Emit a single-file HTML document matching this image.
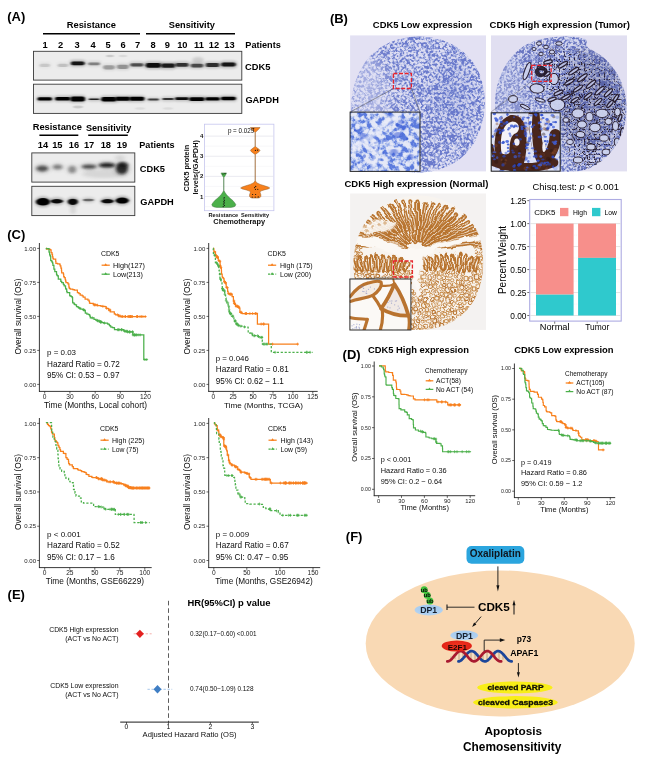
<!DOCTYPE html>
<html lang="en"><head><meta charset="utf-8"><title>CDK5 figure</title>
<style>html,body{margin:0;padding:0;background:#fff;}svg{display:block;}text{font-family:"Liberation Sans",sans-serif;}</style></head>
<body>
<svg width="669" height="773" viewBox="0 0 669 773">
<rect width="669" height="773" fill="#ffffff"/>
<defs>
<filter id="b1" x="-30%" y="-80%" width="160%" height="260%"><feGaussianBlur stdDeviation="1.1 0.7"/></filter>
<filter id="b2" x="-30%" y="-80%" width="160%" height="260%"><feGaussianBlur stdDeviation="1.6 1.1"/></filter>
<filter id="b3" x="-30%" y="-80%" width="160%" height="260%"><feGaussianBlur stdDeviation="2.2 1.6"/></filter>
<filter id="b8" x="-50%" y="-50%" width="200%" height="200%"><feGaussianBlur stdDeviation="8"/></filter>
<filter id="soft" x="-10%" y="-10%" width="120%" height="120%"><feGaussianBlur stdDeviation="0.5"/></filter>
</defs>
<text x="7.20" y="21.20" font-size="13" font-weight="bold" fill="#000">(A)</text>
<text x="66.74" y="28.00" font-size="9.34" font-weight="bold" fill="#000">Resistance</text>
<text x="168.75" y="27.70" font-size="9.22" font-weight="bold" fill="#000">Sensitivity</text>
<line x1="43.00" y1="33.80" x2="140.00" y2="33.80" stroke="#000" stroke-width="1.5" />
<line x1="146.00" y1="33.80" x2="235.00" y2="33.80" stroke="#000" stroke-width="1.5" />
<text x="42.41" y="48.30" font-size="9.3" font-weight="bold" fill="#000">1</text>
<text x="57.91" y="48.30" font-size="9.3" font-weight="bold" fill="#000">2</text>
<text x="74.41" y="48.30" font-size="9.3" font-weight="bold" fill="#000">3</text>
<text x="90.41" y="48.30" font-size="9.3" font-weight="bold" fill="#000">4</text>
<text x="105.41" y="48.30" font-size="9.3" font-weight="bold" fill="#000">5</text>
<text x="120.41" y="48.30" font-size="9.3" font-weight="bold" fill="#000">6</text>
<text x="134.91" y="48.30" font-size="9.3" font-weight="bold" fill="#000">7</text>
<text x="150.41" y="48.30" font-size="9.3" font-weight="bold" fill="#000">8</text>
<text x="164.81" y="48.30" font-size="9.3" font-weight="bold" fill="#000">9</text>
<text x="177.13" y="48.30" font-size="9.3" font-weight="bold" fill="#000">10</text>
<text x="193.98" y="48.30" font-size="9.3" font-weight="bold" fill="#000">11</text>
<text x="208.83" y="48.30" font-size="9.3" font-weight="bold" fill="#000">12</text>
<text x="224.23" y="48.30" font-size="9.3" font-weight="bold" fill="#000">13</text>
<text x="245.30" y="48.40" font-size="9.15" font-weight="bold" fill="#000">Patients</text>
<text x="245.00" y="70.00" font-size="9.32" font-weight="bold" fill="#000">CDK5</text>
<text x="245.40" y="102.60" font-size="9.28" font-weight="bold" fill="#000">GAPDH</text>
<clipPath id="cA1"><rect x="33.5" y="51.3" width="208.3" height="28.8"/></clipPath>
<rect x="33.50" y="51.30" width="208.30" height="28.80" fill="#ececec" stroke="#3a3a3a" stroke-width="0.9" />
<g clip-path="url(#cA1)">
<rect x="38.3" y="62.1" width="13.0" height="6.4" rx="3.2" ry="3.2" fill="#333" opacity="0.04" filter="url(#b2)"/>
<rect x="39.8" y="63.7" width="10.0" height="3.2" rx="1.6" ry="1.6" fill="#0a0a0a" opacity="0.13" filter="url(#b1)"/>
<rect x="56.4" y="62.1" width="13.0" height="6.4" rx="3.2" ry="3.2" fill="#333" opacity="0.04" filter="url(#b2)"/>
<rect x="57.9" y="63.7" width="10.0" height="3.2" rx="1.6" ry="1.6" fill="#0a0a0a" opacity="0.16" filter="url(#b1)"/>
<rect x="69.5" y="59.8" width="16.5" height="7.0" rx="3.5" ry="3.5" fill="#333" opacity="0.27" filter="url(#b2)"/>
<rect x="71.0" y="61.4" width="13.5" height="3.8" rx="1.9" ry="1.9" fill="#0a0a0a" opacity="0.95" filter="url(#b1)"/>
<rect x="86.8" y="60.8" width="14.5" height="6.0" rx="3.0" ry="3.0" fill="#333" opacity="0.12" filter="url(#b2)"/>
<rect x="88.3" y="62.4" width="11.5" height="2.8" rx="1.4" ry="1.4" fill="#0a0a0a" opacity="0.42" filter="url(#b1)"/>
<rect x="101.8" y="63.6" width="14.5" height="7.4" rx="3.7" ry="3.7" fill="#333" opacity="0.08" filter="url(#b2)"/>
<rect x="103.2" y="65.2" width="11.5" height="4.2" rx="2.1" ry="2.1" fill="#0a0a0a" opacity="0.30" filter="url(#b1)"/>
<rect x="115.5" y="63.1" width="14.5" height="7.4" rx="3.7" ry="3.7" fill="#333" opacity="0.10" filter="url(#b2)"/>
<rect x="117.0" y="64.7" width="11.5" height="4.2" rx="2.1" ry="2.1" fill="#0a0a0a" opacity="0.34" filter="url(#b1)"/>
<rect x="128.9" y="61.6" width="16.0" height="6.4" rx="3.2" ry="3.2" fill="#333" opacity="0.18" filter="url(#b2)"/>
<rect x="130.4" y="63.2" width="13.0" height="3.2" rx="1.6" ry="1.6" fill="#0a0a0a" opacity="0.66" filter="url(#b1)"/>
<rect x="144.2" y="61.3" width="18.5" height="8.0" rx="4.0" ry="4.0" fill="#333" opacity="0.28" filter="url(#b2)"/>
<rect x="145.7" y="62.9" width="15.5" height="4.8" rx="2.4" ry="2.4" fill="#0a0a0a" opacity="1.00" filter="url(#b1)"/>
<rect x="159.7" y="61.8" width="17.0" height="7.6" rx="3.8" ry="3.8" fill="#333" opacity="0.26" filter="url(#b2)"/>
<rect x="161.2" y="63.4" width="14.0" height="4.4" rx="2.2" ry="2.2" fill="#0a0a0a" opacity="0.92" filter="url(#b1)"/>
<rect x="174.0" y="61.3" width="16.0" height="7.0" rx="3.5" ry="3.5" fill="#333" opacity="0.22" filter="url(#b2)"/>
<rect x="175.5" y="62.9" width="13.0" height="3.8" rx="1.9" ry="1.9" fill="#0a0a0a" opacity="0.80" filter="url(#b1)"/>
<rect x="189.2" y="62.1" width="15.5" height="7.0" rx="3.5" ry="3.5" fill="#333" opacity="0.19" filter="url(#b2)"/>
<rect x="190.8" y="63.7" width="12.5" height="3.8" rx="1.9" ry="1.9" fill="#0a0a0a" opacity="0.68" filter="url(#b1)"/>
<rect x="204.3" y="61.5" width="16.5" height="7.0" rx="3.5" ry="3.5" fill="#333" opacity="0.23" filter="url(#b2)"/>
<rect x="205.8" y="63.1" width="13.5" height="3.8" rx="1.9" ry="1.9" fill="#0a0a0a" opacity="0.82" filter="url(#b1)"/>
<rect x="219.7" y="60.8" width="17.5" height="7.4" rx="3.7" ry="3.7" fill="#333" opacity="0.27" filter="url(#b2)"/>
<rect x="221.2" y="62.4" width="14.5" height="4.2" rx="2.1" ry="2.1" fill="#0a0a0a" opacity="0.95" filter="url(#b1)"/>
<ellipse cx="110" cy="56" rx="4" ry="1.2" fill="#555" opacity=".22" filter="url(#b1)"/>
<ellipse cx="123" cy="56" rx="4" ry="1.2" fill="#555" opacity=".12" filter="url(#b1)"/>
<ellipse cx="198" cy="60" rx="6" ry="3" fill="#555" opacity=".2" filter="url(#b2)"/>
</g>
<clipPath id="cA2"><rect x="33.5" y="84.2" width="208.3" height="29.2"/></clipPath>
<rect x="33.50" y="84.20" width="208.30" height="29.20" fill="#ececec" stroke="#3a3a3a" stroke-width="0.9" />
<g clip-path="url(#cA2)">
<rect x="36.3" y="96.0" width="16.9" height="6.1" rx="3.0" ry="3.0" fill="#333" opacity="0.25" filter="url(#b2)"/>
<rect x="37.5" y="97.3" width="14.5" height="3.3" rx="1.6" ry="1.6" fill="#050505" opacity="1.00" filter="url(#b1)"/>
<rect x="54.0" y="95.5" width="17.9" height="6.5" rx="3.2" ry="3.2" fill="#333" opacity="0.25" filter="url(#b2)"/>
<rect x="55.1" y="96.9" width="15.5" height="3.7" rx="1.9" ry="1.9" fill="#050505" opacity="1.00" filter="url(#b1)"/>
<rect x="69.2" y="95.1" width="16.9" height="7.8" rx="3.9" ry="3.9" fill="#333" opacity="0.25" filter="url(#b2)"/>
<rect x="70.5" y="96.5" width="14.5" height="5.0" rx="2.5" ry="2.5" fill="#050505" opacity="1.00" filter="url(#b1)"/>
<rect x="87.6" y="97.2" width="12.9" height="4.2" rx="2.1" ry="2.1" fill="#333" opacity="0.21" filter="url(#b2)"/>
<rect x="88.8" y="98.6" width="10.5" height="1.4" rx="0.7" ry="0.7" fill="#050505" opacity="0.85" filter="url(#b1)"/>
<rect x="100.0" y="95.6" width="17.9" height="7.4" rx="3.7" ry="3.7" fill="#333" opacity="0.25" filter="url(#b2)"/>
<rect x="101.2" y="97.0" width="15.5" height="4.6" rx="2.3" ry="2.3" fill="#050505" opacity="1.00" filter="url(#b1)"/>
<rect x="114.1" y="95.4" width="17.4" height="6.7" rx="3.3" ry="3.3" fill="#333" opacity="0.25" filter="url(#b2)"/>
<rect x="115.3" y="96.8" width="15.0" height="3.9" rx="1.9" ry="1.9" fill="#050505" opacity="1.00" filter="url(#b1)"/>
<rect x="128.2" y="95.5" width="17.4" height="6.7" rx="3.3" ry="3.3" fill="#333" opacity="0.25" filter="url(#b2)"/>
<rect x="129.4" y="96.8" width="15.0" height="3.9" rx="1.9" ry="1.9" fill="#050505" opacity="1.00" filter="url(#b1)"/>
<rect x="146.7" y="97.2" width="13.4" height="4.7" rx="2.3" ry="2.3" fill="#333" opacity="0.17" filter="url(#b2)"/>
<rect x="147.9" y="98.6" width="11.0" height="1.9" rx="0.9" ry="0.9" fill="#050505" opacity="0.70" filter="url(#b1)"/>
<rect x="161.2" y="96.5" width="13.9" height="5.0" rx="2.5" ry="2.5" fill="#333" opacity="0.19" filter="url(#b2)"/>
<rect x="162.4" y="97.9" width="11.5" height="2.2" rx="1.1" ry="1.1" fill="#050505" opacity="0.75" filter="url(#b1)"/>
<rect x="174.1" y="95.9" width="15.9" height="5.7" rx="2.8" ry="2.8" fill="#333" opacity="0.24" filter="url(#b2)"/>
<rect x="175.2" y="97.2" width="13.5" height="2.9" rx="1.4" ry="1.4" fill="#050505" opacity="0.95" filter="url(#b1)"/>
<rect x="188.1" y="95.8" width="17.9" height="6.5" rx="3.2" ry="3.2" fill="#333" opacity="0.25" filter="url(#b2)"/>
<rect x="189.2" y="97.2" width="15.5" height="3.7" rx="1.9" ry="1.9" fill="#050505" opacity="1.00" filter="url(#b1)"/>
<rect x="204.2" y="96.0" width="16.9" height="6.1" rx="3.0" ry="3.0" fill="#333" opacity="0.25" filter="url(#b2)"/>
<rect x="205.3" y="97.3" width="14.5" height="3.3" rx="1.6" ry="1.6" fill="#050505" opacity="1.00" filter="url(#b1)"/>
<rect x="219.7" y="95.3" width="17.4" height="6.3" rx="3.1" ry="3.1" fill="#333" opacity="0.25" filter="url(#b2)"/>
<rect x="220.9" y="96.8" width="15.0" height="3.5" rx="1.8" ry="1.8" fill="#050505" opacity="1.00" filter="url(#b1)"/>
<ellipse cx="78" cy="107" rx="5" ry="1.4" fill="#555" opacity=".22" filter="url(#b1)"/>
<ellipse cx="140" cy="108.5" rx="5" ry="1.2" fill="#555" opacity=".1" filter="url(#b1)"/>
<ellipse cx="168" cy="108.5" rx="5" ry="1.2" fill="#555" opacity=".1" filter="url(#b1)"/>
</g>
<text x="32.70" y="130.40" font-size="9.32" font-weight="bold" fill="#000">Resistance</text>
<text x="86.00" y="130.90" font-size="9.08" font-weight="bold" fill="#000">Sensitivity</text>
<line x1="39.40" y1="135.20" x2="78.30" y2="135.20" stroke="#000" stroke-width="1.5" />
<line x1="88.20" y1="135.20" x2="127.80" y2="135.20" stroke="#000" stroke-width="1.5" />
<text x="37.73" y="147.90" font-size="9.3" font-weight="bold" fill="#000">14</text>
<text x="52.13" y="147.90" font-size="9.3" font-weight="bold" fill="#000">15</text>
<text x="68.83" y="147.90" font-size="9.3" font-weight="bold" fill="#000">16</text>
<text x="83.93" y="147.90" font-size="9.3" font-weight="bold" fill="#000">17</text>
<text x="100.63" y="147.90" font-size="9.3" font-weight="bold" fill="#000">18</text>
<text x="116.73" y="147.90" font-size="9.3" font-weight="bold" fill="#000">19</text>
<text x="139.30" y="147.90" font-size="9.07" font-weight="bold" fill="#000">Patients</text>
<text x="139.80" y="171.80" font-size="9.25" font-weight="bold" fill="#000">CDK5</text>
<text x="140.30" y="204.80" font-size="9.28" font-weight="bold" fill="#000">GAPDH</text>
<clipPath id="cA3"><rect x="31.8" y="152.9" width="103" height="29.2"/></clipPath>
<rect x="31.80" y="152.90" width="103.00" height="29.20" fill="#ececec" stroke="#3a3a3a" stroke-width="0.9" />
<g clip-path="url(#cA3)">
<ellipse cx="42.3" cy="168.6" rx="7.95" ry="5.0" fill="#333" opacity="0.19" filter="url(#b3)"/>
<ellipse cx="42.3" cy="168.6" rx="5.75" ry="2.8" fill="#111" opacity="0.62" filter="url(#b2)"/>
<ellipse cx="57.6" cy="167" rx="6.7" ry="4.4" fill="#333" opacity="0.13" filter="url(#b3)"/>
<ellipse cx="57.6" cy="167" rx="4.5" ry="2.2" fill="#111" opacity="0.42" filter="url(#b2)"/>
<ellipse cx="72.2" cy="169.4" rx="5.95" ry="5.7" fill="#333" opacity="0.11" filter="url(#b3)"/>
<ellipse cx="72.2" cy="169.4" rx="3.75" ry="3.5" fill="#111" opacity="0.36" filter="url(#b2)"/>
<ellipse cx="89" cy="166.7" rx="9.2" ry="4.1" fill="#333" opacity="0.20" filter="url(#b3)"/>
<ellipse cx="89" cy="166.7" rx="7.0" ry="1.9" fill="#111" opacity="0.66" filter="url(#b2)"/>
<ellipse cx="107" cy="165.2" rx="10.2" ry="4.300000000000001" fill="#333" opacity="0.26" filter="url(#b3)"/>
<ellipse cx="107" cy="165.2" rx="8.0" ry="2.1" fill="#111" opacity="0.88" filter="url(#b2)"/>
<ellipse cx="121.8" cy="168.6" rx="7.95" ry="7.7" fill="#333" opacity="0.25" filter="url(#b3)"/>
<ellipse cx="121.8" cy="168.6" rx="5.75" ry="5.5" fill="#111" opacity="0.82" filter="url(#b2)"/>
<ellipse cx="123" cy="165" rx="5.5" ry="3" fill="#111" opacity=".6" filter="url(#b2)"/>
<ellipse cx="104" cy="174" rx="22" ry="4" fill="#666" opacity=".16" filter="url(#b3)"/>
<ellipse cx="120" cy="158" rx="5" ry="3" fill="#666" opacity=".16" filter="url(#b3)"/>
</g>
<clipPath id="cA4"><rect x="31.8" y="186.3" width="103" height="29.3"/></clipPath>
<rect x="31.80" y="186.30" width="103.00" height="29.30" fill="#ececec" stroke="#3a3a3a" stroke-width="0.9" />
<g clip-path="url(#cA4)">
<ellipse cx="43" cy="201.8" rx="8.6" ry="5.5" fill="#333" opacity="0.30" filter="url(#b2)"/>
<ellipse cx="43" cy="201.8" rx="7.0" ry="3.7" fill="#050505" opacity="1" filter="url(#b1)"/>
<ellipse cx="56.8" cy="201.2" rx="7.85" ry="4.0" fill="#333" opacity="0.28" filter="url(#b2)"/>
<ellipse cx="56.8" cy="201.2" rx="6.25" ry="2.2" fill="#050505" opacity="0.95" filter="url(#b1)"/>
<ellipse cx="72.8" cy="201.8" rx="6.6" ry="4.9" fill="#333" opacity="0.28" filter="url(#b2)"/>
<ellipse cx="72.8" cy="201.8" rx="5.0" ry="3.1" fill="#050505" opacity="0.95" filter="url(#b1)"/>
<ellipse cx="88.4" cy="200" rx="7.1" ry="3.1" fill="#333" opacity="0.15" filter="url(#b2)"/>
<ellipse cx="88.4" cy="200" rx="5.5" ry="1.3" fill="#050505" opacity="0.5" filter="url(#b1)"/>
<ellipse cx="107.5" cy="201.2" rx="7.85" ry="3.9000000000000004" fill="#333" opacity="0.28" filter="url(#b2)"/>
<ellipse cx="107.5" cy="201.2" rx="6.25" ry="2.1" fill="#050505" opacity="0.95" filter="url(#b1)"/>
<ellipse cx="122.2" cy="200.6" rx="8.1" ry="4.8" fill="#333" opacity="0.30" filter="url(#b2)"/>
<ellipse cx="122.2" cy="200.6" rx="6.5" ry="3.0" fill="#050505" opacity="1" filter="url(#b1)"/>
<ellipse cx="73" cy="210" rx="3" ry="4" fill="#666" opacity=".15" filter="url(#b2)"/>
</g>
<rect x="204.40" y="124.20" width="69.50" height="86.50" fill="#ffffff" stroke="#c6c6ee" stroke-width="0.8" />
<line x1="204.80" y1="196.50" x2="273.50" y2="196.50" stroke="#dedee8" stroke-width="0.6" />
<text x="199.96" y="198.60" font-size="6" font-weight="bold" fill="#111">1</text>
<line x1="204.80" y1="176.37" x2="273.50" y2="176.37" stroke="#dedee8" stroke-width="0.6" />
<text x="199.96" y="178.47" font-size="6" font-weight="bold" fill="#111">2</text>
<line x1="204.80" y1="156.24" x2="273.50" y2="156.24" stroke="#dedee8" stroke-width="0.6" />
<text x="199.96" y="158.34" font-size="6" font-weight="bold" fill="#111">3</text>
<line x1="204.80" y1="136.11" x2="273.50" y2="136.11" stroke="#dedee8" stroke-width="0.6" />
<text x="199.96" y="138.21" font-size="6" font-weight="bold" fill="#111">4</text>
<line x1="204.80" y1="206.56" x2="273.50" y2="206.56" stroke="#ededf3" stroke-width="0.4" />
<line x1="204.80" y1="186.44" x2="273.50" y2="186.44" stroke="#ededf3" stroke-width="0.4" />
<line x1="204.80" y1="166.31" x2="273.50" y2="166.31" stroke="#ededf3" stroke-width="0.4" />
<line x1="204.80" y1="146.18" x2="273.50" y2="146.18" stroke="#ededf3" stroke-width="0.4" />
<path d="M216.8,207.4 L214.3,207.0 L212.5,206.2 L211.8,204.6 L212.8,202.9 L214.8,200.5 L217.2,198.5 L219.4,196.5 L221.2,194.5 L222.6,192.5 L223.7,190.5 L223.7,177.4 L222.9,176.4 L221.9,174.8 L221.2,173.4 L221.2,172.9 L226.4,172.9 L226.4,173.4 L225.7,174.8 L224.7,176.4 L223.9,177.4 L223.9,190.5 L225.0,192.5 L226.4,194.5 L228.2,196.5 L230.4,198.5 L232.8,200.5 L234.8,202.9 L235.8,204.6 L235.1,206.2 L233.3,207.0 L230.8,207.4Z" fill="#4bb04a" stroke="#3c6e3c" stroke-width="0.45" stroke-linejoin="round"/>
<path d="M252.2,198.1 L250.4,197.5 L249.6,196.5 L249.5,194.9 L250.0,193.3 L250.4,192.1 L249.6,191.1 L246.2,189.9 L242.2,188.9 L240.6,188.0 L242.2,187.0 L245.8,185.8 L250.2,184.4 L253.6,182.8 L255.1,180.8 L255.1,154.6 L253.6,153.4 L251.4,151.8 L250.4,150.4 L251.6,149.0 L253.8,147.6 L255.1,146.2 L255.1,132.5 L253.9,131.3 L252.2,129.7 L250.6,128.1 L250.4,127.5 L260.0,127.5 L259.8,128.1 L258.2,129.7 L256.5,131.3 L255.3,132.5 L255.3,146.2 L256.6,147.6 L258.8,149.0 L260.0,150.4 L259.0,151.8 L256.8,153.4 L255.3,154.6 L255.3,180.8 L256.8,182.8 L260.2,184.4 L264.6,185.8 L268.2,187.0 L269.8,188.0 L268.2,188.9 L264.2,189.9 L260.8,191.1 L260.0,192.1 L260.4,193.3 L260.9,194.9 L260.8,196.5 L260.0,197.5 L258.2,198.1Z" fill="#f8801c" stroke="#8a5a2a" stroke-width="0.45" stroke-linejoin="round"/>
<circle cx="223.2" cy="206.6" r="0.6" fill="#111"/>
<circle cx="224.4" cy="205.4" r="0.6" fill="#111"/>
<circle cx="223.4" cy="204.1" r="0.6" fill="#111"/>
<circle cx="224.3" cy="202.9" r="0.6" fill="#111"/>
<circle cx="223.8" cy="201.7" r="0.6" fill="#111"/>
<circle cx="224.4" cy="200.5" r="0.6" fill="#111"/>
<circle cx="224.0" cy="198.9" r="0.6" fill="#111"/>
<circle cx="224.2" cy="197.5" r="0.6" fill="#111"/>
<circle cx="223.0" cy="174.0" r="0.6" fill="#111"/>
<circle cx="225.0" cy="173.6" r="0.6" fill="#111"/>
<circle cx="252.2" cy="197.1" r="0.6" fill="#111"/>
<circle cx="255.2" cy="197.1" r="0.6" fill="#111"/>
<circle cx="258.2" cy="196.9" r="0.6" fill="#111"/>
<circle cx="252.6" cy="194.5" r="0.6" fill="#111"/>
<circle cx="255.6" cy="194.5" r="0.6" fill="#111"/>
<circle cx="255.5" cy="189.3" r="0.6" fill="#111"/>
<circle cx="257.8" cy="189.3" r="0.6" fill="#111"/>
<circle cx="254.6" cy="187.6" r="0.6" fill="#111"/>
<circle cx="255.7" cy="186.4" r="0.6" fill="#111"/>
<circle cx="255.4" cy="150.4" r="0.6" fill="#111"/>
<circle cx="257.6" cy="150.2" r="0.6" fill="#111"/>
<circle cx="253.7" cy="128.5" r="0.6" fill="#111"/>
<text x="227.89" y="132.80" font-size="6.29" fill="#111">p = 0.029</text>
<text transform="translate(189.20,168.10) rotate(-90)" x="-23.29" font-size="7.29" font-weight="bold" fill="#111">CDK5 protein</text>
<text transform="translate(198.10,167.20) rotate(-90)" x="-27.29" font-size="7.44" font-weight="bold" fill="#111">levels(/GAPDH)</text>
<text x="208.56" y="216.50" font-size="5.62" font-weight="bold" fill="#111">Resistance</text>
<text x="241.10" y="216.50" font-size="5.6" font-weight="bold" fill="#111">Sensitivity</text>
<text x="213.30" y="223.90" font-size="7.4" font-weight="bold" fill="#111">Chemotherapy</text>
<text x="329.90" y="22.50" font-size="13" font-weight="bold" fill="#000">(B)</text>
<text x="372.86" y="28.30" font-size="9.42" font-weight="bold" fill="#000">CDK5 Low expression</text>
<text x="489.54" y="28.30" font-size="9.52" font-weight="bold" fill="#000">CDK5 High expression (Tumor)</text>
<text x="344.52" y="187.20" font-size="9.49" font-weight="bold" fill="#000">CDK5 High expression (Normal)</text>
<defs>
<filter id="tBlue" x="0" y="0" width="100%" height="100%" color-interpolation-filters="sRGB">
 <feTurbulence type="fractalNoise" baseFrequency="0.42" numOctaves="2" seed="7"/>
 <feColorMatrix type="matrix" values="1 0 0 0 0  0 0 0 0 0  0 0 0 0 0  0 0 0 0 1" result="hi"/>
 <feTurbulence type="turbulence" baseFrequency="0.12" numOctaves="2" seed="3"/>
 <feColorMatrix type="matrix" values="0 0 0 0 0  1 0 0 0 0  0 0 0 0 0  0 0 0 0 1" result="lo"/>
 <feComposite in="hi" in2="lo" operator="arithmetic" k1="0" k2="1" k3="1" k4="0"/>
 <feColorMatrix type="matrix" values="3.4 1.6 0 0 -1.62  3.4 1.6 0 0 -1.62  3.4 1.6 0 0 -1.62  0 0 0 0 1"/>
 <feComponentTransfer><feFuncR type="table" tableValues="0.87 0.66 0.42"/><feFuncG type="table" tableValues="0.87 0.70 0.48"/><feFuncB type="table" tableValues="0.95 0.89 0.80"/></feComponentTransfer>
</filter>
<filter id="tBlue2" x="0" y="0" width="100%" height="100%" color-interpolation-filters="sRGB">
 <feTurbulence type="fractalNoise" baseFrequency="0.45" numOctaves="2" seed="11"/>
 <feColorMatrix type="matrix" values="1 0 0 0 0  0 0 0 0 0  0 0 0 0 0  0 0 0 0 1" result="hi"/>
 <feTurbulence type="turbulence" baseFrequency="0.09" numOctaves="2" seed="5"/>
 <feColorMatrix type="matrix" values="0 0 0 0 0  1 0 0 0 0  0 0 0 0 0  0 0 0 0 1" result="lo"/>
 <feComposite in="hi" in2="lo" operator="arithmetic" k1="0" k2="1" k3="1" k4="0"/>
 <feColorMatrix type="matrix" values="3.2 1.2 0 0 -1.42  3.2 1.2 0 0 -1.42  3.2 1.2 0 0 -1.42  0 0 0 0 1"/>
 <feComponentTransfer><feFuncR type="table" tableValues="0.84 0.63 0.40"/><feFuncG type="table" tableValues="0.85 0.67 0.45"/><feFuncB type="table" tableValues="0.94 0.87 0.75"/></feComponentTransfer>
</filter>
<filter id="tIns1" x="0" y="0" width="100%" height="100%" color-interpolation-filters="sRGB">
 <feTurbulence type="fractalNoise" baseFrequency="0.17" numOctaves="3" seed="21"/>
 <feColorMatrix type="matrix" values="3.6 0 0 0 -1.3  3.6 0 0 0 -1.3  3.6 0 0 0 -1.3  0 0 0 0 1"/>
 <feComponentTransfer><feFuncR type="table" tableValues="0.36 0.55 0.72 0.86 0.90"/><feFuncG type="table" tableValues="0.48 0.64 0.78 0.88 0.91"/><feFuncB type="table" tableValues="0.87 0.91 0.94 0.96 0.97"/></feComponentTransfer>
</filter>
<filter id="tIns2" x="0" y="0" width="100%" height="100%" color-interpolation-filters="sRGB">
 <feTurbulence type="fractalNoise" baseFrequency="0.2" numOctaves="2" seed="9"/>
 <feColorMatrix type="matrix" values="4 0 0 0 -1.5  4 0 0 0 -1.5  4 0 0 0 -1.5  0 0 0 0 1"/>
 <feComponentTransfer><feFuncR type="table" tableValues="0.22 0.40 0.56 0.42"/><feFuncG type="table" tableValues="0.12 0.24 0.36 0.40"/><feFuncB type="table" tableValues="0.10 0.16 0.26 0.66"/></feComponentTransfer>
</filter>
<filter id="tDark" x="-15%" y="-15%" width="130%" height="130%" color-interpolation-filters="sRGB">
 <feGaussianBlur in="SourceGraphic" stdDeviation="5" result="m"/>
 <feTurbulence type="turbulence" baseFrequency="0.2" numOctaves="2" seed="13"/>
 <feColorMatrix type="matrix" values="0 0 0 0 0.15  0 0 0 0 0.11  0 0 0 0 0.18  -9 0 0 0 1.3" result="v"/>
 <feComposite in="v" in2="m" operator="in"/>
</filter>
<filter id="wob" x="-5%" y="-5%" width="110%" height="110%" color-interpolation-filters="sRGB">
 <feTurbulence type="fractalNoise" baseFrequency="0.07" numOctaves="2" seed="8" result="n"/>
 <feDisplacementMap in="SourceGraphic" in2="n" scale="7" xChannelSelector="R" yChannelSelector="G"/>
</filter>
<filter id="tBrown" x="0" y="0" width="100%" height="100%" color-interpolation-filters="sRGB">
 <feTurbulence type="fractalNoise" baseFrequency="0.6" numOctaves="2" seed="2"/>
 <feColorMatrix type="matrix" values="3 0 0 0 -1.0  3 0 0 0 -1.0  3 0 0 0 -1.0  0 0 0 0 1"/>
 <feComponentTransfer><feFuncR type="table" tableValues="0.80 0.97"/><feFuncG type="table" tableValues="0.62 0.95"/><feFuncB type="table" tableValues="0.42 0.93"/></feComponentTransfer>
</filter>
<clipPath id="cB1"><path d="M418,36.5 C445,36 470,50 480,75 C488,96 486,122 474,143 C462,163 440,173 416,172.5 C390,172 366,158 356,134 C347,112 351,84 364,64 C376,46 396,37 418,36.5Z"/></clipPath>
<clipPath id="cB2"><path d="M538,40 C552,36 575,35 585,39 C590,42 583,47 592,50 C612,60 626,82 626.5,106 C627,135 612,158 590,168 C572,175 548,172 530,163 C508,150 495,128 495,104 C495,80 506,58 524,46 C529,43 533,41 538,40Z"/></clipPath>
<clipPath id="cB3"><path d="M417.6,195.5 C444,195 468,210 478,233 C486,254 485,282 473,302 C461,321 441,329.9 417,329.9 C393,329.9 372,319 361,298 C350.5,276 351,249 362,228 C373,208 394,196 417.6,195.5Z"/></clipPath>
<clipPath id="cI1"><rect x="350.1" y="112.1" width="69.9" height="59.3"/></clipPath>
<clipPath id="cI2"><rect x="491.2" y="112.8" width="69" height="58.4"/></clipPath>
<clipPath id="cI3"><rect x="349.7" y="279" width="61.2" height="51"/></clipPath>
</defs>
<rect x="350.10" y="35.40" width="135.90" height="136.00" fill="#e3e1f3" stroke="none" stroke-width="1" />
<rect x="349" y="35" width="137" height="138" filter="url(#tBlue)" clip-path="url(#cB1)"/>
<g clip-path="url(#cB1)"><ellipse cx="368" cy="95" rx="20" ry="42" fill="#dfe0f4" opacity=".5" filter="url(#b8)"/><ellipse cx="455" cy="96" rx="20" ry="36" fill="#5f74c8" opacity=".12" filter="url(#b8)"/></g>
<line x1="393.50" y1="88.50" x2="350.10" y2="112.10" stroke="#444" stroke-width="0.5" />
<line x1="411.50" y1="88.50" x2="420.00" y2="112.00" stroke="#444" stroke-width="0.5" />
<rect x="350.1" y="112.1" width="69.9" height="59.3" filter="url(#tIns1)"/>
<g clip-path="url(#cI1)">
<ellipse cx="398" cy="135" rx="5" ry="3" fill="#3f5fd6" opacity=".55" filter="url(#b1)"/>
<ellipse cx="403" cy="128" rx="3" ry="2.4" fill="#3f5fd6" opacity=".55" filter="url(#b1)"/>
<ellipse cx="394" cy="152" rx="4" ry="3" fill="#3f5fd6" opacity=".55" filter="url(#b1)"/>
<ellipse cx="363" cy="136" rx="3.4" ry="3.2" fill="#3f5fd6" opacity=".55" filter="url(#b1)"/>
<ellipse cx="402" cy="122" rx="2.6" ry="2.4" fill="#3f5fd6" opacity=".55" filter="url(#b1)"/>
<ellipse cx="385" cy="140" rx="3" ry="2" fill="#3f5fd6" opacity=".55" filter="url(#b1)"/>
<ellipse cx="411" cy="157" rx="2.6" ry="3" fill="#3f5fd6" opacity=".55" filter="url(#b1)"/>
<ellipse cx="393.4" cy="155.3" rx="1.5" ry="1.8" fill="#3b5cd4" opacity="0.71" filter="url(#soft)"/>
<ellipse cx="413.7" cy="114.7" rx="1.3" ry="1.5" fill="#3b5cd4" opacity="0.68" filter="url(#soft)"/>
<ellipse cx="412.3" cy="119.5" rx="1.3" ry="1.0" fill="#3b5cd4" opacity="0.64" filter="url(#soft)"/>
<ellipse cx="390.0" cy="113.7" rx="1.1" ry="0.9" fill="#3b5cd4" opacity="0.77" filter="url(#soft)"/>
<ellipse cx="403.1" cy="122.1" rx="1.5" ry="1.2" fill="#3b5cd4" opacity="0.67" filter="url(#soft)"/>
<ellipse cx="359.6" cy="113.1" rx="1.6" ry="1.3" fill="#3b5cd4" opacity="0.53" filter="url(#soft)"/>
<ellipse cx="417.8" cy="162.7" rx="1.1" ry="1.3" fill="#3b5cd4" opacity="0.64" filter="url(#soft)"/>
<ellipse cx="397.1" cy="124.7" rx="1.7" ry="1.7" fill="#3b5cd4" opacity="0.79" filter="url(#soft)"/>
<ellipse cx="411.8" cy="130.0" rx="1.2" ry="0.9" fill="#3b5cd4" opacity="0.50" filter="url(#soft)"/>
<ellipse cx="355.4" cy="130.2" rx="1.4" ry="1.0" fill="#3b5cd4" opacity="0.69" filter="url(#soft)"/>
<ellipse cx="374.0" cy="130.7" rx="1.6" ry="1.5" fill="#3b5cd4" opacity="0.56" filter="url(#soft)"/>
<ellipse cx="383.7" cy="153.2" rx="0.9" ry="1.1" fill="#3b5cd4" opacity="0.46" filter="url(#soft)"/>
<ellipse cx="402.0" cy="161.2" rx="0.9" ry="1.0" fill="#3b5cd4" opacity="0.58" filter="url(#soft)"/>
<ellipse cx="390.3" cy="113.5" rx="0.9" ry="0.7" fill="#3b5cd4" opacity="0.78" filter="url(#soft)"/>
<ellipse cx="364.4" cy="156.1" rx="1.6" ry="1.9" fill="#3b5cd4" opacity="0.57" filter="url(#soft)"/>
<ellipse cx="375.1" cy="142.9" rx="1.5" ry="1.1" fill="#3b5cd4" opacity="0.71" filter="url(#soft)"/>
<ellipse cx="405.2" cy="162.0" rx="0.9" ry="1.1" fill="#3b5cd4" opacity="0.48" filter="url(#soft)"/>
<ellipse cx="374.2" cy="147.8" rx="1.6" ry="1.4" fill="#3b5cd4" opacity="0.77" filter="url(#soft)"/>
<ellipse cx="388.1" cy="130.8" rx="1.2" ry="0.9" fill="#3b5cd4" opacity="0.48" filter="url(#soft)"/>
<ellipse cx="361.1" cy="152.3" rx="1.7" ry="1.3" fill="#3b5cd4" opacity="0.47" filter="url(#soft)"/>
<ellipse cx="418.1" cy="143.4" rx="1.2" ry="1.0" fill="#3b5cd4" opacity="0.66" filter="url(#soft)"/>
<ellipse cx="407.2" cy="139.0" rx="1.2" ry="0.9" fill="#3b5cd4" opacity="0.77" filter="url(#soft)"/>
<path d="M352,150 C362,140 372,138 380,128 C386,122 392,120 398,114" stroke="#eceef9" stroke-width="5" fill="none" opacity=".75" filter="url(#b2)"/>
<path d="M372,171 C376,160 378,150 374,140" stroke="#eceef9" stroke-width="4" fill="none" opacity=".7" filter="url(#b2)"/>
</g>
<rect x="350.10" y="112.10" width="69.90" height="59.30" fill="none" stroke="#2a2a2a" stroke-width="1" />
<rect x="393.40" y="73.50" width="18.00" height="15.00" fill="none" stroke="#e8242c" stroke-width="1.3" stroke-dasharray="4 1.6"/>
<rect x="491.00" y="35.40" width="136.00" height="136.00" fill="#e1dff1" stroke="none" stroke-width="1" />
<rect x="490.5" y="35" width="137.5" height="138" filter="url(#tBlue2)" clip-path="url(#cB2)"/>
<g clip-path="url(#cB2)">
<ellipse cx="508" cy="100" rx="18" ry="48" fill="#cdd3f0" opacity=".35" filter="url(#b8)"/>
<ellipse cx="545" cy="152" rx="28" ry="18" fill="#c4cbee" opacity=".25" filter="url(#b8)"/>
<ellipse cx="590" cy="102" rx="32" ry="50" fill="#32345e" opacity=".24" filter="url(#b8)"/>
<path d="M560,50 C590,48 622,70 626,105 C628,140 612,165 585,170 C566,160 560,140 566,120 C556,100 540,90 536,70 C540,58 548,52 560,50Z" fill="#000" filter="url(#tDark)"/>
<ellipse cx="527.0" cy="71.0" rx="2.4" ry="9" transform="rotate(20 527.0 71.0)" fill="#ccd2ee" stroke="#241a2a" stroke-width="1.1" opacity="0.95"/>
<ellipse cx="554.0" cy="79.0" rx="4.4" ry="5.6" transform="rotate(0 554.0 79.0)" fill="#ccd2ee" stroke="#241a2a" stroke-width="1.0" opacity="0.95"/>
<ellipse cx="537.0" cy="88.5" rx="7" ry="4.6" transform="rotate(5 537.0 88.5)" fill="#ccd2ee" stroke="#241a2a" stroke-width="1.0" opacity="0.95"/>
<ellipse cx="513.0" cy="99.0" rx="4.4" ry="3.4" transform="rotate(0 513.0 99.0)" fill="#ccd2ee" stroke="#241a2a" stroke-width="1.0" opacity="0.95"/>
<ellipse cx="557.4" cy="104.8" rx="7.4" ry="5.8" transform="rotate(0 557.4 104.8)" fill="#ccd2ee" stroke="#241a2a" stroke-width="1.0" opacity="0.95"/>
<ellipse cx="578.0" cy="113.4" rx="6" ry="4.6" transform="rotate(0 578.0 113.4)" fill="#ccd2ee" stroke="#241a2a" stroke-width="0.9" opacity="0.95"/>
<ellipse cx="589.5" cy="116.7" rx="3.6" ry="4.2" transform="rotate(0 589.5 116.7)" fill="#ccd2ee" stroke="#241a2a" stroke-width="0.9" opacity="0.95"/>
<ellipse cx="602.0" cy="113.4" rx="6.2" ry="4.2" transform="rotate(0 602.0 113.4)" fill="#ccd2ee" stroke="#241a2a" stroke-width="0.9" opacity="0.95"/>
<ellipse cx="582.0" cy="124.5" rx="4.6" ry="3.6" transform="rotate(0 582.0 124.5)" fill="#ccd2ee" stroke="#241a2a" stroke-width="0.9" opacity="0.95"/>
<ellipse cx="595.0" cy="127.5" rx="5.4" ry="4.2" transform="rotate(0 595.0 127.5)" fill="#ccd2ee" stroke="#241a2a" stroke-width="0.9" opacity="0.95"/>
<ellipse cx="608.5" cy="121.5" rx="3.6" ry="3.2" transform="rotate(0 608.5 121.5)" fill="#ccd2ee" stroke="#241a2a" stroke-width="0.9" opacity="0.95"/>
<ellipse cx="580.5" cy="134.5" rx="4.4" ry="3" transform="rotate(10 580.5 134.5)" fill="#ccd2ee" stroke="#241a2a" stroke-width="0.9" opacity="0.95"/>
<ellipse cx="604.0" cy="138.0" rx="4.4" ry="3.2" transform="rotate(0 604.0 138.0)" fill="#ccd2ee" stroke="#241a2a" stroke-width="0.9" opacity="0.95"/>
<ellipse cx="615.5" cy="126.0" rx="3" ry="4.4" transform="rotate(0 615.5 126.0)" fill="#ccd2ee" stroke="#241a2a" stroke-width="0.9" opacity="0.95"/>
<ellipse cx="578.0" cy="160.0" rx="4.6" ry="3" transform="rotate(0 578.0 160.0)" fill="#ccd2ee" stroke="#241a2a" stroke-width="0.9" opacity="0.95"/>
<ellipse cx="617.5" cy="112.0" rx="3" ry="4" transform="rotate(0 617.5 112.0)" fill="#ccd2ee" stroke="#241a2a" stroke-width="0.9" opacity="0.95"/>
<ellipse cx="591.0" cy="147.0" rx="4.2" ry="3" transform="rotate(0 591.0 147.0)" fill="#ccd2ee" stroke="#241a2a" stroke-width="0.9" opacity="0.95"/>
<ellipse cx="606.0" cy="152.0" rx="4" ry="3" transform="rotate(0 606.0 152.0)" fill="#ccd2ee" stroke="#241a2a" stroke-width="0.9" opacity="0.95"/>
<ellipse cx="617.0" cy="142.0" rx="2.8" ry="4" transform="rotate(0 617.0 142.0)" fill="#ccd2ee" stroke="#241a2a" stroke-width="0.9" opacity="0.95"/>
<ellipse cx="566.0" cy="120.0" rx="3" ry="2.4" transform="rotate(0 566.0 120.0)" fill="#ccd2ee" stroke="#241a2a" stroke-width="0.9" opacity="0.95"/>
<ellipse cx="570.0" cy="142.0" rx="3.4" ry="2.6" transform="rotate(0 570.0 142.0)" fill="#ccd2ee" stroke="#241a2a" stroke-width="0.8" opacity="0.95"/>
<ellipse cx="539.0" cy="43.5" rx="2.6" ry="1.8" transform="rotate(0 539.0 43.5)" fill="#ccd2ee" stroke="#241a2a" stroke-width="0.9" opacity="0.95"/>
<ellipse cx="546.0" cy="47.0" rx="2.4" ry="1.8" transform="rotate(0 546.0 47.0)" fill="#ccd2ee" stroke="#241a2a" stroke-width="0.9" opacity="0.95"/>
<ellipse cx="552.0" cy="52.0" rx="2.6" ry="2" transform="rotate(0 552.0 52.0)" fill="#ccd2ee" stroke="#241a2a" stroke-width="0.9" opacity="0.95"/>
<ellipse cx="541.0" cy="54.0" rx="2.2" ry="1.8" transform="rotate(0 541.0 54.0)" fill="#ccd2ee" stroke="#241a2a" stroke-width="0.9" opacity="0.95"/>
<ellipse cx="559.0" cy="43.5" rx="3.2" ry="1.8" transform="rotate(0 559.0 43.5)" fill="#ccd2ee" stroke="#241a2a" stroke-width="0.9" opacity="0.95"/>
<ellipse cx="534.0" cy="49.0" rx="2" ry="1.6" transform="rotate(0 534.0 49.0)" fill="#ccd2ee" stroke="#241a2a" stroke-width="0.8" opacity="0.95"/>
<ellipse cx="525.0" cy="107.0" rx="5" ry="1.6" transform="rotate(25 525.0 107.0)" fill="#ccd2ee" stroke="#241a2a" stroke-width="0.9" opacity="0.95"/>
<ellipse cx="540.0" cy="100.0" rx="5" ry="1.6" transform="rotate(15 540.0 100.0)" fill="#ccd2ee" stroke="#241a2a" stroke-width="0.9" opacity="0.95"/>
<ellipse cx="600.0" cy="164.0" rx="4" ry="2.4" transform="rotate(0 600.0 164.0)" fill="#ccd2ee" stroke="#241a2a" stroke-width="0.8" opacity="0.95"/>
<ellipse cx="562.8" cy="64.7" rx="5.4" ry="1.7" transform="rotate(-32 562.8 64.7)" fill="#b9bfe4" stroke="#241a2a" stroke-width="1.25" opacity=".95"/>
<ellipse cx="573.7" cy="71.2" rx="5.9" ry="1.7" transform="rotate(-35 573.7 71.2)" fill="#b9bfe4" stroke="#241a2a" stroke-width="1.25" opacity=".95"/>
<ellipse cx="582.4" cy="77.7" rx="5.9" ry="1.7" transform="rotate(-38 582.4 77.7)" fill="#b9bfe4" stroke="#241a2a" stroke-width="1.25" opacity=".95"/>
<ellipse cx="591" cy="84.2" rx="5.9" ry="1.7" transform="rotate(-40 591 84.2)" fill="#b9bfe4" stroke="#241a2a" stroke-width="1.25" opacity=".95"/>
<ellipse cx="599.7" cy="90.7" rx="5.9" ry="1.7" transform="rotate(-42 599.7 90.7)" fill="#b9bfe4" stroke="#241a2a" stroke-width="1.25" opacity=".95"/>
<ellipse cx="608.4" cy="92.8" rx="5.4" ry="1.7" transform="rotate(-45 608.4 92.8)" fill="#b9bfe4" stroke="#241a2a" stroke-width="1.25" opacity=".95"/>
<ellipse cx="569.4" cy="82" rx="5.4" ry="1.6" transform="rotate(-30 569.4 82)" fill="#b9bfe4" stroke="#241a2a" stroke-width="1.25" opacity=".95"/>
<ellipse cx="578" cy="88.5" rx="5.4" ry="1.6" transform="rotate(-35 578 88.5)" fill="#b9bfe4" stroke="#241a2a" stroke-width="1.25" opacity=".95"/>
<ellipse cx="558.5" cy="92.8" rx="4.9" ry="1.6" transform="rotate(-25 558.5 92.8)" fill="#b9bfe4" stroke="#241a2a" stroke-width="1.25" opacity=".95"/>
<ellipse cx="552" cy="99.3" rx="4.4" ry="1.6" transform="rotate(-20 552 99.3)" fill="#b9bfe4" stroke="#241a2a" stroke-width="1.25" opacity=".95"/>
<ellipse cx="566" cy="97" rx="4.9" ry="1.5" transform="rotate(-30 566 97)" fill="#b9bfe4" stroke="#241a2a" stroke-width="1.25" opacity=".95"/>
<ellipse cx="588" cy="96" rx="4.9" ry="1.5" transform="rotate(-38 588 96)" fill="#b9bfe4" stroke="#241a2a" stroke-width="1.25" opacity=".95"/>
<ellipse cx="598" cy="102" rx="4.9" ry="1.5" transform="rotate(-42 598 102)" fill="#b9bfe4" stroke="#241a2a" stroke-width="1.25" opacity=".95"/>
<ellipse cx="610" cy="104" rx="4.4" ry="1.5" transform="rotate(-48 610 104)" fill="#b9bfe4" stroke="#241a2a" stroke-width="1.25" opacity=".95"/>
<ellipse cx="575" cy="100" rx="4.4" ry="1.4" transform="rotate(-32 575 100)" fill="#b9bfe4" stroke="#241a2a" stroke-width="1.25" opacity=".95"/>
<ellipse cx="616" cy="98" rx="3.9" ry="1.5" transform="rotate(-55 616 98)" fill="#b9bfe4" stroke="#241a2a" stroke-width="1.25" opacity=".95"/>
<ellipse cx="548" cy="62" rx="4.4" ry="1.6" transform="rotate(-15 548 62)" fill="#b9bfe4" stroke="#241a2a" stroke-width="1.25" opacity=".95"/>
<ellipse cx="541" cy="68" rx="3.9" ry="1.6" transform="rotate(10 541 68)" fill="#b9bfe4" stroke="#241a2a" stroke-width="1.25" opacity=".95"/>
<ellipse cx="547" cy="74" rx="3.6" ry="1.6" transform="rotate(-30 547 74)" fill="#b9bfe4" stroke="#241a2a" stroke-width="1.25" opacity=".95"/>
<ellipse cx="620" cy="118" rx="3.9" ry="1.4" transform="rotate(-70 620 118)" fill="#b9bfe4" stroke="#241a2a" stroke-width="1.25" opacity=".95"/>
<ellipse cx="622" cy="132" rx="3.9" ry="1.4" transform="rotate(-80 622 132)" fill="#b9bfe4" stroke="#241a2a" stroke-width="1.25" opacity=".95"/>
<ellipse cx="619" cy="148" rx="3.9" ry="1.4" transform="rotate(-100 619 148)" fill="#b9bfe4" stroke="#241a2a" stroke-width="1.25" opacity=".95"/>
<path d="M535,70 C538,66 544,66 547,69 C549,72 546,76 542,77 C538,78 534,75 535,70Z M539,71 C541,69 544,70 544,72 C543,74 540,74 539,71Z" fill="#241a2a" fill-rule="evenodd" opacity=".9"/>
</g>
<line x1="531.70" y1="81.20" x2="491.00" y2="112.00" stroke="#555" stroke-width="0.4" />
<rect x="491.20" y="112.80" width="69.00" height="58.40" fill="#dde1f5" stroke="none" stroke-width="1" />
<g clip-path="url(#cI2)">
<g transform="translate(488,108) scale(0.11364)">
<circle cx="594" cy="533" r="19" fill="#8fa4ea" opacity="0.51"/>
<circle cx="217" cy="237" r="14" fill="#6c86e2" opacity="0.61"/>
<circle cx="39" cy="362" r="19" fill="#8fa4ea" opacity="0.53"/>
<circle cx="463" cy="259" r="15" fill="#4a68da" opacity="0.64"/>
<circle cx="65" cy="447" r="16" fill="#6c86e2" opacity="0.75"/>
<circle cx="622" cy="229" r="18" fill="#aebdf0" opacity="0.89"/>
<circle cx="202" cy="547" r="16" fill="#4a68da" opacity="0.57"/>
<circle cx="325" cy="452" r="17" fill="#6c86e2" opacity="0.57"/>
<circle cx="139" cy="208" r="18" fill="#6c86e2" opacity="0.73"/>
<circle cx="80" cy="262" r="16" fill="#aebdf0" opacity="0.83"/>
<circle cx="232" cy="232" r="13" fill="#aebdf0" opacity="0.86"/>
<circle cx="307" cy="154" r="11" fill="#8fa4ea" opacity="0.78"/>
<circle cx="535" cy="164" r="15" fill="#8fa4ea" opacity="0.88"/>
<circle cx="132" cy="547" r="11" fill="#4a68da" opacity="0.66"/>
<circle cx="129" cy="157" r="10" fill="#6c86e2" opacity="0.82"/>
<circle cx="609" cy="320" r="20" fill="#8fa4ea" opacity="0.64"/>
<circle cx="624" cy="236" r="12" fill="#8fa4ea" opacity="0.61"/>
<circle cx="364" cy="433" r="15" fill="#aebdf0" opacity="0.59"/>
<circle cx="93" cy="315" r="12" fill="#6c86e2" opacity="0.60"/>
<circle cx="287" cy="508" r="14" fill="#aebdf0" opacity="0.76"/>
<circle cx="283" cy="126" r="16" fill="#4a68da" opacity="0.53"/>
<circle cx="616" cy="507" r="17" fill="#aebdf0" opacity="0.67"/>
<circle cx="212" cy="487" r="16" fill="#8fa4ea" opacity="0.83"/>
<circle cx="96" cy="368" r="13" fill="#4a68da" opacity="0.60"/>
<circle cx="610" cy="81" r="16" fill="#8fa4ea" opacity="0.59"/>
<circle cx="372" cy="285" r="14" fill="#aebdf0" opacity="0.50"/>
<circle cx="260" cy="449" r="11" fill="#4a68da" opacity="0.58"/>
<circle cx="445" cy="130" r="14" fill="#4a68da" opacity="0.88"/>
<circle cx="286" cy="184" r="16" fill="#6c86e2" opacity="0.71"/>
<circle cx="212" cy="507" r="11" fill="#8fa4ea" opacity="0.85"/>
<circle cx="334" cy="444" r="17" fill="#4a68da" opacity="0.62"/>
<circle cx="225" cy="222" r="13" fill="#aebdf0" opacity="0.56"/>
<circle cx="56" cy="501" r="17" fill="#aebdf0" opacity="0.72"/>
<circle cx="452" cy="240" r="19" fill="#6c86e2" opacity="0.70"/>
<circle cx="97" cy="281" r="11" fill="#4a68da" opacity="0.50"/>
<circle cx="53" cy="447" r="11" fill="#4a68da" opacity="0.52"/>
<circle cx="522" cy="183" r="14" fill="#6c86e2" opacity="0.75"/>
<circle cx="506" cy="134" r="15" fill="#aebdf0" opacity="0.62"/>
<circle cx="78" cy="516" r="17" fill="#6c86e2" opacity="0.52"/>
<circle cx="103" cy="428" r="20" fill="#6c86e2" opacity="0.74"/>
<circle cx="115" cy="421" r="15" fill="#aebdf0" opacity="0.73"/>
<circle cx="500" cy="467" r="16" fill="#8fa4ea" opacity="0.63"/>
<circle cx="112" cy="88" r="19" fill="#6c86e2" opacity="0.89"/>
<circle cx="635" cy="434" r="12" fill="#4a68da" opacity="0.77"/>
<circle cx="354" cy="154" r="16" fill="#aebdf0" opacity="0.68"/>
<circle cx="432" cy="537" r="16" fill="#aebdf0" opacity="0.65"/>
<circle cx="502" cy="472" r="10" fill="#4a68da" opacity="0.64"/>
<circle cx="158" cy="378" r="12" fill="#aebdf0" opacity="0.66"/>
<circle cx="66" cy="204" r="14" fill="#6c86e2" opacity="0.74"/>
<circle cx="283" cy="168" r="13" fill="#aebdf0" opacity="0.68"/>
<circle cx="136" cy="467" r="16" fill="#8fa4ea" opacity="0.71"/>
<circle cx="410" cy="262" r="16" fill="#4a68da" opacity="0.89"/>
<circle cx="433" cy="264" r="11" fill="#8fa4ea" opacity="0.66"/>
<circle cx="263" cy="70" r="10" fill="#4a68da" opacity="0.64"/>
<circle cx="605" cy="389" r="20" fill="#aebdf0" opacity="0.79"/>
<circle cx="118" cy="552" r="18" fill="#4a68da" opacity="0.72"/>
<circle cx="104" cy="75" r="15" fill="#6c86e2" opacity="0.89"/>
<circle cx="517" cy="101" r="10" fill="#6c86e2" opacity="0.71"/>
<circle cx="150" cy="221" r="20" fill="#aebdf0" opacity="0.78"/>
<circle cx="292" cy="514" r="19" fill="#aebdf0" opacity="0.64"/>
<g filter="url(#b1)">
<path d="M62,430 C45,260 75,105 200,62 C305,50 345,150 338,300 C340,400 325,480 295,545 L110,545 C85,500 70,470 62,430Z" fill="#4a261b"/>
<path d="M405,60 C410,200 430,380 485,470 C545,430 595,330 592,235" fill="none" stroke="#4a261b" stroke-width="100" stroke-linecap="round" stroke-linejoin="round"/>
<path d="M40,470 C200,540 420,540 580,480" fill="none" stroke="#4a261b" stroke-width="78" stroke-linecap="round"/>
<path d="M30,330 C40,380 50,430 80,470" fill="none" stroke="#4a261b" stroke-width="30" stroke-linecap="round"/>
</g>
<circle cx="459" cy="166" r="16" fill="#2a1410" opacity=".4"/>
<circle cx="143" cy="391" r="19" fill="#2a1410" opacity=".4"/>
<circle cx="560" cy="394" r="12" fill="#6e3a22" opacity=".4"/>
<circle cx="120" cy="457" r="10" fill="#8a4a2a" opacity=".4"/>
<circle cx="579" cy="76" r="14" fill="#2a1410" opacity=".4"/>
<circle cx="79" cy="187" r="15" fill="#6e3a22" opacity=".4"/>
<circle cx="596" cy="370" r="19" fill="#8a4a2a" opacity=".4"/>
<circle cx="557" cy="377" r="16" fill="#2a1410" opacity=".4"/>
<circle cx="503" cy="145" r="11" fill="#8a4a2a" opacity=".4"/>
<circle cx="458" cy="491" r="12" fill="#8a4a2a" opacity=".4"/>
<circle cx="384" cy="245" r="10" fill="#2a1410" opacity=".4"/>
<circle cx="287" cy="82" r="9" fill="#8a4a2a" opacity=".4"/>
<circle cx="490" cy="230" r="15" fill="#2a1410" opacity=".4"/>
<circle cx="361" cy="528" r="9" fill="#6e3a22" opacity=".4"/>
<circle cx="104" cy="217" r="16" fill="#2a1410" opacity=".4"/>
<circle cx="79" cy="140" r="12" fill="#8a4a2a" opacity=".4"/>
<circle cx="137" cy="127" r="15" fill="#8a4a2a" opacity=".4"/>
<circle cx="391" cy="265" r="15" fill="#8a4a2a" opacity=".4"/>
<circle cx="342" cy="318" r="16" fill="#8a4a2a" opacity=".4"/>
<circle cx="513" cy="188" r="16" fill="#2a1410" opacity=".4"/>
<circle cx="448" cy="517" r="19" fill="#8a4a2a" opacity=".4"/>
<circle cx="122" cy="267" r="10" fill="#2a1410" opacity=".4"/>
<circle cx="330" cy="532" r="17" fill="#8a4a2a" opacity=".4"/>
<circle cx="444" cy="131" r="16" fill="#6e3a22" opacity=".4"/>
<circle cx="308" cy="137" r="15" fill="#8a4a2a" opacity=".4"/>
<circle cx="241" cy="331" r="20" fill="#8a4a2a" opacity=".4"/>
<circle cx="479" cy="413" r="11" fill="#2a1410" opacity=".4"/>
<circle cx="261" cy="75" r="9" fill="#8a4a2a" opacity=".4"/>
<circle cx="148" cy="487" r="13" fill="#8a4a2a" opacity=".4"/>
<circle cx="311" cy="434" r="13" fill="#8a4a2a" opacity=".4"/>
<circle cx="493" cy="497" r="18" fill="#8a4a2a" opacity=".4"/>
<circle cx="278" cy="380" r="13" fill="#2a1410" opacity=".4"/>
<circle cx="69" cy="331" r="16" fill="#8a4a2a" opacity=".4"/>
<circle cx="73" cy="472" r="18" fill="#2a1410" opacity=".4"/>
<circle cx="139" cy="469" r="16" fill="#2a1410" opacity=".4"/>
<circle cx="398" cy="523" r="19" fill="#2a1410" opacity=".4"/>
<circle cx="572" cy="396" r="14" fill="#8a4a2a" opacity=".4"/>
<circle cx="346" cy="311" r="19" fill="#2a1410" opacity=".4"/>
<circle cx="498" cy="333" r="16" fill="#2a1410" opacity=".4"/>
<circle cx="276" cy="415" r="16" fill="#6e3a22" opacity=".4"/>
<circle cx="452" cy="409" r="18" fill="#6e3a22" opacity=".4"/>
<circle cx="485" cy="323" r="19" fill="#6e3a22" opacity=".4"/>
<circle cx="249" cy="504" r="18" fill="#2a1410" opacity=".4"/>
<circle cx="469" cy="98" r="11" fill="#8a4a2a" opacity=".4"/>
<circle cx="389" cy="169" r="20" fill="#6e3a22" opacity=".4"/>
<circle cx="543" cy="460" r="16" fill="#2a1410" opacity=".4"/>
<circle cx="343" cy="185" r="19" fill="#8a4a2a" opacity=".4"/>
<circle cx="585" cy="390" r="20" fill="#8a4a2a" opacity=".4"/>
<circle cx="326" cy="214" r="17" fill="#6e3a22" opacity=".4"/>
<circle cx="243" cy="321" r="15" fill="#2a1410" opacity=".4"/>
<circle cx="88" cy="240" r="12" fill="#2a1410" opacity=".4"/>
<circle cx="123" cy="90" r="10" fill="#8a4a2a" opacity=".4"/>
<circle cx="529" cy="196" r="10" fill="#8a4a2a" opacity=".4"/>
<circle cx="115" cy="382" r="13" fill="#2a1410" opacity=".4"/>
<circle cx="529" cy="449" r="19" fill="#2a1410" opacity=".4"/>
<circle cx="171" cy="331" r="13" fill="#2a1410" opacity=".4"/>
<circle cx="463" cy="195" r="15" fill="#2a1410" opacity=".4"/>
<circle cx="484" cy="411" r="18" fill="#6e3a22" opacity=".4"/>
<circle cx="352" cy="367" r="9" fill="#6e3a22" opacity=".4"/>
<circle cx="67" cy="233" r="18" fill="#2a1410" opacity=".4"/>
<circle cx="297" cy="170" r="19" fill="#2a1410" opacity=".4"/>
<circle cx="446" cy="398" r="12" fill="#2a1410" opacity=".4"/>
<circle cx="165" cy="208" r="14" fill="#8a4a2a" opacity=".4"/>
<circle cx="495" cy="183" r="15" fill="#8a4a2a" opacity=".4"/>
<circle cx="518" cy="536" r="14" fill="#8a4a2a" opacity=".4"/>
<circle cx="123" cy="159" r="13" fill="#8a4a2a" opacity=".4"/>
<circle cx="529" cy="118" r="17" fill="#6e3a22" opacity=".4"/>
<circle cx="157" cy="459" r="11" fill="#8a4a2a" opacity=".4"/>
<circle cx="64" cy="388" r="15" fill="#6e3a22" opacity=".4"/>
<circle cx="106" cy="145" r="11" fill="#8a4a2a" opacity=".4"/>
<g filter="url(#soft)">
<path d="M118,395 C100,250 130,135 215,118 C280,120 290,195 245,222 C200,235 190,300 188,395 C170,410 135,410 118,395Z" fill="#f4f2f8"/>
<ellipse cx="254" cy="300" rx="24" ry="32" fill="#f2f0f8"/>
<ellipse cx="492" cy="345" rx="14" ry="42" fill="#f2f0f8"/>
<path d="M28,250 C40,150 80,80 150,42 L28,42Z" fill="#eeeef9"/>
<path d="M360,60 C368,160 385,300 400,400 C384,300 376,160 385,60Z" fill="#e0e4f6" stroke="#e0e4f6" stroke-width="12"/>
</g>
<ellipse cx="515" cy="500" rx="10" ry="8" fill="#2f4fd2" opacity="0.68"/>
<ellipse cx="475" cy="63" rx="13" ry="10" fill="#2848c8" opacity="0.86"/>
<ellipse cx="492" cy="493" rx="12" ry="8" fill="#2f4fd2" opacity="0.55"/>
<ellipse cx="76" cy="104" rx="17" ry="14" fill="#2f4fd2" opacity="0.79"/>
<ellipse cx="300" cy="183" rx="13" ry="12" fill="#2f4fd2" opacity="0.85"/>
<ellipse cx="367" cy="136" rx="12" ry="13" fill="#2848c8" opacity="0.85"/>
<ellipse cx="40" cy="251" rx="12" ry="11" fill="#2f4fd2" opacity="0.67"/>
<ellipse cx="589" cy="311" rx="16" ry="14" fill="#4060da" opacity="0.85"/>
<ellipse cx="523" cy="294" rx="11" ry="13" fill="#4060da" opacity="0.84"/>
<ellipse cx="416" cy="382" rx="15" ry="10" fill="#2f4fd2" opacity="0.70"/>
<ellipse cx="424" cy="67" rx="11" ry="10" fill="#4060da" opacity="0.75"/>
<ellipse cx="448" cy="501" rx="12" ry="9" fill="#4060da" opacity="0.61"/>
<ellipse cx="159" cy="397" rx="14" ry="11" fill="#4060da" opacity="0.57"/>
<ellipse cx="197" cy="244" rx="11" ry="13" fill="#2f4fd2" opacity="0.56"/>
<ellipse cx="516" cy="138" rx="15" ry="8" fill="#4060da" opacity="0.89"/>
<ellipse cx="346" cy="523" rx="11" ry="9" fill="#2f4fd2" opacity="0.82"/>
<ellipse cx="132" cy="501" rx="15" ry="14" fill="#2848c8" opacity="0.61"/>
<ellipse cx="469" cy="62" rx="11" ry="11" fill="#2f4fd2" opacity="0.75"/>
<ellipse cx="578" cy="124" rx="16" ry="8" fill="#4060da" opacity="0.76"/>
<ellipse cx="325" cy="163" rx="16" ry="11" fill="#2848c8" opacity="0.82"/>
<ellipse cx="306" cy="100" rx="12" ry="13" fill="#4060da" opacity="0.86"/>
<ellipse cx="240" cy="428" rx="16" ry="14" fill="#4060da" opacity="0.65"/>
<ellipse cx="556" cy="147" rx="12" ry="12" fill="#2848c8" opacity="0.86"/>
<ellipse cx="406" cy="150" rx="11" ry="8" fill="#2f4fd2" opacity="0.82"/>
<ellipse cx="260" cy="162" rx="14" ry="9" fill="#4060da" opacity="0.59"/>
<ellipse cx="176" cy="352" rx="11" ry="10" fill="#2f4fd2" opacity="0.75"/>
<ellipse cx="596" cy="125" rx="12" ry="10" fill="#2848c8" opacity="0.80"/>
<ellipse cx="576" cy="168" rx="14" ry="12" fill="#4060da" opacity="0.75"/>
<ellipse cx="337" cy="351" rx="11" ry="12" fill="#2848c8" opacity="0.77"/>
<ellipse cx="273" cy="425" rx="12" ry="13" fill="#2848c8" opacity="0.55"/>
<ellipse cx="113" cy="395" rx="11" ry="12" fill="#2f4fd2" opacity="0.55"/>
<ellipse cx="547" cy="142" rx="16" ry="9" fill="#2848c8" opacity="0.80"/>
<ellipse cx="270" cy="504" rx="14" ry="13" fill="#2848c8" opacity="0.82"/>
<ellipse cx="191" cy="226" rx="11" ry="10" fill="#4060da" opacity="0.70"/>
<ellipse cx="228" cy="166" rx="11" ry="12" fill="#2f4fd2" opacity="0.79"/>
<ellipse cx="582" cy="242" rx="13" ry="11" fill="#4060da" opacity="0.90"/>
<ellipse cx="483" cy="453" rx="15" ry="8" fill="#2848c8" opacity="0.58"/>
<ellipse cx="373" cy="124" rx="14" ry="10" fill="#2f4fd2" opacity="0.81"/>
<ellipse cx="178" cy="190" rx="11" ry="9" fill="#2848c8" opacity="0.72"/>
<ellipse cx="475" cy="484" rx="15" ry="10" fill="#2f4fd2" opacity="0.58"/>
<ellipse cx="284" cy="493" rx="15" ry="10" fill="#2f4fd2" opacity="0.82"/>
<ellipse cx="467" cy="183" rx="15" ry="12" fill="#4060da" opacity="0.59"/>
<ellipse cx="407" cy="512" rx="17" ry="10" fill="#2848c8" opacity="0.77"/>
<ellipse cx="232" cy="549" rx="12" ry="13" fill="#4060da" opacity="0.68"/>
<ellipse cx="388" cy="166" rx="13" ry="11" fill="#4060da" opacity="0.83"/>
<ellipse cx="171" cy="58" rx="11" ry="13" fill="#2848c8" opacity="0.79"/>
<ellipse cx="355" cy="471" rx="11" ry="13" fill="#2848c8" opacity="0.65"/>
<ellipse cx="440" cy="465" rx="12" ry="12" fill="#4060da" opacity="0.57"/>
<ellipse cx="252" cy="239" rx="13" ry="9" fill="#2f4fd2" opacity="0.61"/>
<ellipse cx="101" cy="302" rx="12" ry="14" fill="#2f4fd2" opacity="0.59"/>
<ellipse cx="526" cy="181" rx="13" ry="11" fill="#2848c8" opacity="0.89"/>
<ellipse cx="440" cy="463" rx="16" ry="8" fill="#2f4fd2" opacity="0.82"/>
<ellipse cx="364" cy="274" rx="15" ry="8" fill="#4060da" opacity="0.70"/>
<ellipse cx="67" cy="91" rx="14" ry="10" fill="#4060da" opacity="0.82"/>
<ellipse cx="126" cy="200" rx="11" ry="8" fill="#2848c8" opacity="0.85"/>
<ellipse cx="330" cy="228" rx="17" ry="12" fill="#2f4fd2" opacity="0.65"/>
<ellipse cx="177" cy="321" rx="12" ry="8" fill="#2f4fd2" opacity="0.89"/>
<ellipse cx="180" cy="380" rx="14" ry="9" fill="#4060da" opacity="0.85"/>
<ellipse cx="276" cy="398" rx="13" ry="8" fill="#2f4fd2" opacity="0.82"/>
<ellipse cx="236" cy="548" rx="12" ry="13" fill="#2848c8" opacity="0.66"/>
<ellipse cx="566" cy="65" rx="16" ry="13" fill="#4060da" opacity="0.67"/>
<ellipse cx="501" cy="483" rx="11" ry="10" fill="#2f4fd2" opacity="0.83"/>
<ellipse cx="504" cy="253" rx="16" ry="9" fill="#4060da" opacity="0.87"/>
<ellipse cx="425" cy="430" rx="12" ry="10" fill="#2848c8" opacity="0.67"/>
<ellipse cx="208" cy="159" rx="16" ry="13" fill="#4060da" opacity="0.85"/>
<ellipse cx="331" cy="134" rx="16" ry="12" fill="#2848c8" opacity="0.59"/>
<ellipse cx="448" cy="133" rx="11" ry="10" fill="#4060da" opacity="0.86"/>
<ellipse cx="551" cy="235" rx="14" ry="11" fill="#4060da" opacity="0.82"/>
<ellipse cx="328" cy="213" rx="12" ry="10" fill="#2f4fd2" opacity="0.64"/>
<ellipse cx="106" cy="190" rx="14" ry="8" fill="#2848c8" opacity="0.60"/>
<ellipse cx="360" cy="292" rx="14" ry="10" fill="#2848c8" opacity="0.73"/>
<ellipse cx="215" cy="374" rx="11" ry="9" fill="#2848c8" opacity="0.61"/>
<ellipse cx="502" cy="291" rx="11" ry="10" fill="#2848c8" opacity="0.85"/>
<ellipse cx="573" cy="300" rx="14" ry="10" fill="#4060da" opacity="0.63"/>
<ellipse cx="524" cy="479" rx="14" ry="9" fill="#2f4fd2" opacity="0.84"/>
<ellipse cx="97" cy="190" rx="13" ry="9" fill="#2848c8" opacity="0.71"/>
<ellipse cx="41" cy="250" rx="11" ry="11" fill="#2f4fd2" opacity="0.63"/>
<ellipse cx="109" cy="216" rx="13" ry="13" fill="#2f4fd2" opacity="0.76"/>
<ellipse cx="344" cy="350" rx="15" ry="10" fill="#4060da" opacity="0.64"/>
<ellipse cx="596" cy="295" rx="14" ry="9" fill="#4060da" opacity="0.86"/>
<ellipse cx="77" cy="114" rx="15" ry="9" fill="#4060da" opacity="0.61"/>
<ellipse cx="228" cy="514" rx="14" ry="12" fill="#2f4fd2" opacity="0.68"/>
<ellipse cx="135" cy="195" rx="11" ry="12" fill="#2f4fd2" opacity="0.72"/>
<ellipse cx="105" cy="219" rx="11" ry="11" fill="#2848c8" opacity="0.78"/>
<ellipse cx="406" cy="427" rx="12" ry="10" fill="#2848c8" opacity="0.80"/>
<ellipse cx="121" cy="156" rx="15" ry="10" fill="#2848c8" opacity="0.56"/>
<ellipse cx="166" cy="128" rx="14" ry="13" fill="#4060da" opacity="0.85"/>
<ellipse cx="383" cy="228" rx="11" ry="12" fill="#4060da" opacity="0.60"/>
<ellipse cx="223" cy="391" rx="15" ry="9" fill="#2848c8" opacity="0.68"/>
<ellipse cx="419" cy="56" rx="15" ry="12" fill="#2f4fd2" opacity="0.87"/>
<ellipse cx="145" cy="138" rx="16" ry="12" fill="#2848c8" opacity="0.64"/>
<ellipse cx="485" cy="88" rx="13" ry="9" fill="#4060da" opacity="0.88"/>
<ellipse cx="333" cy="247" rx="12" ry="10" fill="#4060da" opacity="0.82"/>
<ellipse cx="520" cy="101" rx="15" ry="13" fill="#4060da" opacity="0.76"/>
<ellipse cx="135" cy="302" rx="13" ry="14" fill="#2848c8" opacity="0.86"/>
<ellipse cx="519" cy="357" rx="12" ry="8" fill="#4060da" opacity="0.80"/>
<ellipse cx="352" cy="86" rx="16" ry="9" fill="#2848c8" opacity="0.79"/>
<ellipse cx="393" cy="355" rx="17" ry="9" fill="#2f4fd2" opacity="0.63"/>
<ellipse cx="314" cy="83" rx="16" ry="8" fill="#2f4fd2" opacity="0.62"/>
<ellipse cx="379" cy="66" rx="17" ry="8" fill="#4060da" opacity="0.60"/>
<ellipse cx="461" cy="502" rx="16" ry="13" fill="#4060da" opacity="0.78"/>
<ellipse cx="420" cy="416" rx="16" ry="10" fill="#2f4fd2" opacity="0.56"/>
<ellipse cx="141" cy="424" rx="14" ry="11" fill="#2848c8" opacity="0.70"/>
<ellipse cx="242" cy="157" rx="16" ry="12" fill="#2848c8" opacity="0.73"/>
<ellipse cx="329" cy="194" rx="13" ry="10" fill="#4060da" opacity="0.67"/>
<ellipse cx="128" cy="308" rx="12" ry="8" fill="#4060da" opacity="0.81"/>
<ellipse cx="571" cy="431" rx="13" ry="13" fill="#2f4fd2" opacity="0.88"/>
<ellipse cx="56" cy="51" rx="16" ry="13" fill="#4060da" opacity="0.88"/>
<ellipse cx="48" cy="421" rx="13" ry="14" fill="#2f4fd2" opacity="0.71"/>
<ellipse cx="363" cy="398" rx="12" ry="8" fill="#4060da" opacity="0.74"/>
<ellipse cx="512" cy="319" rx="11" ry="9" fill="#2f4fd2" opacity="0.58"/>
<ellipse cx="56" cy="389" rx="17" ry="8" fill="#4060da" opacity="0.73"/>
<ellipse cx="227" cy="314" rx="11" ry="11" fill="#2f4fd2" opacity="0.75"/>
<ellipse cx="81" cy="437" rx="11" ry="12" fill="#4060da" opacity="0.61"/>
<ellipse cx="275" cy="494" rx="13" ry="10" fill="#2848c8" opacity="0.75"/>
<ellipse cx="369" cy="264" rx="16" ry="13" fill="#2f4fd2" opacity="0.65"/>
<ellipse cx="169" cy="294" rx="16" ry="13" fill="#4060da" opacity="0.85"/>
<ellipse cx="573" cy="519" rx="11" ry="12" fill="#2f4fd2" opacity="0.63"/>
<ellipse cx="117" cy="123" rx="14" ry="12" fill="#2848c8" opacity="0.81"/>
<ellipse cx="297" cy="166" rx="12" ry="13" fill="#4060da" opacity="0.72"/>
<ellipse cx="73" cy="197" rx="11" ry="14" fill="#4060da" opacity="0.64"/>
<ellipse cx="235" cy="503" rx="10" ry="11" fill="#2848c8" opacity="0.67"/>
<ellipse cx="452" cy="256" rx="16" ry="11" fill="#2f4fd2" opacity="0.75"/>
<ellipse cx="465" cy="427" rx="13" ry="11" fill="#4060da" opacity="0.85"/>
<ellipse cx="284" cy="275" rx="14" ry="11" fill="#2848c8" opacity="0.68"/>
<ellipse cx="229" cy="82" rx="10" ry="9" fill="#2f4fd2" opacity="0.60"/>
<ellipse cx="458" cy="125" rx="16" ry="8" fill="#2848c8" opacity="0.78"/>
<ellipse cx="605" cy="452" rx="11" ry="8" fill="#4060da" opacity="0.67"/>
<ellipse cx="426" cy="527" rx="17" ry="11" fill="#2848c8" opacity="0.72"/>
<ellipse cx="57" cy="451" rx="13" ry="9" fill="#2f4fd2" opacity="0.69"/>
<ellipse cx="538" cy="494" rx="16" ry="13" fill="#2848c8" opacity="0.58"/>
<ellipse cx="337" cy="545" rx="11" ry="9" fill="#2848c8" opacity="0.72"/>
<ellipse cx="51" cy="336" rx="10" ry="11" fill="#2f4fd2" opacity="0.67"/>
<ellipse cx="188" cy="177" rx="15" ry="9" fill="#2f4fd2" opacity="0.70"/>
<ellipse cx="345" cy="323" rx="17" ry="13" fill="#2f4fd2" opacity="0.82"/>
</g>
</g>
<rect x="491.20" y="112.80" width="69.00" height="58.40" fill="none" stroke="#1a1a1a" stroke-width="1" />
<rect x="531.70" y="65.30" width="19.50" height="16.00" fill="none" stroke="#e8242c" stroke-width="1.3" stroke-dasharray="4 1.6"/>
<rect x="350.10" y="193.50" width="135.90" height="136.40" fill="#f4f2f1" stroke="none" stroke-width="1" />
<g clip-path="url(#cB3)">
<rect x="349" y="194" width="136" height="138" fill="#f8f4ef"/>
<g filter="url(#wob)">
<ellipse cx="356.8" cy="232.3" rx="2.0" ry="1.8" fill="#f7eee3" stroke="#b8742f" stroke-width="0.92"/>
<ellipse cx="362.0" cy="231.9" rx="2.1" ry="2.4" fill="#f7eee3" stroke="#c68a48" stroke-width="1.10"/>
<ellipse cx="367.4" cy="231.9" rx="2.2" ry="1.9" fill="#f7eee3" stroke="#b8742f" stroke-width="0.90"/>
<ellipse cx="471.4" cy="231.7" rx="1.8" ry="2.1" fill="#f7eee3" stroke="#c68a48" stroke-width="1.08"/>
<ellipse cx="475.8" cy="231.4" rx="2.2" ry="1.9" fill="#f7eee3" stroke="#c68a48" stroke-width="0.93"/>
<ellipse cx="359.3" cy="236.4" rx="2.0" ry="2.4" fill="#f7eee3" stroke="#c68a48" stroke-width="1.09"/>
<ellipse cx="363.8" cy="237.2" rx="2.2" ry="2.4" fill="#f7eee3" stroke="#b8742f" stroke-width="0.87"/>
<ellipse cx="468.9" cy="236.0" rx="2.2" ry="2.0" fill="#f7eee3" stroke="#c68a48" stroke-width="0.96"/>
<ellipse cx="474.1" cy="236.9" rx="1.8" ry="1.7" fill="#f7eee3" stroke="#c68a48" stroke-width="0.88"/>
<ellipse cx="478.0" cy="235.8" rx="2.2" ry="2.5" fill="#f7eee3" stroke="#c68a48" stroke-width="1.08"/>
<ellipse cx="356.9" cy="241.0" rx="2.1" ry="1.9" fill="#f7eee3" stroke="#c68a48" stroke-width="0.88"/>
<ellipse cx="361.8" cy="240.3" rx="1.7" ry="1.8" fill="#f7eee3" stroke="#c68a48" stroke-width="1.03"/>
<ellipse cx="475.6" cy="241.7" rx="2.1" ry="1.9" fill="#f7eee3" stroke="#c68a48" stroke-width="0.87"/>
<ellipse cx="481.1" cy="241.6" rx="2.1" ry="2.2" fill="#f7eee3" stroke="#b8742f" stroke-width="1.05"/>
<ellipse cx="354.3" cy="245.2" rx="2.2" ry="1.9" fill="#f7eee3" stroke="#b8742f" stroke-width="0.90"/>
<ellipse cx="359.3" cy="245.9" rx="1.9" ry="1.8" fill="#f7eee3" stroke="#c68a48" stroke-width="1.08"/>
<ellipse cx="473.5" cy="244.9" rx="2.0" ry="2.0" fill="#f7eee3" stroke="#c68a48" stroke-width="1.03"/>
<ellipse cx="478.9" cy="245.4" rx="2.1" ry="1.9" fill="#f7eee3" stroke="#c68a48" stroke-width="0.91"/>
<ellipse cx="483.4" cy="245.3" rx="2.1" ry="2.5" fill="#f7eee3" stroke="#b8742f" stroke-width="1.08"/>
<ellipse cx="351.2" cy="249.5" rx="2.0" ry="2.2" fill="#f7eee3" stroke="#c68a48" stroke-width="0.88"/>
<ellipse cx="356.0" cy="249.9" rx="1.8" ry="2.0" fill="#f7eee3" stroke="#c68a48" stroke-width="1.00"/>
<ellipse cx="476.0" cy="250.7" rx="1.6" ry="1.8" fill="#f7eee3" stroke="#b8742f" stroke-width="0.95"/>
<ellipse cx="481.6" cy="250.5" rx="1.7" ry="1.7" fill="#f7eee3" stroke="#b8742f" stroke-width="0.86"/>
<ellipse cx="348.9" cy="254.0" rx="1.7" ry="1.9" fill="#f7eee3" stroke="#b8742f" stroke-width="1.05"/>
<ellipse cx="354.3" cy="253.8" rx="2.0" ry="2.2" fill="#f7eee3" stroke="#b8742f" stroke-width="0.99"/>
<ellipse cx="358.7" cy="254.7" rx="1.8" ry="1.7" fill="#f7eee3" stroke="#b8742f" stroke-width="0.98"/>
<ellipse cx="478.8" cy="255.0" rx="2.1" ry="2.1" fill="#f7eee3" stroke="#c68a48" stroke-width="0.98"/>
<ellipse cx="484.2" cy="254.7" rx="1.7" ry="1.5" fill="#f7eee3" stroke="#b8742f" stroke-width="0.93"/>
<ellipse cx="351.5" cy="259.0" rx="1.9" ry="2.1" fill="#f7eee3" stroke="#b8742f" stroke-width="1.04"/>
<ellipse cx="357.1" cy="258.8" rx="2.0" ry="2.2" fill="#f7eee3" stroke="#c68a48" stroke-width="1.12"/>
<ellipse cx="475.6" cy="258.4" rx="1.8" ry="2.0" fill="#f7eee3" stroke="#b8742f" stroke-width="0.96"/>
<ellipse cx="481.0" cy="258.6" rx="1.7" ry="2.0" fill="#f7eee3" stroke="#c68a48" stroke-width="1.14"/>
<ellipse cx="486.6" cy="259.0" rx="2.1" ry="2.3" fill="#f7eee3" stroke="#c68a48" stroke-width="0.99"/>
<ellipse cx="348.5" cy="263.5" rx="1.9" ry="2.2" fill="#f7eee3" stroke="#b8742f" stroke-width="0.86"/>
<ellipse cx="353.2" cy="263.0" rx="2.1" ry="2.3" fill="#f7eee3" stroke="#c68a48" stroke-width="0.86"/>
<ellipse cx="359.5" cy="263.1" rx="1.8" ry="2.0" fill="#f7eee3" stroke="#c68a48" stroke-width="1.11"/>
<ellipse cx="478.6" cy="262.9" rx="1.9" ry="2.0" fill="#f7eee3" stroke="#c68a48" stroke-width="0.94"/>
<ellipse cx="483.3" cy="263.4" rx="2.0" ry="2.4" fill="#f7eee3" stroke="#c68a48" stroke-width="0.93"/>
<ellipse cx="351.6" cy="267.3" rx="2.1" ry="2.0" fill="#f7eee3" stroke="#c68a48" stroke-width="0.95"/>
<ellipse cx="356.0" cy="268.3" rx="1.9" ry="1.7" fill="#f7eee3" stroke="#c68a48" stroke-width="1.04"/>
<ellipse cx="476.3" cy="268.2" rx="2.0" ry="2.1" fill="#f7eee3" stroke="#c68a48" stroke-width="1.13"/>
<ellipse cx="481.2" cy="267.8" rx="1.9" ry="2.1" fill="#f7eee3" stroke="#c68a48" stroke-width="0.87"/>
<ellipse cx="486.7" cy="267.5" rx="2.1" ry="2.3" fill="#f7eee3" stroke="#c68a48" stroke-width="0.88"/>
<ellipse cx="348.1" cy="271.9" rx="1.7" ry="1.6" fill="#f7eee3" stroke="#c68a48" stroke-width="1.12"/>
<ellipse cx="353.8" cy="271.8" rx="2.2" ry="2.6" fill="#f7eee3" stroke="#c68a48" stroke-width="1.02"/>
<ellipse cx="359.3" cy="272.0" rx="2.0" ry="1.9" fill="#f7eee3" stroke="#c68a48" stroke-width="1.06"/>
<ellipse cx="363.5" cy="272.4" rx="1.7" ry="2.0" fill="#f7eee3" stroke="#b8742f" stroke-width="0.88"/>
<ellipse cx="369.1" cy="272.7" rx="2.1" ry="1.9" fill="#f7eee3" stroke="#c68a48" stroke-width="1.03"/>
<ellipse cx="374.4" cy="272.8" rx="1.7" ry="1.6" fill="#f7eee3" stroke="#c68a48" stroke-width="0.91"/>
<ellipse cx="385.0" cy="273.1" rx="1.7" ry="1.7" fill="#f7eee3" stroke="#b8742f" stroke-width="0.88"/>
<ellipse cx="390.2" cy="272.2" rx="1.9" ry="2.3" fill="#f7eee3" stroke="#c68a48" stroke-width="1.03"/>
<ellipse cx="396.0" cy="272.8" rx="1.7" ry="1.7" fill="#f7eee3" stroke="#c68a48" stroke-width="1.14"/>
<ellipse cx="401.3" cy="272.0" rx="2.0" ry="2.1" fill="#f7eee3" stroke="#c68a48" stroke-width="0.92"/>
<ellipse cx="406.2" cy="272.1" rx="1.9" ry="1.9" fill="#f7eee3" stroke="#c68a48" stroke-width="0.99"/>
<ellipse cx="410.9" cy="272.4" rx="2.0" ry="1.8" fill="#f7eee3" stroke="#b8742f" stroke-width="1.04"/>
<ellipse cx="421.0" cy="272.3" rx="2.1" ry="2.1" fill="#f7eee3" stroke="#b8742f" stroke-width="0.92"/>
<ellipse cx="426.2" cy="272.8" rx="2.1" ry="1.9" fill="#f7eee3" stroke="#c68a48" stroke-width="0.98"/>
<ellipse cx="432.1" cy="272.8" rx="1.6" ry="1.5" fill="#f7eee3" stroke="#c68a48" stroke-width="0.89"/>
<ellipse cx="436.7" cy="273.1" rx="1.8" ry="2.1" fill="#f7eee3" stroke="#c68a48" stroke-width="1.06"/>
<ellipse cx="441.6" cy="272.9" rx="1.8" ry="1.5" fill="#f7eee3" stroke="#c68a48" stroke-width="0.96"/>
<ellipse cx="447.0" cy="272.0" rx="1.9" ry="1.6" fill="#f7eee3" stroke="#b8742f" stroke-width="1.09"/>
<ellipse cx="452.8" cy="273.1" rx="1.9" ry="1.9" fill="#f7eee3" stroke="#c68a48" stroke-width="1.06"/>
<ellipse cx="457.9" cy="272.6" rx="1.8" ry="1.7" fill="#f7eee3" stroke="#b8742f" stroke-width="0.86"/>
<ellipse cx="463.0" cy="272.7" rx="1.6" ry="1.9" fill="#f7eee3" stroke="#c68a48" stroke-width="0.95"/>
<ellipse cx="473.6" cy="272.9" rx="1.9" ry="2.1" fill="#f7eee3" stroke="#b8742f" stroke-width="0.87"/>
<ellipse cx="478.0" cy="271.8" rx="2.0" ry="2.3" fill="#f7eee3" stroke="#c68a48" stroke-width="0.89"/>
<ellipse cx="483.2" cy="272.7" rx="1.8" ry="1.9" fill="#f7eee3" stroke="#b8742f" stroke-width="1.14"/>
<ellipse cx="351.7" cy="276.9" rx="1.6" ry="1.4" fill="#f7eee3" stroke="#c68a48" stroke-width="0.95"/>
<ellipse cx="356.0" cy="276.8" rx="1.8" ry="1.9" fill="#f7eee3" stroke="#c68a48" stroke-width="1.09"/>
<ellipse cx="361.8" cy="276.6" rx="2.0" ry="1.9" fill="#f7eee3" stroke="#b8742f" stroke-width="0.89"/>
<ellipse cx="366.7" cy="277.0" rx="1.7" ry="1.8" fill="#f7eee3" stroke="#b8742f" stroke-width="1.04"/>
<ellipse cx="371.5" cy="277.2" rx="2.0" ry="1.9" fill="#f7eee3" stroke="#b8742f" stroke-width="1.05"/>
<ellipse cx="376.8" cy="276.5" rx="1.9" ry="2.2" fill="#f7eee3" stroke="#b8742f" stroke-width="1.09"/>
<ellipse cx="382.9" cy="277.4" rx="1.7" ry="1.6" fill="#f7eee3" stroke="#b8742f" stroke-width="0.94"/>
<ellipse cx="387.8" cy="277.6" rx="1.6" ry="1.7" fill="#f7eee3" stroke="#c68a48" stroke-width="1.00"/>
<ellipse cx="392.9" cy="277.0" rx="2.0" ry="2.1" fill="#f7eee3" stroke="#b8742f" stroke-width="1.02"/>
<ellipse cx="398.6" cy="277.5" rx="2.1" ry="2.5" fill="#f7eee3" stroke="#c68a48" stroke-width="1.00"/>
<ellipse cx="403.1" cy="276.4" rx="2.1" ry="2.4" fill="#f7eee3" stroke="#b8742f" stroke-width="0.99"/>
<ellipse cx="407.8" cy="276.7" rx="1.9" ry="1.8" fill="#f7eee3" stroke="#c68a48" stroke-width="0.94"/>
<ellipse cx="413.1" cy="277.6" rx="1.9" ry="1.7" fill="#f7eee3" stroke="#b8742f" stroke-width="1.01"/>
<ellipse cx="423.3" cy="276.8" rx="1.9" ry="2.0" fill="#f7eee3" stroke="#c68a48" stroke-width="0.85"/>
<ellipse cx="429.7" cy="277.7" rx="1.8" ry="2.1" fill="#f7eee3" stroke="#b8742f" stroke-width="0.90"/>
<ellipse cx="434.7" cy="277.0" rx="1.7" ry="1.8" fill="#f7eee3" stroke="#b8742f" stroke-width="0.89"/>
<ellipse cx="440.2" cy="276.4" rx="2.2" ry="2.1" fill="#f7eee3" stroke="#c68a48" stroke-width="0.90"/>
<ellipse cx="444.8" cy="276.9" rx="2.0" ry="1.8" fill="#f7eee3" stroke="#b8742f" stroke-width="0.96"/>
<ellipse cx="450.4" cy="276.4" rx="2.1" ry="1.8" fill="#f7eee3" stroke="#c68a48" stroke-width="0.99"/>
<ellipse cx="455.9" cy="277.1" rx="1.8" ry="1.9" fill="#f7eee3" stroke="#c68a48" stroke-width="0.89"/>
<ellipse cx="460.2" cy="277.0" rx="2.2" ry="2.5" fill="#f7eee3" stroke="#b8742f" stroke-width="0.91"/>
<ellipse cx="466.0" cy="277.1" rx="2.1" ry="1.8" fill="#f7eee3" stroke="#c68a48" stroke-width="1.12"/>
<ellipse cx="470.5" cy="277.6" rx="2.1" ry="2.0" fill="#f7eee3" stroke="#b8742f" stroke-width="0.98"/>
<ellipse cx="476.1" cy="276.6" rx="1.9" ry="2.0" fill="#f7eee3" stroke="#b8742f" stroke-width="1.04"/>
<ellipse cx="481.0" cy="276.5" rx="1.9" ry="1.7" fill="#f7eee3" stroke="#c68a48" stroke-width="1.06"/>
<ellipse cx="353.9" cy="281.3" rx="2.1" ry="2.5" fill="#f7eee3" stroke="#b8742f" stroke-width="0.90"/>
<ellipse cx="358.8" cy="281.9" rx="2.2" ry="2.0" fill="#f7eee3" stroke="#c68a48" stroke-width="0.94"/>
<ellipse cx="364.7" cy="282.1" rx="1.7" ry="1.6" fill="#f7eee3" stroke="#c68a48" stroke-width="1.10"/>
<ellipse cx="369.2" cy="281.9" rx="2.1" ry="2.1" fill="#f7eee3" stroke="#b8742f" stroke-width="0.94"/>
<ellipse cx="374.8" cy="282.1" rx="2.1" ry="1.9" fill="#f7eee3" stroke="#c68a48" stroke-width="0.93"/>
<ellipse cx="380.0" cy="281.2" rx="2.0" ry="2.2" fill="#f7eee3" stroke="#c68a48" stroke-width="0.91"/>
<ellipse cx="384.9" cy="282.1" rx="2.0" ry="1.8" fill="#f7eee3" stroke="#b8742f" stroke-width="0.85"/>
<ellipse cx="390.5" cy="281.4" rx="1.7" ry="1.7" fill="#f7eee3" stroke="#c68a48" stroke-width="0.99"/>
<ellipse cx="395.4" cy="281.7" rx="1.7" ry="2.0" fill="#f7eee3" stroke="#b8742f" stroke-width="0.88"/>
<ellipse cx="400.4" cy="281.9" rx="1.7" ry="2.0" fill="#f7eee3" stroke="#c68a48" stroke-width="0.99"/>
<ellipse cx="406.5" cy="281.6" rx="1.9" ry="1.8" fill="#f7eee3" stroke="#b8742f" stroke-width="1.05"/>
<ellipse cx="410.7" cy="282.2" rx="1.8" ry="2.1" fill="#f7eee3" stroke="#b8742f" stroke-width="1.09"/>
<ellipse cx="421.4" cy="280.8" rx="1.9" ry="2.0" fill="#f7eee3" stroke="#c68a48" stroke-width="0.98"/>
<ellipse cx="426.8" cy="281.5" rx="1.7" ry="1.8" fill="#f7eee3" stroke="#c68a48" stroke-width="1.03"/>
<ellipse cx="432.2" cy="281.6" rx="1.9" ry="1.8" fill="#f7eee3" stroke="#c68a48" stroke-width="1.10"/>
<ellipse cx="436.8" cy="281.0" rx="1.6" ry="1.8" fill="#f7eee3" stroke="#b8742f" stroke-width="0.97"/>
<ellipse cx="442.8" cy="281.6" rx="2.1" ry="2.4" fill="#f7eee3" stroke="#c68a48" stroke-width="0.98"/>
<ellipse cx="448.0" cy="281.1" rx="1.8" ry="1.7" fill="#f7eee3" stroke="#c68a48" stroke-width="0.87"/>
<ellipse cx="452.2" cy="281.3" rx="1.7" ry="1.6" fill="#f7eee3" stroke="#c68a48" stroke-width="0.98"/>
<ellipse cx="458.0" cy="282.2" rx="1.7" ry="1.9" fill="#f7eee3" stroke="#c68a48" stroke-width="1.01"/>
<ellipse cx="462.6" cy="281.4" rx="1.6" ry="1.8" fill="#f7eee3" stroke="#b8742f" stroke-width="1.01"/>
<ellipse cx="468.9" cy="282.2" rx="1.8" ry="1.6" fill="#f7eee3" stroke="#c68a48" stroke-width="0.98"/>
<ellipse cx="474.1" cy="281.0" rx="1.7" ry="2.0" fill="#f7eee3" stroke="#c68a48" stroke-width="0.86"/>
<ellipse cx="478.6" cy="281.6" rx="2.0" ry="2.0" fill="#f7eee3" stroke="#c68a48" stroke-width="1.05"/>
<ellipse cx="484.1" cy="280.9" rx="1.7" ry="1.6" fill="#f7eee3" stroke="#c68a48" stroke-width="0.89"/>
<ellipse cx="351.3" cy="286.2" rx="1.8" ry="1.6" fill="#f7eee3" stroke="#c68a48" stroke-width="1.04"/>
<ellipse cx="355.7" cy="285.6" rx="1.7" ry="1.6" fill="#f7eee3" stroke="#b8742f" stroke-width="0.88"/>
<ellipse cx="361.7" cy="286.0" rx="1.8" ry="2.1" fill="#f7eee3" stroke="#c68a48" stroke-width="1.09"/>
<ellipse cx="367.4" cy="286.4" rx="1.8" ry="2.0" fill="#f7eee3" stroke="#b8742f" stroke-width="1.01"/>
<ellipse cx="371.6" cy="286.6" rx="1.7" ry="1.5" fill="#f7eee3" stroke="#c68a48" stroke-width="0.90"/>
<ellipse cx="377.1" cy="285.8" rx="2.1" ry="1.8" fill="#f7eee3" stroke="#b8742f" stroke-width="0.97"/>
<ellipse cx="382.6" cy="286.2" rx="2.2" ry="2.5" fill="#f7eee3" stroke="#c68a48" stroke-width="1.03"/>
<ellipse cx="388.0" cy="285.7" rx="2.0" ry="1.8" fill="#f7eee3" stroke="#c68a48" stroke-width="1.14"/>
<ellipse cx="393.3" cy="285.4" rx="2.0" ry="2.2" fill="#f7eee3" stroke="#c68a48" stroke-width="0.91"/>
<ellipse cx="397.4" cy="286.5" rx="1.7" ry="2.0" fill="#f7eee3" stroke="#b8742f" stroke-width="0.88"/>
<ellipse cx="403.4" cy="285.7" rx="2.1" ry="1.8" fill="#f7eee3" stroke="#b8742f" stroke-width="1.00"/>
<ellipse cx="408.3" cy="285.4" rx="1.8" ry="1.9" fill="#f7eee3" stroke="#c68a48" stroke-width="1.11"/>
<ellipse cx="424.2" cy="285.6" rx="2.2" ry="2.0" fill="#f7eee3" stroke="#b8742f" stroke-width="0.99"/>
<ellipse cx="429.7" cy="285.6" rx="1.8" ry="1.8" fill="#f7eee3" stroke="#b8742f" stroke-width="1.04"/>
<ellipse cx="434.2" cy="285.6" rx="1.7" ry="2.0" fill="#f7eee3" stroke="#c68a48" stroke-width="0.94"/>
<ellipse cx="440.0" cy="285.9" rx="2.0" ry="2.0" fill="#f7eee3" stroke="#c68a48" stroke-width="0.91"/>
<ellipse cx="444.9" cy="285.6" rx="2.1" ry="2.2" fill="#f7eee3" stroke="#b8742f" stroke-width="1.10"/>
<ellipse cx="450.3" cy="286.2" rx="2.1" ry="2.3" fill="#f7eee3" stroke="#b8742f" stroke-width="0.92"/>
<ellipse cx="455.2" cy="285.4" rx="1.9" ry="2.0" fill="#f7eee3" stroke="#c68a48" stroke-width="1.03"/>
<ellipse cx="460.8" cy="285.6" rx="2.1" ry="2.3" fill="#f7eee3" stroke="#b8742f" stroke-width="0.99"/>
<ellipse cx="465.5" cy="285.8" rx="1.7" ry="1.7" fill="#f7eee3" stroke="#b8742f" stroke-width="1.01"/>
<ellipse cx="470.2" cy="286.6" rx="1.8" ry="1.8" fill="#f7eee3" stroke="#c68a48" stroke-width="0.89"/>
<ellipse cx="476.7" cy="286.7" rx="2.0" ry="2.0" fill="#f7eee3" stroke="#c68a48" stroke-width="0.91"/>
<ellipse cx="481.0" cy="285.3" rx="2.2" ry="2.0" fill="#f7eee3" stroke="#c68a48" stroke-width="1.09"/>
<ellipse cx="354.1" cy="290.5" rx="1.8" ry="1.8" fill="#f7eee3" stroke="#c68a48" stroke-width="1.10"/>
<ellipse cx="358.7" cy="290.4" rx="1.9" ry="1.9" fill="#f7eee3" stroke="#b8742f" stroke-width="1.04"/>
<ellipse cx="363.7" cy="291.1" rx="2.1" ry="2.1" fill="#f7eee3" stroke="#b8742f" stroke-width="1.00"/>
<ellipse cx="369.7" cy="291.0" rx="1.6" ry="1.5" fill="#f7eee3" stroke="#b8742f" stroke-width="1.12"/>
<ellipse cx="374.3" cy="290.7" rx="1.7" ry="1.7" fill="#f7eee3" stroke="#c68a48" stroke-width="1.10"/>
<ellipse cx="379.2" cy="290.3" rx="1.7" ry="1.7" fill="#f7eee3" stroke="#c68a48" stroke-width="0.87"/>
<ellipse cx="384.8" cy="290.9" rx="2.2" ry="2.1" fill="#f7eee3" stroke="#c68a48" stroke-width="0.89"/>
<ellipse cx="390.4" cy="291.0" rx="2.1" ry="2.5" fill="#f7eee3" stroke="#b8742f" stroke-width="1.10"/>
<ellipse cx="394.9" cy="290.8" rx="2.1" ry="2.3" fill="#f7eee3" stroke="#c68a48" stroke-width="0.95"/>
<ellipse cx="401.0" cy="290.1" rx="1.9" ry="2.1" fill="#f7eee3" stroke="#b8742f" stroke-width="0.95"/>
<ellipse cx="406.0" cy="290.5" rx="1.6" ry="1.9" fill="#f7eee3" stroke="#c68a48" stroke-width="0.92"/>
<ellipse cx="410.8" cy="290.7" rx="1.9" ry="2.1" fill="#f7eee3" stroke="#c68a48" stroke-width="1.13"/>
<ellipse cx="421.0" cy="290.7" rx="2.0" ry="2.0" fill="#f7eee3" stroke="#b8742f" stroke-width="0.87"/>
<ellipse cx="426.7" cy="291.1" rx="1.9" ry="1.8" fill="#f7eee3" stroke="#c68a48" stroke-width="1.09"/>
<ellipse cx="432.1" cy="290.3" rx="1.6" ry="1.8" fill="#f7eee3" stroke="#b8742f" stroke-width="0.85"/>
<ellipse cx="436.6" cy="290.1" rx="1.9" ry="1.6" fill="#f7eee3" stroke="#c68a48" stroke-width="1.06"/>
<ellipse cx="442.3" cy="290.4" rx="1.6" ry="1.8" fill="#f7eee3" stroke="#c68a48" stroke-width="0.92"/>
<ellipse cx="447.0" cy="290.6" rx="2.1" ry="2.2" fill="#f7eee3" stroke="#b8742f" stroke-width="1.04"/>
<ellipse cx="452.6" cy="290.8" rx="2.1" ry="2.2" fill="#f7eee3" stroke="#b8742f" stroke-width="1.01"/>
<ellipse cx="458.1" cy="290.0" rx="2.2" ry="2.1" fill="#f7eee3" stroke="#c68a48" stroke-width="1.00"/>
<ellipse cx="463.7" cy="290.6" rx="1.9" ry="1.8" fill="#f7eee3" stroke="#b8742f" stroke-width="1.05"/>
<ellipse cx="468.4" cy="290.6" rx="1.8" ry="1.7" fill="#f7eee3" stroke="#c68a48" stroke-width="1.06"/>
<ellipse cx="473.0" cy="289.9" rx="1.8" ry="2.1" fill="#f7eee3" stroke="#c68a48" stroke-width="1.03"/>
<ellipse cx="477.9" cy="290.6" rx="2.1" ry="2.4" fill="#f7eee3" stroke="#b8742f" stroke-width="1.02"/>
<ellipse cx="355.9" cy="294.9" rx="2.1" ry="2.5" fill="#f7eee3" stroke="#c68a48" stroke-width="1.10"/>
<ellipse cx="362.1" cy="295.2" rx="1.8" ry="2.2" fill="#f7eee3" stroke="#c68a48" stroke-width="1.04"/>
<ellipse cx="366.8" cy="295.0" rx="1.6" ry="1.4" fill="#f7eee3" stroke="#b8742f" stroke-width="1.05"/>
<ellipse cx="371.4" cy="294.8" rx="2.1" ry="2.1" fill="#f7eee3" stroke="#c68a48" stroke-width="0.93"/>
<ellipse cx="377.3" cy="295.3" rx="1.9" ry="1.7" fill="#f7eee3" stroke="#c68a48" stroke-width="1.11"/>
<ellipse cx="382.7" cy="295.3" rx="1.7" ry="2.0" fill="#f7eee3" stroke="#b8742f" stroke-width="0.90"/>
<ellipse cx="387.4" cy="294.6" rx="1.7" ry="1.8" fill="#f7eee3" stroke="#c68a48" stroke-width="0.91"/>
<ellipse cx="393.3" cy="294.9" rx="2.0" ry="2.1" fill="#f7eee3" stroke="#c68a48" stroke-width="0.89"/>
<ellipse cx="398.3" cy="294.7" rx="2.0" ry="2.1" fill="#f7eee3" stroke="#b8742f" stroke-width="1.10"/>
<ellipse cx="403.6" cy="294.5" rx="1.9" ry="2.2" fill="#f7eee3" stroke="#b8742f" stroke-width="0.86"/>
<ellipse cx="408.0" cy="295.2" rx="1.7" ry="1.9" fill="#f7eee3" stroke="#b8742f" stroke-width="0.86"/>
<ellipse cx="413.0" cy="294.5" rx="1.6" ry="1.6" fill="#f7eee3" stroke="#b8742f" stroke-width="0.99"/>
<ellipse cx="423.5" cy="294.6" rx="1.9" ry="1.6" fill="#f7eee3" stroke="#b8742f" stroke-width="0.90"/>
<ellipse cx="429.5" cy="295.0" rx="2.0" ry="2.0" fill="#f7eee3" stroke="#c68a48" stroke-width="0.92"/>
<ellipse cx="434.8" cy="294.6" rx="1.9" ry="2.0" fill="#f7eee3" stroke="#b8742f" stroke-width="0.98"/>
<ellipse cx="439.7" cy="294.8" rx="1.8" ry="1.7" fill="#f7eee3" stroke="#c68a48" stroke-width="1.06"/>
<ellipse cx="445.2" cy="295.0" rx="2.2" ry="2.2" fill="#f7eee3" stroke="#c68a48" stroke-width="1.03"/>
<ellipse cx="450.1" cy="295.2" rx="2.1" ry="2.1" fill="#f7eee3" stroke="#b8742f" stroke-width="0.97"/>
<ellipse cx="454.8" cy="295.6" rx="1.6" ry="1.5" fill="#f7eee3" stroke="#c68a48" stroke-width="0.89"/>
<ellipse cx="460.6" cy="295.3" rx="2.1" ry="2.1" fill="#f7eee3" stroke="#c68a48" stroke-width="1.11"/>
<ellipse cx="465.8" cy="295.1" rx="2.0" ry="2.0" fill="#f7eee3" stroke="#b8742f" stroke-width="0.90"/>
<ellipse cx="470.2" cy="295.0" rx="2.0" ry="2.0" fill="#f7eee3" stroke="#c68a48" stroke-width="0.88"/>
<ellipse cx="476.6" cy="294.7" rx="2.0" ry="2.4" fill="#f7eee3" stroke="#c68a48" stroke-width="0.90"/>
<ellipse cx="358.5" cy="299.9" rx="1.7" ry="1.6" fill="#f7eee3" stroke="#c68a48" stroke-width="1.14"/>
<ellipse cx="364.5" cy="299.2" rx="1.8" ry="1.6" fill="#f7eee3" stroke="#c68a48" stroke-width="0.87"/>
<ellipse cx="369.0" cy="299.2" rx="2.0" ry="1.8" fill="#f7eee3" stroke="#c68a48" stroke-width="1.10"/>
<ellipse cx="374.3" cy="299.3" rx="1.7" ry="1.9" fill="#f7eee3" stroke="#c68a48" stroke-width="1.05"/>
<ellipse cx="379.5" cy="299.8" rx="2.0" ry="2.3" fill="#f7eee3" stroke="#b8742f" stroke-width="0.91"/>
<ellipse cx="385.3" cy="299.1" rx="1.6" ry="1.8" fill="#f7eee3" stroke="#b8742f" stroke-width="0.93"/>
<ellipse cx="390.8" cy="298.9" rx="2.2" ry="2.0" fill="#f7eee3" stroke="#c68a48" stroke-width="0.89"/>
<ellipse cx="395.2" cy="298.9" rx="2.1" ry="1.8" fill="#f7eee3" stroke="#b8742f" stroke-width="0.91"/>
<ellipse cx="400.0" cy="298.9" rx="2.0" ry="1.7" fill="#f7eee3" stroke="#c68a48" stroke-width="1.15"/>
<ellipse cx="405.4" cy="299.4" rx="1.9" ry="2.2" fill="#f7eee3" stroke="#b8742f" stroke-width="1.04"/>
<ellipse cx="411.1" cy="299.5" rx="1.7" ry="1.7" fill="#f7eee3" stroke="#b8742f" stroke-width="0.88"/>
<ellipse cx="415.7" cy="299.1" rx="1.8" ry="1.8" fill="#f7eee3" stroke="#c68a48" stroke-width="0.91"/>
<ellipse cx="421.0" cy="298.9" rx="2.0" ry="2.2" fill="#f7eee3" stroke="#b8742f" stroke-width="1.10"/>
<ellipse cx="425.9" cy="300.1" rx="1.9" ry="1.8" fill="#f7eee3" stroke="#b8742f" stroke-width="1.05"/>
<ellipse cx="432.4" cy="300.0" rx="1.8" ry="1.8" fill="#f7eee3" stroke="#b8742f" stroke-width="1.03"/>
<ellipse cx="436.8" cy="299.3" rx="2.2" ry="1.9" fill="#f7eee3" stroke="#c68a48" stroke-width="1.09"/>
<ellipse cx="441.5" cy="299.2" rx="1.9" ry="2.1" fill="#f7eee3" stroke="#b8742f" stroke-width="0.89"/>
<ellipse cx="447.8" cy="298.9" rx="2.1" ry="2.4" fill="#f7eee3" stroke="#b8742f" stroke-width="0.87"/>
<ellipse cx="452.1" cy="300.1" rx="1.8" ry="1.7" fill="#f7eee3" stroke="#b8742f" stroke-width="0.99"/>
<ellipse cx="458.4" cy="299.0" rx="1.8" ry="2.0" fill="#f7eee3" stroke="#c68a48" stroke-width="1.10"/>
<ellipse cx="462.6" cy="299.2" rx="1.8" ry="1.7" fill="#f7eee3" stroke="#c68a48" stroke-width="0.98"/>
<ellipse cx="467.5" cy="299.5" rx="1.9" ry="2.1" fill="#f7eee3" stroke="#b8742f" stroke-width="1.01"/>
<ellipse cx="473.1" cy="299.3" rx="2.0" ry="2.1" fill="#f7eee3" stroke="#b8742f" stroke-width="1.10"/>
<ellipse cx="361.2" cy="304.2" rx="1.7" ry="1.9" fill="#f7eee3" stroke="#c68a48" stroke-width="1.04"/>
<ellipse cx="367.1" cy="303.7" rx="1.7" ry="2.0" fill="#f7eee3" stroke="#b8742f" stroke-width="0.93"/>
<ellipse cx="372.2" cy="303.5" rx="1.9" ry="2.2" fill="#f7eee3" stroke="#b8742f" stroke-width="0.88"/>
<ellipse cx="377.0" cy="303.4" rx="1.9" ry="1.7" fill="#f7eee3" stroke="#b8742f" stroke-width="0.91"/>
<ellipse cx="383.0" cy="304.5" rx="2.1" ry="2.2" fill="#f7eee3" stroke="#c68a48" stroke-width="0.88"/>
<ellipse cx="387.2" cy="303.9" rx="1.7" ry="1.5" fill="#f7eee3" stroke="#c68a48" stroke-width="1.02"/>
<ellipse cx="392.9" cy="303.7" rx="1.6" ry="1.8" fill="#f7eee3" stroke="#c68a48" stroke-width="0.91"/>
<ellipse cx="398.3" cy="304.0" rx="2.0" ry="2.4" fill="#f7eee3" stroke="#b8742f" stroke-width="1.00"/>
<ellipse cx="403.1" cy="304.2" rx="2.0" ry="2.1" fill="#f7eee3" stroke="#b8742f" stroke-width="1.08"/>
<ellipse cx="407.9" cy="304.2" rx="1.8" ry="1.8" fill="#f7eee3" stroke="#c68a48" stroke-width="1.07"/>
<ellipse cx="413.6" cy="303.4" rx="2.2" ry="2.5" fill="#f7eee3" stroke="#c68a48" stroke-width="0.95"/>
<ellipse cx="418.8" cy="304.1" rx="1.9" ry="2.0" fill="#f7eee3" stroke="#c68a48" stroke-width="1.00"/>
<ellipse cx="424.6" cy="304.2" rx="2.1" ry="2.5" fill="#f7eee3" stroke="#c68a48" stroke-width="1.13"/>
<ellipse cx="428.8" cy="304.3" rx="1.7" ry="1.7" fill="#f7eee3" stroke="#c68a48" stroke-width="1.13"/>
<ellipse cx="434.3" cy="304.6" rx="1.9" ry="2.1" fill="#f7eee3" stroke="#c68a48" stroke-width="0.91"/>
<ellipse cx="439.9" cy="303.3" rx="2.0" ry="2.2" fill="#f7eee3" stroke="#c68a48" stroke-width="0.91"/>
<ellipse cx="445.2" cy="303.7" rx="1.9" ry="1.8" fill="#f7eee3" stroke="#b8742f" stroke-width="0.94"/>
<ellipse cx="450.4" cy="303.6" rx="2.0" ry="1.9" fill="#f7eee3" stroke="#c68a48" stroke-width="1.03"/>
<ellipse cx="455.1" cy="303.4" rx="2.0" ry="2.4" fill="#f7eee3" stroke="#c68a48" stroke-width="0.98"/>
<ellipse cx="461.0" cy="304.3" rx="1.8" ry="1.6" fill="#f7eee3" stroke="#c68a48" stroke-width="1.09"/>
<ellipse cx="465.4" cy="303.9" rx="1.8" ry="1.8" fill="#f7eee3" stroke="#c68a48" stroke-width="0.91"/>
<ellipse cx="471.2" cy="303.6" rx="2.0" ry="2.0" fill="#f7eee3" stroke="#b8742f" stroke-width="0.99"/>
<ellipse cx="364.1" cy="308.9" rx="1.6" ry="1.7" fill="#f7eee3" stroke="#c68a48" stroke-width="0.89"/>
<ellipse cx="370.0" cy="308.7" rx="2.1" ry="2.0" fill="#f7eee3" stroke="#c68a48" stroke-width="1.13"/>
<ellipse cx="374.9" cy="308.6" rx="2.1" ry="2.1" fill="#f7eee3" stroke="#b8742f" stroke-width="0.93"/>
<ellipse cx="379.9" cy="308.7" rx="1.9" ry="1.9" fill="#f7eee3" stroke="#c68a48" stroke-width="1.05"/>
<ellipse cx="385.2" cy="308.3" rx="2.1" ry="2.0" fill="#f7eee3" stroke="#b8742f" stroke-width="0.94"/>
<ellipse cx="390.2" cy="308.9" rx="2.0" ry="1.9" fill="#f7eee3" stroke="#b8742f" stroke-width="1.09"/>
<ellipse cx="395.3" cy="308.2" rx="1.8" ry="1.7" fill="#f7eee3" stroke="#c68a48" stroke-width="0.97"/>
<ellipse cx="400.9" cy="307.9" rx="1.9" ry="2.0" fill="#f7eee3" stroke="#c68a48" stroke-width="1.02"/>
<ellipse cx="405.8" cy="309.0" rx="1.9" ry="2.3" fill="#f7eee3" stroke="#b8742f" stroke-width="1.09"/>
<ellipse cx="410.6" cy="308.4" rx="2.0" ry="2.2" fill="#f7eee3" stroke="#c68a48" stroke-width="1.04"/>
<ellipse cx="415.7" cy="308.8" rx="2.0" ry="2.1" fill="#f7eee3" stroke="#b8742f" stroke-width="1.10"/>
<ellipse cx="420.8" cy="309.0" rx="1.8" ry="1.6" fill="#f7eee3" stroke="#b8742f" stroke-width="0.91"/>
<ellipse cx="427.0" cy="309.1" rx="1.9" ry="1.7" fill="#f7eee3" stroke="#c68a48" stroke-width="1.14"/>
<ellipse cx="432.0" cy="308.9" rx="1.7" ry="1.9" fill="#f7eee3" stroke="#c68a48" stroke-width="0.88"/>
<ellipse cx="437.5" cy="307.9" rx="1.7" ry="1.9" fill="#f7eee3" stroke="#c68a48" stroke-width="0.96"/>
<ellipse cx="442.9" cy="308.6" rx="1.9" ry="2.2" fill="#f7eee3" stroke="#c68a48" stroke-width="1.00"/>
<ellipse cx="448.1" cy="309.1" rx="1.7" ry="1.5" fill="#f7eee3" stroke="#c68a48" stroke-width="0.96"/>
<ellipse cx="452.2" cy="308.8" rx="1.9" ry="2.0" fill="#f7eee3" stroke="#b8742f" stroke-width="1.03"/>
<ellipse cx="457.9" cy="309.2" rx="1.7" ry="1.9" fill="#f7eee3" stroke="#c68a48" stroke-width="0.92"/>
<ellipse cx="462.7" cy="308.2" rx="1.8" ry="1.6" fill="#f7eee3" stroke="#b8742f" stroke-width="1.01"/>
<ellipse cx="468.6" cy="309.1" rx="1.7" ry="1.6" fill="#f7eee3" stroke="#c68a48" stroke-width="1.15"/>
<ellipse cx="371.9" cy="313.0" rx="1.8" ry="2.0" fill="#f7eee3" stroke="#c68a48" stroke-width="1.09"/>
<ellipse cx="376.8" cy="312.4" rx="1.9" ry="1.9" fill="#f7eee3" stroke="#b8742f" stroke-width="1.03"/>
<ellipse cx="382.6" cy="313.3" rx="1.8" ry="1.8" fill="#f7eee3" stroke="#c68a48" stroke-width="0.99"/>
<ellipse cx="388.2" cy="313.4" rx="2.2" ry="2.2" fill="#f7eee3" stroke="#c68a48" stroke-width="0.90"/>
<ellipse cx="392.8" cy="312.7" rx="2.0" ry="1.9" fill="#f7eee3" stroke="#c68a48" stroke-width="0.89"/>
<ellipse cx="398.4" cy="313.0" rx="1.8" ry="1.9" fill="#f7eee3" stroke="#c68a48" stroke-width="0.98"/>
<ellipse cx="402.7" cy="313.7" rx="1.8" ry="2.0" fill="#f7eee3" stroke="#c68a48" stroke-width="0.98"/>
<ellipse cx="409.0" cy="312.8" rx="2.0" ry="1.9" fill="#f7eee3" stroke="#c68a48" stroke-width="0.87"/>
<ellipse cx="413.5" cy="312.5" rx="1.7" ry="1.5" fill="#f7eee3" stroke="#c68a48" stroke-width="1.08"/>
<ellipse cx="419.5" cy="312.6" rx="1.6" ry="1.8" fill="#f7eee3" stroke="#b8742f" stroke-width="1.04"/>
<ellipse cx="424.4" cy="312.6" rx="1.9" ry="1.9" fill="#f7eee3" stroke="#c68a48" stroke-width="0.93"/>
<ellipse cx="428.9" cy="313.7" rx="1.8" ry="2.1" fill="#f7eee3" stroke="#c68a48" stroke-width="0.85"/>
<ellipse cx="433.8" cy="312.4" rx="1.7" ry="2.0" fill="#f7eee3" stroke="#b8742f" stroke-width="1.13"/>
<ellipse cx="439.0" cy="313.7" rx="2.2" ry="2.4" fill="#f7eee3" stroke="#c68a48" stroke-width="1.10"/>
<ellipse cx="444.7" cy="313.3" rx="2.1" ry="2.0" fill="#f7eee3" stroke="#c68a48" stroke-width="1.12"/>
<ellipse cx="450.0" cy="313.0" rx="1.9" ry="2.0" fill="#f7eee3" stroke="#c68a48" stroke-width="0.92"/>
<ellipse cx="455.0" cy="312.8" rx="1.7" ry="1.9" fill="#f7eee3" stroke="#b8742f" stroke-width="1.06"/>
<ellipse cx="461.1" cy="312.7" rx="1.6" ry="1.9" fill="#f7eee3" stroke="#b8742f" stroke-width="0.98"/>
<ellipse cx="465.1" cy="312.5" rx="1.9" ry="1.9" fill="#f7eee3" stroke="#c68a48" stroke-width="1.13"/>
<ellipse cx="374.8" cy="317.3" rx="2.0" ry="2.3" fill="#f7eee3" stroke="#c68a48" stroke-width="1.09"/>
<ellipse cx="379.8" cy="317.6" rx="1.8" ry="1.7" fill="#f7eee3" stroke="#c68a48" stroke-width="1.10"/>
<ellipse cx="385.3" cy="317.8" rx="2.0" ry="1.9" fill="#f7eee3" stroke="#c68a48" stroke-width="1.15"/>
<ellipse cx="390.0" cy="317.7" rx="2.1" ry="2.2" fill="#f7eee3" stroke="#c68a48" stroke-width="0.94"/>
<ellipse cx="395.2" cy="317.0" rx="1.9" ry="1.7" fill="#f7eee3" stroke="#c68a48" stroke-width="0.95"/>
<ellipse cx="401.3" cy="317.9" rx="2.0" ry="2.0" fill="#f7eee3" stroke="#b8742f" stroke-width="0.87"/>
<ellipse cx="405.3" cy="318.0" rx="1.9" ry="1.7" fill="#f7eee3" stroke="#c68a48" stroke-width="1.06"/>
<ellipse cx="410.4" cy="317.8" rx="1.8" ry="1.7" fill="#f7eee3" stroke="#b8742f" stroke-width="0.89"/>
<ellipse cx="416.8" cy="318.2" rx="1.8" ry="1.9" fill="#f7eee3" stroke="#c68a48" stroke-width="0.95"/>
<ellipse cx="421.4" cy="317.4" rx="2.0" ry="1.9" fill="#f7eee3" stroke="#c68a48" stroke-width="0.91"/>
<ellipse cx="426.7" cy="317.2" rx="1.9" ry="1.7" fill="#f7eee3" stroke="#b8742f" stroke-width="1.00"/>
<ellipse cx="432.3" cy="317.9" rx="2.1" ry="2.2" fill="#f7eee3" stroke="#b8742f" stroke-width="1.14"/>
<ellipse cx="437.0" cy="317.9" rx="1.8" ry="1.6" fill="#f7eee3" stroke="#c68a48" stroke-width="0.91"/>
<ellipse cx="442.0" cy="317.2" rx="1.8" ry="1.8" fill="#f7eee3" stroke="#c68a48" stroke-width="1.01"/>
<ellipse cx="447.4" cy="317.8" rx="1.8" ry="1.7" fill="#f7eee3" stroke="#c68a48" stroke-width="0.86"/>
<ellipse cx="452.3" cy="317.8" rx="1.7" ry="1.5" fill="#f7eee3" stroke="#b8742f" stroke-width="1.00"/>
<ellipse cx="458.4" cy="316.9" rx="2.0" ry="2.1" fill="#f7eee3" stroke="#c68a48" stroke-width="0.94"/>
<ellipse cx="462.3" cy="318.0" rx="2.1" ry="1.9" fill="#f7eee3" stroke="#c68a48" stroke-width="1.14"/>
<ellipse cx="382.3" cy="321.8" rx="1.7" ry="1.8" fill="#f7eee3" stroke="#c68a48" stroke-width="1.12"/>
<ellipse cx="387.1" cy="321.4" rx="2.0" ry="2.2" fill="#f7eee3" stroke="#c68a48" stroke-width="0.92"/>
<ellipse cx="393.3" cy="322.6" rx="1.8" ry="1.5" fill="#f7eee3" stroke="#c68a48" stroke-width="0.88"/>
<ellipse cx="397.7" cy="322.5" rx="1.8" ry="1.8" fill="#f7eee3" stroke="#c68a48" stroke-width="1.05"/>
<ellipse cx="403.7" cy="322.0" rx="2.2" ry="2.0" fill="#f7eee3" stroke="#c68a48" stroke-width="1.01"/>
<ellipse cx="408.7" cy="321.7" rx="1.8" ry="1.9" fill="#f7eee3" stroke="#c68a48" stroke-width="1.07"/>
<ellipse cx="413.5" cy="321.9" rx="2.0" ry="2.1" fill="#f7eee3" stroke="#c68a48" stroke-width="1.08"/>
<ellipse cx="419.2" cy="321.8" rx="1.7" ry="1.9" fill="#f7eee3" stroke="#b8742f" stroke-width="1.06"/>
<ellipse cx="424.5" cy="321.7" rx="1.7" ry="1.6" fill="#f7eee3" stroke="#c68a48" stroke-width="1.09"/>
<ellipse cx="429.4" cy="322.3" rx="2.0" ry="1.8" fill="#f7eee3" stroke="#c68a48" stroke-width="0.92"/>
<ellipse cx="434.7" cy="322.3" rx="2.0" ry="1.7" fill="#f7eee3" stroke="#b8742f" stroke-width="1.14"/>
<ellipse cx="439.6" cy="321.4" rx="1.6" ry="1.8" fill="#f7eee3" stroke="#b8742f" stroke-width="0.85"/>
<ellipse cx="445.3" cy="322.5" rx="2.0" ry="1.9" fill="#f7eee3" stroke="#c68a48" stroke-width="1.02"/>
<ellipse cx="449.5" cy="321.4" rx="1.9" ry="1.8" fill="#f7eee3" stroke="#b8742f" stroke-width="0.95"/>
<ellipse cx="455.8" cy="322.6" rx="1.7" ry="1.9" fill="#f7eee3" stroke="#c68a48" stroke-width="0.88"/>
<ellipse cx="385.2" cy="326.2" rx="1.8" ry="1.9" fill="#f7eee3" stroke="#c68a48" stroke-width="1.13"/>
<ellipse cx="390.6" cy="327.0" rx="2.1" ry="1.9" fill="#f7eee3" stroke="#c68a48" stroke-width="1.05"/>
<ellipse cx="395.8" cy="326.5" rx="1.8" ry="2.1" fill="#f7eee3" stroke="#c68a48" stroke-width="1.10"/>
<ellipse cx="401.1" cy="326.6" rx="1.8" ry="2.0" fill="#f7eee3" stroke="#c68a48" stroke-width="1.01"/>
<ellipse cx="405.9" cy="326.7" rx="1.6" ry="1.5" fill="#f7eee3" stroke="#c68a48" stroke-width="1.09"/>
<ellipse cx="411.6" cy="326.7" rx="2.0" ry="2.2" fill="#f7eee3" stroke="#b8742f" stroke-width="1.06"/>
<ellipse cx="415.6" cy="326.4" rx="2.0" ry="1.8" fill="#f7eee3" stroke="#b8742f" stroke-width="0.94"/>
<ellipse cx="421.1" cy="326.6" rx="2.0" ry="2.1" fill="#f7eee3" stroke="#c68a48" stroke-width="0.96"/>
<ellipse cx="426.1" cy="326.8" rx="1.8" ry="1.6" fill="#f7eee3" stroke="#b8742f" stroke-width="0.88"/>
<ellipse cx="431.3" cy="326.4" rx="1.7" ry="1.8" fill="#f7eee3" stroke="#c68a48" stroke-width="1.12"/>
<ellipse cx="437.4" cy="325.9" rx="2.2" ry="2.5" fill="#f7eee3" stroke="#b8742f" stroke-width="0.91"/>
<ellipse cx="441.7" cy="326.7" rx="2.0" ry="2.4" fill="#f7eee3" stroke="#b8742f" stroke-width="1.04"/>
<ellipse cx="447.7" cy="326.6" rx="1.8" ry="2.0" fill="#f7eee3" stroke="#c68a48" stroke-width="1.01"/>
<ellipse cx="397.5" cy="330.5" rx="1.7" ry="2.0" fill="#f7eee3" stroke="#b8742f" stroke-width="0.88"/>
<ellipse cx="402.8" cy="331.1" rx="2.0" ry="2.2" fill="#f7eee3" stroke="#c68a48" stroke-width="0.90"/>
<ellipse cx="408.8" cy="331.6" rx="2.1" ry="2.0" fill="#f7eee3" stroke="#c68a48" stroke-width="0.88"/>
<ellipse cx="413.7" cy="331.6" rx="2.1" ry="1.8" fill="#f7eee3" stroke="#b8742f" stroke-width="1.03"/>
<ellipse cx="419.3" cy="330.4" rx="1.8" ry="1.8" fill="#f7eee3" stroke="#c68a48" stroke-width="1.02"/>
<ellipse cx="424.5" cy="330.3" rx="2.1" ry="1.9" fill="#f7eee3" stroke="#c68a48" stroke-width="0.85"/>
<ellipse cx="428.8" cy="330.9" rx="1.9" ry="1.7" fill="#f7eee3" stroke="#b8742f" stroke-width="0.85"/>
<ellipse cx="433.9" cy="330.8" rx="1.7" ry="2.0" fill="#f7eee3" stroke="#c68a48" stroke-width="0.88"/>
<line x1="406.3" y1="248.7" x2="352.4" y2="242.7" stroke="#b8742f" stroke-width="4.5" stroke-linecap="round"/>
<line x1="406.3" y1="248.7" x2="352.4" y2="242.7" stroke="#f7eee3" stroke-width="0.8" stroke-linecap="round"/>
<line x1="390.4" y1="244.2" x2="359.5" y2="237.7" stroke="#b8742f" stroke-width="3.8" stroke-linecap="round"/>
<line x1="390.4" y1="244.2" x2="359.5" y2="237.7" stroke="#f7eee3" stroke-width="0.8" stroke-linecap="round"/>
<line x1="405.2" y1="246.1" x2="361.7" y2="232.2" stroke="#b8742f" stroke-width="3.8" stroke-linecap="round"/>
<line x1="405.2" y1="246.1" x2="361.7" y2="232.2" stroke="#f7eee3" stroke-width="0.8" stroke-linecap="round"/>
<line x1="394.1" y1="239.8" x2="361.7" y2="225.7" stroke="#b8742f" stroke-width="4.4" stroke-linecap="round"/>
<line x1="394.1" y1="239.8" x2="361.7" y2="225.7" stroke="#f7eee3" stroke-width="0.8" stroke-linecap="round"/>
<line x1="406.7" y1="243.8" x2="365.7" y2="220.5" stroke="#b8742f" stroke-width="4.1" stroke-linecap="round"/>
<line x1="406.7" y1="243.8" x2="365.7" y2="220.5" stroke="#f7eee3" stroke-width="0.8" stroke-linecap="round"/>
<line x1="396.1" y1="234.4" x2="370.2" y2="215.6" stroke="#b8742f" stroke-width="4.5" stroke-linecap="round"/>
<line x1="396.1" y1="234.4" x2="370.2" y2="215.6" stroke="#f7eee3" stroke-width="0.8" stroke-linecap="round"/>
<line x1="409.7" y1="242.7" x2="378.3" y2="213.8" stroke="#b8742f" stroke-width="3.8" stroke-linecap="round"/>
<line x1="409.7" y1="242.7" x2="378.3" y2="213.8" stroke="#f7eee3" stroke-width="0.8" stroke-linecap="round"/>
<line x1="401.3" y1="230.8" x2="381.1" y2="206.9" stroke="#b8742f" stroke-width="3.8" stroke-linecap="round"/>
<line x1="401.3" y1="230.8" x2="381.1" y2="206.9" stroke="#f7eee3" stroke-width="0.8" stroke-linecap="round"/>
<line x1="410.6" y1="239.2" x2="389.1" y2="205.8" stroke="#b8742f" stroke-width="4.4" stroke-linecap="round"/>
<line x1="410.6" y1="239.2" x2="389.1" y2="205.8" stroke="#f7eee3" stroke-width="0.8" stroke-linecap="round"/>
<line x1="407.7" y1="228.9" x2="394.7" y2="201.0" stroke="#b8742f" stroke-width="4.1" stroke-linecap="round"/>
<line x1="407.7" y1="228.9" x2="394.7" y2="201.0" stroke="#f7eee3" stroke-width="0.8" stroke-linecap="round"/>
<line x1="415.2" y1="242.2" x2="402.9" y2="201.5" stroke="#b8742f" stroke-width="3.9" stroke-linecap="round"/>
<line x1="415.2" y1="242.2" x2="402.9" y2="201.5" stroke="#f7eee3" stroke-width="0.8" stroke-linecap="round"/>
<line x1="414.6" y1="229.9" x2="410.2" y2="200.3" stroke="#b8742f" stroke-width="3.9" stroke-linecap="round"/>
<line x1="414.6" y1="229.9" x2="410.2" y2="200.3" stroke="#f7eee3" stroke-width="0.8" stroke-linecap="round"/>
<line x1="417.6" y1="240.0" x2="417.6" y2="202.9" stroke="#b8742f" stroke-width="4.8" stroke-linecap="round"/>
<line x1="417.6" y1="240.0" x2="417.6" y2="202.9" stroke="#f7eee3" stroke-width="0.8" stroke-linecap="round"/>
<line x1="420.6" y1="229.8" x2="424.5" y2="203.6" stroke="#b8742f" stroke-width="4.6" stroke-linecap="round"/>
<line x1="420.6" y1="229.8" x2="424.5" y2="203.6" stroke="#f7eee3" stroke-width="0.8" stroke-linecap="round"/>
<line x1="420.8" y1="239.5" x2="431.4" y2="204.5" stroke="#b8742f" stroke-width="4.3" stroke-linecap="round"/>
<line x1="420.8" y1="239.5" x2="431.4" y2="204.5" stroke="#f7eee3" stroke-width="0.8" stroke-linecap="round"/>
<line x1="426.5" y1="231.0" x2="438.8" y2="204.7" stroke="#b8742f" stroke-width="3.9" stroke-linecap="round"/>
<line x1="426.5" y1="231.0" x2="438.8" y2="204.7" stroke="#f7eee3" stroke-width="0.8" stroke-linecap="round"/>
<line x1="424.2" y1="239.8" x2="445.4" y2="207.0" stroke="#b8742f" stroke-width="4.5" stroke-linecap="round"/>
<line x1="424.2" y1="239.8" x2="445.4" y2="207.0" stroke="#f7eee3" stroke-width="0.8" stroke-linecap="round"/>
<line x1="431.5" y1="233.6" x2="453.1" y2="208.2" stroke="#b8742f" stroke-width="4.2" stroke-linecap="round"/>
<line x1="431.5" y1="233.6" x2="453.1" y2="208.2" stroke="#f7eee3" stroke-width="0.8" stroke-linecap="round"/>
<line x1="424.9" y1="243.3" x2="455.9" y2="214.8" stroke="#b8742f" stroke-width="4.7" stroke-linecap="round"/>
<line x1="424.9" y1="243.3" x2="455.9" y2="214.8" stroke="#f7eee3" stroke-width="0.8" stroke-linecap="round"/>
<line x1="435.6" y1="237.0" x2="465.0" y2="215.7" stroke="#b8742f" stroke-width="4.2" stroke-linecap="round"/>
<line x1="435.6" y1="237.0" x2="465.0" y2="215.7" stroke="#f7eee3" stroke-width="0.8" stroke-linecap="round"/>
<line x1="427.2" y1="244.6" x2="468.3" y2="221.2" stroke="#b8742f" stroke-width="4.1" stroke-linecap="round"/>
<line x1="427.2" y1="244.6" x2="468.3" y2="221.2" stroke="#f7eee3" stroke-width="0.8" stroke-linecap="round"/>
<line x1="439.5" y1="240.5" x2="473.7" y2="225.7" stroke="#b8742f" stroke-width="4.5" stroke-linecap="round"/>
<line x1="439.5" y1="240.5" x2="473.7" y2="225.7" stroke="#f7eee3" stroke-width="0.8" stroke-linecap="round"/>
<line x1="431.3" y1="245.6" x2="478.1" y2="230.8" stroke="#b8742f" stroke-width="4.3" stroke-linecap="round"/>
<line x1="431.3" y1="245.6" x2="478.1" y2="230.8" stroke="#f7eee3" stroke-width="0.8" stroke-linecap="round"/>
<line x1="442.0" y1="244.8" x2="478.8" y2="237.0" stroke="#b8742f" stroke-width="4.1" stroke-linecap="round"/>
<line x1="442.0" y1="244.8" x2="478.8" y2="237.0" stroke="#f7eee3" stroke-width="0.8" stroke-linecap="round"/>
<line x1="432.4" y1="248.3" x2="482.7" y2="242.7" stroke="#b8742f" stroke-width="4.2" stroke-linecap="round"/>
<line x1="432.4" y1="248.3" x2="482.7" y2="242.7" stroke="#f7eee3" stroke-width="0.8" stroke-linecap="round"/>
<ellipse cx="355.0" cy="264.6" rx="1.7" ry="7.0" transform="rotate(-16.0 355.0 264.6)" fill="#f7eee3" stroke="#b8742f" stroke-width="1.9"/>
<ellipse cx="360.6" cy="264.2" rx="1.7" ry="7.5" transform="rotate(-12.5 360.6 264.2)" fill="#f7eee3" stroke="#b8742f" stroke-width="1.9"/>
<ellipse cx="366.2" cy="263.8" rx="1.7" ry="8.0" transform="rotate(-9.0 366.2 263.8)" fill="#f7eee3" stroke="#b8742f" stroke-width="1.9"/>
<ellipse cx="371.8" cy="263.4" rx="1.7" ry="8.5" transform="rotate(-5.5 371.8 263.4)" fill="#f7eee3" stroke="#b8742f" stroke-width="1.9"/>
<ellipse cx="377.4" cy="263.0" rx="1.7" ry="9.0" transform="rotate(-2.0 377.4 263.0)" fill="#f7eee3" stroke="#b8742f" stroke-width="1.9"/>
<ellipse cx="383.0" cy="263.4" rx="1.7" ry="8.5" transform="rotate(1.5 383.0 263.4)" fill="#f7eee3" stroke="#b8742f" stroke-width="1.9"/>
<ellipse cx="388.6" cy="263.8" rx="1.7" ry="8.0" transform="rotate(5.0 388.6 263.8)" fill="#f7eee3" stroke="#b8742f" stroke-width="1.9"/>
<ellipse cx="394.2" cy="264.2" rx="1.7" ry="7.5" transform="rotate(8.5 394.2 264.2)" fill="#f7eee3" stroke="#b8742f" stroke-width="1.9"/>
<ellipse cx="399.8" cy="264.6" rx="1.7" ry="7.0" transform="rotate(12.0 399.8 264.6)" fill="#f7eee3" stroke="#b8742f" stroke-width="1.9"/>
<ellipse cx="405.4" cy="265.0" rx="1.7" ry="6.5" transform="rotate(15.5 405.4 265.0)" fill="#f7eee3" stroke="#b8742f" stroke-width="1.9"/>
<ellipse cx="425.0" cy="264.0" rx="1.7" ry="7.0" transform="rotate(-16.0 425.0 264.0)" fill="#f7eee3" stroke="#b8742f" stroke-width="1.9"/>
<ellipse cx="430.7" cy="263.5" rx="1.7" ry="7.4" transform="rotate(-12.6 430.7 263.5)" fill="#f7eee3" stroke="#b8742f" stroke-width="1.9"/>
<ellipse cx="436.4" cy="263.0" rx="1.7" ry="7.8" transform="rotate(-9.2 436.4 263.0)" fill="#f7eee3" stroke="#b8742f" stroke-width="1.9"/>
<ellipse cx="442.1" cy="262.5" rx="1.7" ry="8.2" transform="rotate(-5.8 442.1 262.5)" fill="#f7eee3" stroke="#b8742f" stroke-width="1.9"/>
<ellipse cx="447.8" cy="262.0" rx="1.7" ry="8.6" transform="rotate(-2.4 447.8 262.0)" fill="#f7eee3" stroke="#b8742f" stroke-width="1.9"/>
<ellipse cx="453.5" cy="262.5" rx="1.7" ry="9.0" transform="rotate(1.0 453.5 262.5)" fill="#f7eee3" stroke="#b8742f" stroke-width="1.9"/>
<ellipse cx="459.2" cy="263.0" rx="1.7" ry="8.6" transform="rotate(4.4 459.2 263.0)" fill="#f7eee3" stroke="#b8742f" stroke-width="1.9"/>
<ellipse cx="464.9" cy="263.5" rx="1.7" ry="8.2" transform="rotate(7.8 464.9 263.5)" fill="#f7eee3" stroke="#b8742f" stroke-width="1.9"/>
<ellipse cx="470.6" cy="264.0" rx="1.7" ry="7.8" transform="rotate(11.2 470.6 264.0)" fill="#f7eee3" stroke="#b8742f" stroke-width="1.9"/>
<ellipse cx="476.3" cy="264.5" rx="1.7" ry="7.4" transform="rotate(14.6 476.3 264.5)" fill="#f7eee3" stroke="#b8742f" stroke-width="1.9"/>
<path d="M354,238 C372,236 392,242 408,249 C412,251 420,251 426,248 C446,240 462,238 482,234 L482,239 C462,243 444,247 430,253 C423,257 420,266 420,276 C420,286 419,294 417.5,300 C415,294 415,284 414,274 C413,264 408,259 400,256 C386,251 370,246 354,243Z" fill="#fbf8f4" filter="url(#b1)"/>
<path d="M360,228 C368,219 384,216 396,223 C390,232 372,236 360,232Z" fill="#fbf8f4" filter="url(#b1)" opacity=".9"/>
<circle cx="364" cy="226" r="1.2" fill="#f7eee3" stroke="#c68a48" stroke-width="0.75"/>
<circle cx="369" cy="222" r="1.2" fill="#f7eee3" stroke="#c68a48" stroke-width="0.75"/>
<circle cx="374" cy="220" r="1.2" fill="#f7eee3" stroke="#c68a48" stroke-width="0.75"/>
<circle cx="380" cy="219" r="1.2" fill="#f7eee3" stroke="#c68a48" stroke-width="0.75"/>
<circle cx="367" cy="230" r="1.2" fill="#f7eee3" stroke="#c68a48" stroke-width="0.75"/>
<circle cx="373" cy="227" r="1.2" fill="#f7eee3" stroke="#c68a48" stroke-width="0.75"/>
<circle cx="379" cy="225" r="1.2" fill="#f7eee3" stroke="#c68a48" stroke-width="0.75"/>
<circle cx="385" cy="222" r="1.2" fill="#f7eee3" stroke="#c68a48" stroke-width="0.75"/>
</g>
</g>
<line x1="393.40" y1="277.00" x2="349.50" y2="279.50" stroke="#555" stroke-width="0.4" />
<rect x="349.90" y="279.00" width="61.00" height="51.00" fill="#fbf9f6" stroke="none" stroke-width="1" />
<g clip-path="url(#cI3)">
<g transform="translate(346,274) scale(0.10463)" fill="none" stroke-linecap="round" stroke-linejoin="round">
<path d="M40,215 C90,150 150,100 215,85 C260,72 310,62 335,78 C345,110 320,160 255,205 C190,235 110,235 45,262" fill="#f4ebe2" stroke="#b9732f" stroke-width="30"/>
<path d="M462,95 C430,180 380,270 335,330 C420,380 520,400 598,398 C570,300 520,180 462,95Z" fill="#f1e9e4" stroke="#b9732f" stroke-width="36"/>
<path d="M335,110 C390,120 430,110 462,95" stroke="#b9732f" stroke-width="22"/>
<path d="M255,205 C290,250 320,300 335,330" stroke="#b9732f" stroke-width="30"/>
<path d="M345,335 C355,400 350,470 325,545" stroke="#b9732f" stroke-width="30"/>
<path d="M598,398 C610,450 605,500 598,545" stroke="#b9732f" stroke-width="30"/>
<path d="M35,415 C90,430 150,428 205,432 C195,470 180,510 170,545" stroke="#b9732f" stroke-width="30"/>
<path d="M462,95 C458,80 455,65 452,50" stroke="#b9732f" stroke-width="18"/>
<circle cx="142" cy="123" r="6" fill="#7a84c0" stroke="none" opacity=".6"/>
<circle cx="195" cy="163" r="6" fill="#7a84c0" stroke="none" opacity=".6"/>
<circle cx="159" cy="123" r="6" fill="#7a84c0" stroke="none" opacity=".6"/>
<circle cx="172" cy="168" r="6" fill="#7a84c0" stroke="none" opacity=".6"/>
<circle cx="161" cy="167" r="6" fill="#7a84c0" stroke="none" opacity=".6"/>
<circle cx="233" cy="125" r="6" fill="#7a84c0" stroke="none" opacity=".6"/>
<circle cx="215" cy="146" r="6" fill="#7a84c0" stroke="none" opacity=".6"/>
<circle cx="198" cy="185" r="6" fill="#7a84c0" stroke="none" opacity=".6"/>
<circle cx="153" cy="116" r="6" fill="#7a84c0" stroke="none" opacity=".6"/>
<circle cx="272" cy="143" r="6" fill="#7a84c0" stroke="none" opacity=".6"/>
<circle cx="168" cy="138" r="6" fill="#7a84c0" stroke="none" opacity=".6"/>
<circle cx="191" cy="182" r="6" fill="#7a84c0" stroke="none" opacity=".6"/>
<circle cx="420" cy="259" r="6" fill="#7a84c0" stroke="none" opacity=".6"/>
<circle cx="465" cy="295" r="6" fill="#7a84c0" stroke="none" opacity=".6"/>
<circle cx="509" cy="327" r="6" fill="#7a84c0" stroke="none" opacity=".6"/>
<circle cx="438" cy="257" r="6" fill="#7a84c0" stroke="none" opacity=".6"/>
<circle cx="495" cy="344" r="6" fill="#7a84c0" stroke="none" opacity=".6"/>
<circle cx="399" cy="316" r="6" fill="#7a84c0" stroke="none" opacity=".6"/>
<circle cx="499" cy="307" r="6" fill="#7a84c0" stroke="none" opacity=".6"/>
<circle cx="421" cy="323" r="6" fill="#7a84c0" stroke="none" opacity=".6"/>
<circle cx="483" cy="256" r="6" fill="#7a84c0" stroke="none" opacity=".6"/>
<circle cx="472" cy="259" r="6" fill="#7a84c0" stroke="none" opacity=".6"/>
<circle cx="400" cy="272" r="6" fill="#7a84c0" stroke="none" opacity=".6"/>
<circle cx="435" cy="279" r="6" fill="#7a84c0" stroke="none" opacity=".6"/>
<circle cx="102" cy="517" r="6" fill="#7a84c0" stroke="none" opacity=".6"/>
<circle cx="127" cy="524" r="6" fill="#7a84c0" stroke="none" opacity=".6"/>
<circle cx="129" cy="514" r="6" fill="#7a84c0" stroke="none" opacity=".6"/>
<circle cx="75" cy="484" r="6" fill="#7a84c0" stroke="none" opacity=".6"/>
<circle cx="100" cy="502" r="6" fill="#7a84c0" stroke="none" opacity=".6"/>
<circle cx="104" cy="480" r="6" fill="#7a84c0" stroke="none" opacity=".6"/>
<circle cx="65" cy="521" r="6" fill="#7a84c0" stroke="none" opacity=".6"/>
<circle cx="98" cy="510" r="6" fill="#7a84c0" stroke="none" opacity=".6"/>
<circle cx="58" cy="495" r="6" fill="#7a84c0" stroke="none" opacity=".6"/>
<circle cx="123" cy="507" r="6" fill="#7a84c0" stroke="none" opacity=".6"/>
<circle cx="129" cy="485" r="6" fill="#7a84c0" stroke="none" opacity=".6"/>
<circle cx="86" cy="515" r="6" fill="#7a84c0" stroke="none" opacity=".6"/>
</g>
</g>
<rect x="349.90" y="279.00" width="61.00" height="51.00" fill="none" stroke="#2a2a2a" stroke-width="1" />
<rect x="393.40" y="261.00" width="19.00" height="16.00" fill="none" stroke="#e8242c" stroke-width="1.3" stroke-dasharray="4 1.6"/>
<text x="532.6" y="189.9" font-size="9.4" fill="#000">Chisq.test: <tspan font-style="italic">p</tspan> &lt; 0.001</text>
<rect x="529.70" y="199.50" width="91.50" height="121.60" fill="#fff" stroke="#adabe2" stroke-width="1.1" />
<line x1="530.30" y1="304.01" x2="620.60" y2="304.01" stroke="#ebebeb" stroke-width="0.5" stroke-dasharray="1 1"/>
<line x1="530.30" y1="281.04" x2="620.60" y2="281.04" stroke="#ebebeb" stroke-width="0.5" stroke-dasharray="1 1"/>
<line x1="530.30" y1="258.06" x2="620.60" y2="258.06" stroke="#ebebeb" stroke-width="0.5" stroke-dasharray="1 1"/>
<line x1="530.30" y1="235.09" x2="620.60" y2="235.09" stroke="#ebebeb" stroke-width="0.5" stroke-dasharray="1 1"/>
<line x1="530.30" y1="212.11" x2="620.60" y2="212.11" stroke="#ebebeb" stroke-width="0.5" stroke-dasharray="1 1"/>
<line x1="530.30" y1="315.50" x2="620.60" y2="315.50" stroke="#d9d9d9" stroke-width="0.7" />
<line x1="527.30" y1="315.50" x2="529.20" y2="315.50" stroke="#333" stroke-width="0.7" />
<text x="510.30" y="318.70" font-size="8.33" fill="#000">0.00</text>
<line x1="530.30" y1="292.52" x2="620.60" y2="292.52" stroke="#d9d9d9" stroke-width="0.7" />
<line x1="527.30" y1="292.52" x2="529.20" y2="292.52" stroke="#333" stroke-width="0.7" />
<text x="510.30" y="295.72" font-size="8.33" fill="#000">0.25</text>
<line x1="530.30" y1="269.55" x2="620.60" y2="269.55" stroke="#d9d9d9" stroke-width="0.7" />
<line x1="527.30" y1="269.55" x2="529.20" y2="269.55" stroke="#333" stroke-width="0.7" />
<text x="510.30" y="272.75" font-size="8.33" fill="#000">0.50</text>
<line x1="530.30" y1="246.57" x2="620.60" y2="246.57" stroke="#d9d9d9" stroke-width="0.7" />
<line x1="527.30" y1="246.57" x2="529.20" y2="246.57" stroke="#333" stroke-width="0.7" />
<text x="510.30" y="249.77" font-size="8.33" fill="#000">0.75</text>
<line x1="530.30" y1="223.60" x2="620.60" y2="223.60" stroke="#d9d9d9" stroke-width="0.7" />
<line x1="527.30" y1="223.60" x2="529.20" y2="223.60" stroke="#333" stroke-width="0.7" />
<text x="510.30" y="226.80" font-size="8.33" fill="#000">1.00</text>
<line x1="527.30" y1="200.62" x2="529.20" y2="200.62" stroke="#333" stroke-width="0.7" />
<text x="510.30" y="203.82" font-size="8.33" fill="#000">1.25</text>
<rect x="536.00" y="223.60" width="37.60" height="71.04" fill="#f78f8b" stroke="none" stroke-width="1" />
<rect x="536.00" y="294.64" width="37.60" height="20.86" fill="#2fc9cd" stroke="none" stroke-width="1" />
<rect x="578.10" y="223.60" width="37.90" height="34.28" fill="#f78f8b" stroke="none" stroke-width="1" />
<rect x="578.10" y="257.88" width="37.90" height="57.62" fill="#2fc9cd" stroke="none" stroke-width="1" />
<text x="534.20" y="214.70" font-size="7.98" fill="#000">CDK5</text>
<rect x="560.00" y="207.90" width="8.40" height="8.30" fill="#f78f8b" stroke="none" stroke-width="1" />
<text x="573.00" y="214.70" font-size="6.76" fill="#000">High</text>
<rect x="592.00" y="207.90" width="8.40" height="8.30" fill="#2fc9cd" stroke="none" stroke-width="1" />
<text x="604.40" y="214.70" font-size="6.76" fill="#000">Low</text>
<line x1="554.70" y1="321.60" x2="554.70" y2="323.70" stroke="#333" stroke-width="0.7" />
<line x1="597.20" y1="321.60" x2="597.20" y2="323.70" stroke="#333" stroke-width="0.7" />
<text x="539.80" y="330.10" font-size="9.24" fill="#000">Normal</text>
<text x="585.30" y="330.10" font-size="8.42" fill="#000">Tumor</text>
<text transform="translate(506.40,260.00) rotate(-90)" x="-34.10" font-size="10.0" fill="#000">Percent Weight</text>
<text x="7.20" y="239.00" font-size="13" font-weight="bold" fill="#000">(C)</text>
<line x1="39.40" y1="243.00" x2="39.40" y2="391.80" stroke="#222" stroke-width="0.9" />
<line x1="39.00" y1="391.40" x2="150.70" y2="391.40" stroke="#222" stroke-width="0.9" />
<line x1="37.20" y1="384.40" x2="39.40" y2="384.40" stroke="#222" stroke-width="0.7" />
<text x="24.32" y="386.56" font-size="6" fill="#1c1c1c">0.00</text>
<line x1="37.20" y1="350.40" x2="39.40" y2="350.40" stroke="#222" stroke-width="0.7" />
<text x="24.32" y="352.56" font-size="6" fill="#1c1c1c">0.25</text>
<line x1="37.20" y1="316.40" x2="39.40" y2="316.40" stroke="#222" stroke-width="0.7" />
<text x="24.32" y="318.56" font-size="6" fill="#1c1c1c">0.50</text>
<line x1="37.20" y1="282.40" x2="39.40" y2="282.40" stroke="#222" stroke-width="0.7" />
<text x="24.32" y="284.56" font-size="6" fill="#1c1c1c">0.75</text>
<line x1="37.20" y1="248.40" x2="39.40" y2="248.40" stroke="#222" stroke-width="0.7" />
<text x="24.32" y="250.56" font-size="6" fill="#1c1c1c">1.00</text>
<line x1="44.70" y1="391.40" x2="44.70" y2="393.60" stroke="#222" stroke-width="0.7" />
<text x="42.86" y="399.28" font-size="6.6" fill="#1c1c1c">0</text>
<line x1="69.90" y1="391.40" x2="69.90" y2="393.60" stroke="#222" stroke-width="0.7" />
<text x="66.23" y="399.28" font-size="6.6" fill="#1c1c1c">30</text>
<line x1="95.20" y1="391.40" x2="95.20" y2="393.60" stroke="#222" stroke-width="0.7" />
<text x="91.53" y="399.28" font-size="6.6" fill="#1c1c1c">60</text>
<line x1="120.30" y1="391.40" x2="120.30" y2="393.60" stroke="#222" stroke-width="0.7" />
<text x="116.63" y="399.28" font-size="6.6" fill="#1c1c1c">90</text>
<line x1="145.40" y1="391.40" x2="145.40" y2="393.60" stroke="#222" stroke-width="0.7" />
<text x="139.89" y="399.28" font-size="6.6" fill="#1c1c1c">120</text>
<text x="44.00" y="407.87" font-size="8.3" fill="#0d0d0d">Time (Months, Local cohort)</text>
<text transform="translate(20.80,316.40) rotate(-90)" x="-38.01" font-size="8.24" fill="#0d0d0d">Overall survival (OS)</text>
<path d="M45.9,248.4 L46.6,248.4 L46.6,249.0 L49.7,249.0 L49.7,249.4 L50.1,249.4 L50.1,249.5 L50.9,249.5 L50.9,250.7 L51.0,250.7 L51.0,250.7 L51.1,250.7 L51.1,252.6 L52.0,252.6 L52.0,254.4 L52.5,254.4 L52.5,256.8 L52.9,256.8 L52.9,257.1 L53.0,257.1 L53.0,258.6 L53.4,258.6 L53.4,259.1 L53.5,259.1 L53.5,259.2 L55.7,259.2 L55.7,261.4 L55.9,261.4 L55.9,263.3 L56.8,263.3 L56.8,263.4 L57.5,263.4 L57.5,263.9 L59.8,263.9 L59.8,264.4 L60.1,264.4 L60.1,265.8 L60.8,265.8 L60.8,266.0 L60.9,266.0 L60.9,267.3 L60.9,267.3 L60.9,268.2 L61.5,268.2 L61.5,270.4 L61.6,270.4 L61.6,271.1 L61.7,271.1 L61.7,272.8 L63.4,272.8 L63.4,274.1 L63.7,274.1 L63.7,276.6 L64.3,276.6 L64.3,277.6 L65.2,277.6 L65.2,279.0 L65.3,279.0 L65.3,279.7 L65.6,279.7 L65.6,281.1 L66.0,281.1 L66.0,282.0 L66.0,282.0 L66.0,282.5 L67.7,282.5 L67.7,282.7 L67.9,282.7 L67.9,283.9 L68.8,283.9 L68.8,284.9 L68.9,284.9 L68.9,287.2 L69.3,287.2 L69.3,288.4 L70.2,288.4 L70.2,289.0 L72.0,289.0 L72.0,289.1 L72.8,289.1 L72.8,289.5 L74.3,289.5 L74.3,290.0 L76.6,290.0 L76.6,290.2 L77.3,290.2 L77.3,290.2 L77.4,290.2 L77.4,292.5 L78.9,292.5 L78.9,293.6 L80.2,293.6 L80.2,295.1 L82.2,295.1 L82.2,295.8 L83.2,295.8 L83.2,297.2 L85.1,297.2 L85.1,299.1 L85.2,299.1 L85.2,299.2 L87.9,299.2 L87.9,300.2 L89.1,300.2 L89.1,301.4 L89.5,301.4 L89.5,303.2 L90.2,303.2 L90.2,303.4 L92.0,303.4 L92.0,303.4 L93.3,303.4 L93.3,304.7 L93.9,304.7 L93.9,304.7 L94.1,304.7 L94.1,304.8 L96.6,304.8 L96.6,304.9 L96.9,304.9 L96.9,305.1 L97.4,305.1 L97.4,305.6 L100.8,305.6 L100.8,306.0 L101.7,306.0 L101.7,306.0 L102.1,306.0 L102.1,306.3 L102.1,306.3 L102.1,306.4 L104.3,306.4 L104.3,306.4 L104.9,306.4 L104.9,306.7 L106.1,306.7 L106.1,307.6 L106.2,307.6 L106.2,308.3 L108.0,308.3 L108.0,308.6 L108.7,308.6 L108.7,310.1 L110.3,310.1 L110.3,311.8 L114.3,311.8 L114.3,312.4 L114.3,312.4 L114.3,313.8 L114.6,313.8 L114.6,313.9 L115.3,313.9 L115.3,314.3 L115.4,314.3 L115.4,314.3 L115.7,314.3 L115.7,314.8 L118.7,314.8 L118.7,316.0 L120.4,316.0 L120.4,316.5 L146.3,316.5 L146.3,316.5" fill="none" stroke="#f8801c" stroke-width="1.25" stroke-linejoin="miter"/>
<path d="M106.6,306.8v3M105.3,308.3h2.6M94.2,303.3v3M92.9,304.8h2.6M118.9,314.5v3M117.6,316.0h2.6M117.6,313.3v3M116.3,314.8h2.6M102.9,304.9v3M101.6,306.4h2.6M109.2,308.6v3M107.9,310.1h2.6M94.9,303.3v3M93.6,304.8h2.6M95.1,303.3v3M93.8,304.8h2.6M97.2,303.6v3M95.9,305.1h2.6M110.2,308.6v3M108.9,310.1h2.6M125.5,315.0v3M124.2,316.5h2.6M145.2,315.0v3M143.9,316.5h2.6M121.8,315.0v3M120.5,316.5h2.6M125.0,315.0v3M123.7,316.5h2.6M122.3,315.0v3M121.0,316.5h2.6M140.0,315.0v3M138.7,316.5h2.6M129.5,315.0v3M128.2,316.5h2.6M132.3,315.0v3M131.0,316.5h2.6M128.5,315.0v3M127.2,316.5h2.6M136.6,315.0v3M135.3,316.5h2.6M130.5,315.0v3M129.2,316.5h2.6M125.4,315.0v3M124.1,316.5h2.6M131.2,315.0v3M129.9,316.5h2.6M127.9,315.0v3M126.6,316.5h2.6M122.9,315.0v3M121.6,316.5h2.6M141.4,315.0v3M140.1,316.5h2.6M137.7,315.0v3M136.4,316.5h2.6M137.3,315.0v3M136.0,316.5h2.6M142.9,315.0v3M141.6,316.5h2.6M130.3,315.0v3M129.0,316.5h2.6M129.9,315.0v3M128.6,316.5h2.6M131.0,315.0v3M129.7,316.5h2.6M130.5,315.0v3M129.2,316.5h2.6M137.4,315.0v3M136.1,316.5h2.6M120.2,314.5v3M118.9,316.0h2.6M132.1,315.0v3M130.8,316.5h2.6" fill="none" stroke="#f8801c" stroke-width="0.7"/>
<path d="M45.9,248.4 L46.1,248.4 L46.1,248.7 L49.0,248.7 L49.0,251.3 L49.1,251.3 L49.1,251.7 L49.2,251.7 L49.2,252.4 L49.6,252.4 L49.6,254.6 L50.0,254.6 L50.0,255.7 L50.3,255.7 L50.3,256.1 L50.7,256.1 L50.7,256.9 L50.7,256.9 L50.7,258.4 L50.7,258.4 L50.7,260.3 L50.9,260.3 L50.9,260.7 L51.7,260.7 L51.7,260.7 L51.8,260.7 L51.8,260.9 L51.8,260.9 L51.8,261.8 L52.5,261.8 L52.5,262.7 L52.7,262.7 L52.7,263.4 L52.9,263.4 L52.9,265.0 L53.0,265.0 L53.0,265.4 L53.9,265.4 L53.9,269.1 L54.2,269.1 L54.2,269.1 L54.8,269.1 L54.8,271.5 L56.5,271.5 L56.5,274.2 L56.7,274.2 L56.7,274.4 L56.9,274.4 L56.9,275.2 L57.2,275.2 L57.2,275.7 L57.6,275.7 L57.6,275.8 L58.3,275.8 L58.3,279.1 L59.5,279.1 L59.5,279.2 L60.6,279.2 L60.6,279.4 L60.8,279.4 L60.8,281.4 L61.6,281.4 L61.6,282.0 L61.8,282.0 L61.8,282.5 L63.3,282.5 L63.3,284.0 L63.7,284.0 L63.7,284.7 L64.2,284.7 L64.2,285.8 L65.5,285.8 L65.5,287.3 L65.6,287.3 L65.6,288.7 L66.0,288.7 L66.0,289.2 L66.7,289.2 L66.7,291.3 L67.1,291.3 L67.1,292.6 L68.9,292.6 L68.9,292.7 L69.7,292.7 L69.7,293.9 L69.7,293.9 L69.7,295.6 L70.1,295.6 L70.1,295.9 L71.0,295.9 L71.0,296.4 L71.4,296.4 L71.4,296.5 L72.2,296.5 L72.2,297.5 L72.6,297.5 L72.6,302.0 L72.7,302.0 L72.7,302.2 L72.8,302.2 L72.8,302.8 L74.0,302.8 L74.0,303.5 L74.3,303.5 L74.3,304.3 L75.2,304.3 L75.2,304.9 L76.5,304.9 L76.5,306.5 L77.7,306.5 L77.7,306.8 L78.3,306.8 L78.3,307.5 L79.1,307.5 L79.1,308.2 L80.7,308.2 L80.7,309.2 L82.7,309.2 L82.7,309.7 L83.5,309.7 L83.5,310.1 L83.7,310.1 L83.7,310.2 L84.4,310.2 L84.4,310.4 L85.3,310.4 L85.3,313.2 L86.9,313.2 L86.9,314.1 L88.6,314.1 L88.6,314.3 L88.7,314.3 L88.7,314.5 L89.6,314.5 L89.6,315.1 L89.8,315.1 L89.8,316.2 L90.3,316.2 L90.3,317.8 L94.0,317.8 L94.0,319.3 L95.2,319.3 L95.2,319.3 L95.4,319.3 L95.4,319.4 L96.0,319.4 L96.0,320.4 L97.5,320.4 L97.5,320.8 L99.3,320.8 L99.3,321.8 L100.2,321.8 L100.2,321.9 L101.9,321.9 L101.9,322.7 L103.8,322.7 L103.8,323.0 L105.9,323.0 L105.9,323.1 L107.5,323.1 L107.5,323.7 L107.8,323.7 L107.8,324.0 L108.2,324.0 L108.2,324.2 L109.1,324.2 L109.1,324.6 L109.5,324.6 L109.5,325.6 L110.3,325.6 L110.3,326.0 L110.9,326.0 L110.9,327.0 L112.5,327.0 L112.5,327.6 L114.3,327.6 L114.3,328.2 L114.5,328.2 L114.5,329.7 L123.7,329.7 L123.7,330.2 L123.8,330.2 L123.8,330.4 L123.9,330.4 L123.9,330.5 L124.1,330.5 L124.1,331.1 L124.6,331.1 L124.6,331.3 L127.4,331.3 L127.4,331.9 L130.4,331.9 L130.4,331.9 L132.7,331.9 L132.7,332.6 L132.9,332.6 L132.9,333.2 L132.9,333.2 L132.9,334.9 L143.8,334.9 L143.8,334.9 L143.8,359.5 L147.1,359.5 L147.1,359.5" fill="none" stroke="#4bb04a" stroke-width="1.25" stroke-linejoin="miter"/>
<path d="M83.5,308.2v3M82.2,309.7h2.6M100.8,320.4v3M99.5,321.9h2.6M84.3,308.7v3M83.0,310.2h2.6M104.4,321.5v3M103.1,323.0h2.6M100.5,320.4v3M99.2,321.9h2.6M92.2,316.3v3M90.9,317.8h2.6M100.8,320.4v3M99.5,321.9h2.6M99.0,319.3v3M97.7,320.8h2.6M79.6,306.7v3M78.3,308.2h2.6M97.6,319.3v3M96.3,320.8h2.6M100.9,320.4v3M99.6,321.9h2.6M97.2,318.9v3M95.9,320.4h2.6M140.1,333.4v3M138.8,334.9h2.6M136.0,333.4v3M134.7,334.9h2.6M125.7,329.8v3M124.4,331.3h2.6M121.5,328.2v3M120.2,329.7h2.6M118.6,328.2v3M117.3,329.7h2.6M138.1,333.4v3M136.8,334.9h2.6M134.7,333.4v3M133.4,334.9h2.6M132.4,330.4v3M131.1,331.9h2.6M127.6,330.4v3M126.3,331.9h2.6M129.3,330.4v3M128.0,331.9h2.6M121.3,328.2v3M120.0,329.7h2.6M130.1,330.4v3M128.8,331.9h2.6M119.1,328.2v3M117.8,329.7h2.6M132.7,330.4v3M131.4,331.9h2.6M133.0,333.4v3M131.7,334.9h2.6M134.1,333.4v3M132.8,334.9h2.6M122.0,328.2v3M120.7,329.7h2.6M117.6,328.2v3M116.3,329.7h2.6M124.5,329.6v3M123.2,331.1h2.6M134.6,333.4v3M133.3,334.9h2.6M129.5,330.4v3M128.2,331.9h2.6M136.3,333.4v3M135.0,334.9h2.6M127.3,329.8v3M126.0,331.3h2.6M126.4,329.8v3M125.1,331.3h2.6M146.8,358.0v3M145.5,359.5h2.6M144.9,358.0v3M143.6,359.5h2.6" fill="none" stroke="#4bb04a" stroke-width="0.7"/>
<text x="101.00" y="255.90" font-size="6.93" fill="#0d0d0d">CDK5</text>
<path d="M101.6,265.2h8.2" stroke="#f8801c" stroke-width="1.25" fill="none"/>
<path d="M104.0,265.7 L105.7,263.2 L107.4,265.7Z" fill="#f8801c"/>
<text x="113.00" y="267.90" font-size="7.29" fill="#0d0d0d">High(127)</text>
<path d="M101.6,274.2h8.2" stroke="#4bb04a" stroke-width="1.25" fill="none"/>
<path d="M104.0,274.7 L105.7,272.2 L107.4,274.7Z" fill="#4bb04a"/>
<text x="113.00" y="276.90" font-size="7.19" fill="#0d0d0d">Low(213)</text>
<text x="47.00" y="354.80" font-size="7.97" fill="#0d0d0d">p = 0.03</text>
<text x="47.00" y="366.60" font-size="8.18" fill="#0d0d0d">Hazard Ratio = 0.72</text>
<text x="47.00" y="378.20" font-size="8.18" fill="#0d0d0d">95% CI: 0.53 − 0.97</text>
<line x1="208.70" y1="243.00" x2="208.70" y2="391.80" stroke="#222" stroke-width="0.9" />
<line x1="208.30" y1="391.40" x2="317.70" y2="391.40" stroke="#222" stroke-width="0.9" />
<line x1="206.50" y1="384.40" x2="208.70" y2="384.40" stroke="#222" stroke-width="0.7" />
<text x="193.62" y="386.56" font-size="6" fill="#1c1c1c">0.00</text>
<line x1="206.50" y1="350.40" x2="208.70" y2="350.40" stroke="#222" stroke-width="0.7" />
<text x="193.62" y="352.56" font-size="6" fill="#1c1c1c">0.25</text>
<line x1="206.50" y1="316.40" x2="208.70" y2="316.40" stroke="#222" stroke-width="0.7" />
<text x="193.62" y="318.56" font-size="6" fill="#1c1c1c">0.50</text>
<line x1="206.50" y1="282.40" x2="208.70" y2="282.40" stroke="#222" stroke-width="0.7" />
<text x="193.62" y="284.56" font-size="6" fill="#1c1c1c">0.75</text>
<line x1="206.50" y1="248.40" x2="208.70" y2="248.40" stroke="#222" stroke-width="0.7" />
<text x="193.62" y="250.56" font-size="6" fill="#1c1c1c">1.00</text>
<line x1="213.30" y1="391.40" x2="213.30" y2="393.60" stroke="#222" stroke-width="0.7" />
<text x="211.46" y="399.28" font-size="6.6" fill="#1c1c1c">0</text>
<line x1="233.10" y1="391.40" x2="233.10" y2="393.60" stroke="#222" stroke-width="0.7" />
<text x="229.43" y="399.28" font-size="6.6" fill="#1c1c1c">25</text>
<line x1="253.10" y1="391.40" x2="253.10" y2="393.60" stroke="#222" stroke-width="0.7" />
<text x="249.43" y="399.28" font-size="6.6" fill="#1c1c1c">50</text>
<line x1="273.00" y1="391.40" x2="273.00" y2="393.60" stroke="#222" stroke-width="0.7" />
<text x="269.33" y="399.28" font-size="6.6" fill="#1c1c1c">75</text>
<line x1="292.90" y1="391.40" x2="292.90" y2="393.60" stroke="#222" stroke-width="0.7" />
<text x="287.39" y="399.28" font-size="6.6" fill="#1c1c1c">100</text>
<line x1="312.80" y1="391.40" x2="312.80" y2="393.60" stroke="#222" stroke-width="0.7" />
<text x="307.29" y="399.28" font-size="6.6" fill="#1c1c1c">125</text>
<text x="224.02" y="407.87" font-size="8.12" fill="#0d0d0d">Time (Months, TCGA)</text>
<text transform="translate(189.70,316.40) rotate(-90)" x="-38.01" font-size="8.24" fill="#0d0d0d">Overall survival (OS)</text>
<path d="M213.0,248.4 L213.6,248.4 L213.6,248.8 L213.9,248.8 L213.9,251.8 L214.4,251.8 L214.4,251.9 L215.5,251.9 L215.5,254.0 L215.5,254.0 L215.5,255.6 L216.4,255.6 L216.4,257.2 L218.3,257.2 L218.3,260.7 L218.9,260.7 L218.9,260.7 L219.3,260.7 L219.3,261.3 L220.1,261.3 L220.1,266.0 L220.5,266.0 L220.5,266.7 L220.5,266.7 L220.5,267.5 L221.0,267.5 L221.0,268.2 L221.1,268.2 L221.1,268.4 L221.4,268.4 L221.4,270.8 L221.5,270.8 L221.5,274.1 L222.2,274.1 L222.2,276.8 L222.6,276.8 L222.6,277.5 L223.2,277.5 L223.2,278.2 L223.6,278.2 L223.6,278.5 L223.9,278.5 L223.9,279.2 L224.1,279.2 L224.1,281.0 L224.2,281.0 L224.2,281.7 L225.0,281.7 L225.0,282.8 L226.1,282.8 L226.1,284.4 L226.2,284.4 L226.2,287.2 L226.4,287.2 L226.4,287.5 L227.6,287.5 L227.6,291.4 L227.7,291.4 L227.7,291.4 L228.1,291.4 L228.1,293.6 L229.8,293.6 L229.8,294.2 L232.1,294.2 L232.1,296.5 L233.1,296.5 L233.1,296.7 L233.4,296.7 L233.4,301.0 L234.2,301.0 L234.2,303.2 L234.6,303.2 L234.6,303.6 L234.8,303.6 L234.8,304.0 L234.8,304.0 L234.8,304.3 L235.7,304.3 L235.7,306.2 L237.8,306.2 L237.8,307.0 L239.0,307.0 L239.0,307.6 L239.2,307.6 L239.2,308.1 L239.9,308.1 L239.9,312.3 L241.8,312.3 L241.8,313.4 L242.3,313.4 L242.3,313.5 L257.4,313.5 L257.4,313.5 L257.4,324.0 L268.6,324.0 L268.6,324.0 L268.6,344.1 L298.4,344.1 L298.4,344.1" fill="none" stroke="#f8801c" stroke-width="1.25" stroke-linejoin="miter"/>
<path d="M241.4,310.8v3M240.1,312.3h2.6M226.8,286.0v3M225.5,287.5h2.6M234.1,299.5v3M232.8,301.0h2.6M234.6,302.1v3M233.3,303.6h2.6M220.0,259.8v3M218.7,261.3h2.6M216.2,254.1v3M214.9,255.6h2.6M230.9,292.7v3M229.6,294.2h2.6M217.4,255.7v3M216.1,257.2h2.6M224.7,280.2v3M223.4,281.7h2.6M238.9,305.5v3M237.6,307.0h2.6M238.4,305.5v3M237.1,307.0h2.6M217.3,255.7v3M216.0,257.2h2.6M216.3,254.1v3M215.0,255.6h2.6M220.2,264.5v3M218.9,266.0h2.6M237.2,304.7v3M235.9,306.2h2.6M214.7,250.4v3M213.4,251.9h2.6M220.3,264.5v3M219.0,266.0h2.6M217.0,255.7v3M215.7,257.2h2.6M217.6,255.7v3M216.3,257.2h2.6M228.7,292.1v3M227.4,293.6h2.6M219.1,259.2v3M217.8,260.7h2.6M225.5,281.3v3M224.2,282.8h2.6M234.5,301.7v3M233.2,303.2h2.6M234.2,301.7v3M232.9,303.2h2.6M225.6,281.3v3M224.3,282.8h2.6M236.0,304.7v3M234.7,306.2h2.6M230.0,292.7v3M228.7,294.2h2.6M237.2,304.7v3M235.9,306.2h2.6M221.0,266.0v3M219.7,267.5h2.6M224.3,280.2v3M223.0,281.7h2.6M230.2,292.7v3M228.9,294.2h2.6M240.5,310.8v3M239.2,312.3h2.6M231.3,292.7v3M230.0,294.2h2.6M227.3,286.0v3M226.0,287.5h2.6M245.8,312.0v3M244.5,313.5h2.6M246.2,312.0v3M244.9,313.5h2.6M245.2,312.0v3M243.9,313.5h2.6M256.8,312.0v3M255.5,313.5h2.6M255.3,312.0v3M254.0,313.5h2.6M255.4,312.0v3M254.1,313.5h2.6M249.9,312.0v3M248.6,313.5h2.6M252.6,312.0v3M251.3,313.5h2.6M246.4,312.0v3M245.1,313.5h2.6M263.9,322.5v3M262.6,324.0h2.6M261.2,322.5v3M259.9,324.0h2.6M263.4,322.5v3M262.1,324.0h2.6M272.5,342.6v3M271.2,344.1h2.6M297.6,342.6v3M296.3,344.1h2.6" fill="none" stroke="#f8801c" stroke-width="0.7"/>
<path d="M213.0,248.4 L213.2,248.4 L213.2,248.9 L213.3,248.9 L213.3,251.3 L213.4,251.3 L213.4,254.2 L213.7,254.2 L213.7,255.1 L214.7,255.1 L214.7,255.7 L215.1,255.7 L215.1,256.6 L215.3,256.6 L215.3,257.5 L215.4,257.5 L215.4,262.5 L216.0,262.5 L216.0,262.7 L216.6,262.7 L216.6,263.5 L217.2,263.5 L217.2,264.1 L217.7,264.1 L217.7,265.0 L218.0,265.0 L218.0,265.9 L218.8,265.9 L218.8,269.2 L219.0,269.2 L219.0,270.2 L219.2,270.2 L219.2,270.8 L219.3,270.8 L219.3,272.9 L219.7,272.9 L219.7,274.1 L219.9,274.1 L219.9,279.0 L220.5,279.0 L220.5,279.2 L220.9,279.2 L220.9,280.1 L221.1,280.1 L221.1,280.9 L221.9,280.9 L221.9,281.2 L222.0,281.2 L222.0,284.1 L222.0,284.1 L222.0,284.5 L222.2,284.5 L222.2,285.9 L222.3,285.9 L222.3,288.2 L222.3,288.2 L222.3,288.7 L222.6,288.7 L222.6,289.8 L223.0,289.8 L223.0,290.3 L224.2,290.3 L224.2,291.1 L224.7,291.1 L224.7,294.2 L225.4,294.2 L225.4,294.9 L225.4,294.9 L225.4,295.4 L225.6,295.4 L225.6,296.9 L225.9,296.9 L225.9,298.0 L226.1,298.0 L226.1,300.7 L226.9,300.7 L226.9,302.9 L228.1,302.9 L228.1,304.8 L228.1,304.8 L228.1,305.9 L228.7,305.9 L228.7,306.3 L228.9,306.3 L228.9,309.8 L229.2,309.8 L229.2,311.8 L230.1,311.8 L230.1,313.4 L230.6,313.4 L230.6,313.9 L231.4,313.9 L231.4,314.3 L231.5,314.3 L231.5,316.2 L233.9,316.2 L233.9,319.5 L234.7,319.5 L234.7,320.8 L234.8,320.8 L234.8,321.0 L236.2,321.0 L236.2,323.9 L237.9,323.9 L237.9,324.8 L238.1,324.8 L238.1,325.7 L239.1,325.7 L239.1,325.9 L239.6,325.9 L239.6,326.2 L243.2,326.2 L243.2,326.9 L244.9,326.9 L244.9,327.0 L245.1,327.0 L245.1,327.2 L248.0,327.2 L248.0,327.9 L248.2,327.9 L248.2,332.7 L249.7,332.7 L249.7,333.0 L251.5,333.0 L251.5,333.6 L252.4,333.6 L252.4,335.7 L258.2,335.7 L258.2,336.1 L258.4,336.1 L258.4,336.5 L259.1,336.5 L259.1,337.3 L260.0,337.3 L260.0,337.4 L262.3,337.4 L262.3,341.5 L262.4,341.5 L262.4,344.1 L271.3,344.1 L271.3,344.1 L271.3,352.3 L312.6,352.3 L312.6,352.3" fill="none" stroke="#4bb04a" stroke-width="1.25" stroke-linejoin="miter" stroke-dasharray="2.2 1.7"/>
<path d="M239.0,324.2v3M237.7,325.7h2.6M236.7,322.4v3M235.4,323.9h2.6M233.0,314.7v3M231.7,316.2h2.6M219.9,272.6v3M218.6,274.1h2.6M222.6,287.2v3M221.3,288.7h2.6M232.6,314.7v3M231.3,316.2h2.6M235.0,319.5v3M233.7,321.0h2.6M214.4,253.6v3M213.1,255.1h2.6M218.3,264.4v3M217.0,265.9h2.6M237.3,322.4v3M236.0,323.9h2.6M217.1,262.0v3M215.8,263.5h2.6M231.0,312.4v3M229.7,313.9h2.6M222.6,287.2v3M221.3,288.7h2.6M230.8,312.4v3M229.5,313.9h2.6M236.4,322.4v3M235.1,323.9h2.6M229.1,308.3v3M227.8,309.8h2.6M224.2,288.8v3M222.9,290.3h2.6M222.4,287.2v3M221.1,288.7h2.6M230.2,311.9v3M228.9,313.4h2.6M230.3,311.9v3M229.0,313.4h2.6M224.6,289.6v3M223.3,291.1h2.6M226.1,299.2v3M224.8,300.7h2.6M227.9,301.4v3M226.6,302.9h2.6M220.7,277.7v3M219.4,279.2h2.6M218.7,264.4v3M217.4,265.9h2.6M228.8,304.8v3M227.5,306.3h2.6M216.6,261.2v3M215.3,262.7h2.6M229.5,310.3v3M228.2,311.8h2.6M234.8,319.5v3M233.5,321.0h2.6M235.5,319.5v3M234.2,321.0h2.6M220.6,277.7v3M219.3,279.2h2.6M224.8,292.7v3M223.5,294.2h2.6M238.0,323.3v3M236.7,324.8h2.6M223.1,288.8v3M221.8,290.3h2.6M261.8,335.9v3M260.5,337.4h2.6M244.4,325.4v3M243.1,326.9h2.6M258.5,335.0v3M257.2,336.5h2.6M240.9,324.7v3M239.6,326.2h2.6M254.7,334.2v3M253.4,335.7h2.6M257.7,334.2v3M256.4,335.7h2.6M252.0,332.1v3M250.7,333.6h2.6M253.9,334.2v3M252.6,335.7h2.6M260.1,335.9v3M258.8,337.4h2.6M261.9,335.9v3M260.6,337.4h2.6M264.4,342.6v3M263.1,344.1h2.6M267.2,342.6v3M265.9,344.1h2.6M263.3,342.6v3M262.0,344.1h2.6M266.0,342.6v3M264.7,344.1h2.6M275.1,350.8v3M273.8,352.3h2.6M307.1,350.8v3M305.8,352.3h2.6M310.1,350.8v3M308.8,352.3h2.6M306.6,350.8v3M305.3,352.3h2.6" fill="none" stroke="#4bb04a" stroke-width="0.7"/>
<text x="267.40" y="255.90" font-size="6.93" fill="#0d0d0d">CDK5</text>
<path d="M268.0,265.2h8.2" stroke="#f8801c" stroke-width="1.25" fill="none"/>
<path d="M270.4,265.7 L272.1,263.2 L273.8,265.7Z" fill="#f8801c"/>
<text x="280.00" y="267.90" font-size="6.96" fill="#0d0d0d">High (175)</text>
<path d="M268.0,274.2h8.2" stroke="#4bb04a" stroke-width="1.25" fill="none" stroke-dasharray="2.2 1.5"/>
<path d="M270.4,274.7 L272.1,272.2 L273.8,274.7Z" fill="#4bb04a"/>
<text x="280.00" y="276.90" font-size="6.97" fill="#0d0d0d">Low (200)</text>
<text x="215.80" y="360.80" font-size="7.86" fill="#0d0d0d">p = 0.046</text>
<text x="215.80" y="372.40" font-size="8.18" fill="#0d0d0d">Hazard Ratio = 0.81</text>
<text x="215.80" y="384.00" font-size="8.18" fill="#0d0d0d">95% CI: 0.62 − 1.1</text>
<line x1="39.40" y1="418.00" x2="39.40" y2="568.00" stroke="#222" stroke-width="0.9" />
<line x1="39.00" y1="567.60" x2="151.70" y2="567.60" stroke="#222" stroke-width="0.9" />
<line x1="37.20" y1="560.50" x2="39.40" y2="560.50" stroke="#222" stroke-width="0.7" />
<text x="24.32" y="562.66" font-size="6" fill="#1c1c1c">0.00</text>
<line x1="37.20" y1="526.23" x2="39.40" y2="526.23" stroke="#222" stroke-width="0.7" />
<text x="24.32" y="528.38" font-size="6" fill="#1c1c1c">0.25</text>
<line x1="37.20" y1="491.95" x2="39.40" y2="491.95" stroke="#222" stroke-width="0.7" />
<text x="24.32" y="494.11" font-size="6" fill="#1c1c1c">0.50</text>
<line x1="37.20" y1="457.67" x2="39.40" y2="457.67" stroke="#222" stroke-width="0.7" />
<text x="24.32" y="459.83" font-size="6" fill="#1c1c1c">0.75</text>
<line x1="37.20" y1="423.40" x2="39.40" y2="423.40" stroke="#222" stroke-width="0.7" />
<text x="24.32" y="425.56" font-size="6" fill="#1c1c1c">1.00</text>
<line x1="44.70" y1="567.60" x2="44.70" y2="569.80" stroke="#222" stroke-width="0.7" />
<text x="42.86" y="575.48" font-size="6.6" fill="#1c1c1c">0</text>
<line x1="69.80" y1="567.60" x2="69.80" y2="569.80" stroke="#222" stroke-width="0.7" />
<text x="66.13" y="575.48" font-size="6.6" fill="#1c1c1c">25</text>
<line x1="94.80" y1="567.60" x2="94.80" y2="569.80" stroke="#222" stroke-width="0.7" />
<text x="91.13" y="575.48" font-size="6.6" fill="#1c1c1c">50</text>
<line x1="119.80" y1="567.60" x2="119.80" y2="569.80" stroke="#222" stroke-width="0.7" />
<text x="116.13" y="575.48" font-size="6.6" fill="#1c1c1c">75</text>
<line x1="144.80" y1="567.60" x2="144.80" y2="569.80" stroke="#222" stroke-width="0.7" />
<text x="139.29" y="575.48" font-size="6.6" fill="#1c1c1c">100</text>
<text x="45.74" y="584.07" font-size="8.31" fill="#0d0d0d">Time (Months, GSE66229)</text>
<text transform="translate(20.80,491.95) rotate(-90)" x="-38.01" font-size="8.24" fill="#0d0d0d">Overall survival (OS)</text>
<path d="M45.9,422.7 L47.5,422.7 L47.5,424.3 L48.4,424.3 L48.4,424.9 L48.5,424.9 L48.5,425.7 L49.9,425.7 L49.9,426.7 L50.8,426.7 L50.8,428.4 L51.0,428.4 L51.0,429.0 L51.4,429.0 L51.4,429.2 L51.5,429.2 L51.5,429.8 L51.5,429.8 L51.5,431.7 L51.7,431.7 L51.7,432.4 L51.7,432.4 L51.7,432.4 L52.2,432.4 L52.2,433.5 L52.4,433.5 L52.4,433.6 L52.7,433.6 L52.7,434.2 L54.3,434.2 L54.3,434.2 L54.4,434.2 L54.4,437.6 L54.8,437.6 L54.8,439.7 L55.1,439.7 L55.1,440.8 L56.3,440.8 L56.3,442.2 L57.4,442.2 L57.4,442.8 L57.9,442.8 L57.9,445.4 L58.8,445.4 L58.8,446.8 L59.1,446.8 L59.1,447.1 L59.2,447.1 L59.2,447.3 L59.3,447.3 L59.3,447.5 L59.6,447.5 L59.6,447.5 L59.9,447.5 L59.9,449.3 L60.0,449.3 L60.0,449.5 L60.5,449.5 L60.5,451.0 L60.8,451.0 L60.8,451.4 L63.4,451.4 L63.4,453.3 L63.7,453.3 L63.7,453.4 L65.0,453.4 L65.0,453.5 L65.9,453.5 L65.9,456.1 L65.9,456.1 L65.9,457.7 L67.0,457.7 L67.0,459.0 L67.6,459.0 L67.6,459.3 L68.4,459.3 L68.4,459.7 L68.5,459.7 L68.5,460.9 L68.5,460.9 L68.5,461.7 L68.7,461.7 L68.7,463.5 L69.4,463.5 L69.4,463.6 L69.5,463.6 L69.5,464.8 L72.3,464.8 L72.3,466.5 L73.1,466.5 L73.1,466.7 L73.3,466.7 L73.3,468.0 L73.5,468.0 L73.5,468.4 L73.7,468.4 L73.7,468.6 L77.5,468.6 L77.5,469.0 L77.8,469.0 L77.8,469.4 L78.2,469.4 L78.2,470.0 L78.5,470.0 L78.5,470.1 L80.3,470.1 L80.3,470.3 L80.4,470.3 L80.4,470.4 L80.5,470.4 L80.5,470.5 L81.7,470.5 L81.7,471.5 L84.0,471.5 L84.0,472.2 L84.4,472.2 L84.4,472.2 L84.8,472.2 L84.8,472.4 L85.6,472.4 L85.6,472.5 L86.2,472.5 L86.2,474.4 L87.4,474.4 L87.4,474.5 L88.4,474.5 L88.4,474.7 L88.9,474.7 L88.9,476.4 L91.8,476.4 L91.8,476.9 L91.9,476.9 L91.9,477.3 L92.8,477.3 L92.8,477.5 L96.1,477.5 L96.1,477.5 L96.8,477.5 L96.8,477.8 L97.2,477.8 L97.2,478.0 L97.5,478.0 L97.5,478.0 L98.3,478.0 L98.3,478.7 L98.6,478.7 L98.6,478.9 L102.4,478.9 L102.4,479.3 L102.6,479.3 L102.6,479.7 L102.7,479.7 L102.7,480.0 L104.7,480.0 L104.7,480.1 L105.8,480.1 L105.8,480.7 L106.8,480.7 L106.8,481.7 L107.0,481.7 L107.0,481.8 L107.0,481.8 L107.0,481.8 L113.7,481.8 L113.7,482.3 L114.3,482.3 L114.3,482.7 L115.5,482.7 L115.5,483.1 L116.0,483.1 L116.0,483.1 L117.0,483.1 L117.0,483.2 L118.9,483.2 L118.9,483.2 L119.5,483.2 L119.5,483.2 L120.4,483.2 L120.4,483.5 L122.3,483.5 L122.3,483.5 L122.8,483.5 L122.8,484.2 L123.7,484.2 L123.7,484.9 L125.0,484.9 L125.0,485.0 L125.1,485.0 L125.1,485.1 L125.6,485.1 L125.6,485.9 L127.1,485.9 L127.1,486.0 L128.1,486.0 L128.1,487.3 L129.0,487.3 L129.0,487.6 L129.9,487.6 L129.9,487.6 L131.2,487.6 L131.2,488.0 L149.7,488.0 L149.7,488.0" fill="none" stroke="#f8801c" stroke-width="1.25" stroke-linejoin="miter"/>
<path d="M116.6,481.6v3M115.3,483.1h2.6M101.8,477.4v3M100.5,478.9h2.6M114.1,480.8v3M112.8,482.3h2.6M118.6,481.7v3M117.3,483.2h2.6M100.7,477.4v3M99.4,478.9h2.6M113.5,480.3v3M112.2,481.8h2.6M101.4,477.4v3M100.1,478.9h2.6M96.6,476.0v3M95.3,477.5h2.6M101.8,477.4v3M100.5,478.9h2.6M113.0,480.3v3M111.7,481.8h2.6M96.1,476.0v3M94.8,477.5h2.6M110.5,480.3v3M109.2,481.8h2.6M101.8,477.4v3M100.5,478.9h2.6M96.7,476.0v3M95.4,477.5h2.6M104.0,478.5v3M102.7,480.0h2.6M102.8,478.5v3M101.5,480.0h2.6M104.9,478.6v3M103.6,480.1h2.6M116.7,481.6v3M115.4,483.1h2.6M117.8,481.7v3M116.5,483.2h2.6M98.4,477.2v3M97.1,478.7h2.6M119.7,481.7v3M118.4,483.2h2.6M109.1,480.3v3M107.8,481.8h2.6M118.9,481.7v3M117.6,483.2h2.6M114.9,481.2v3M113.6,482.7h2.6M106.7,479.2v3M105.4,480.7h2.6M99.0,477.4v3M97.7,478.9h2.6M130.2,486.1v3M128.9,487.6h2.6M131.0,486.1v3M129.7,487.6h2.6M126.9,484.4v3M125.6,485.9h2.6M121.3,482.0v3M120.0,483.5h2.6M129.1,486.1v3M127.8,487.6h2.6M128.4,485.8v3M127.1,487.3h2.6M129.7,486.1v3M128.4,487.6h2.6M130.7,486.1v3M129.4,487.6h2.6M130.7,486.1v3M129.4,487.6h2.6M128.1,484.5v3M126.8,486.0h2.6M124.3,483.4v3M123.0,484.9h2.6M125.9,484.4v3M124.6,485.9h2.6M125.6,483.6v3M124.3,485.1h2.6M128.4,485.8v3M127.1,487.3h2.6M126.9,484.4v3M125.6,485.9h2.6M129.1,486.1v3M127.8,487.6h2.6M140.6,486.5v3M139.3,488.0h2.6M142.0,486.5v3M140.7,488.0h2.6M149.0,486.5v3M147.7,488.0h2.6M145.8,486.5v3M144.5,488.0h2.6M148.4,486.5v3M147.1,488.0h2.6M144.1,486.5v3M142.8,488.0h2.6M133.3,486.5v3M132.0,488.0h2.6M138.8,486.5v3M137.5,488.0h2.6M136.4,486.5v3M135.1,488.0h2.6M135.9,486.5v3M134.6,488.0h2.6M133.4,486.5v3M132.1,488.0h2.6M133.1,486.5v3M131.8,488.0h2.6M140.0,486.5v3M138.7,488.0h2.6M145.6,486.5v3M144.3,488.0h2.6M147.2,486.5v3M145.9,488.0h2.6M149.1,486.5v3M147.8,488.0h2.6M141.9,486.5v3M140.6,488.0h2.6M131.3,486.5v3M130.0,488.0h2.6M134.6,486.5v3M133.3,488.0h2.6M132.1,486.5v3M130.8,488.0h2.6M147.2,486.5v3M145.9,488.0h2.6M137.0,486.5v3M135.7,488.0h2.6M144.5,486.5v3M143.2,488.0h2.6M139.4,486.5v3M138.1,488.0h2.6M141.9,486.5v3M140.6,488.0h2.6M146.9,486.5v3M145.6,488.0h2.6M143.3,486.5v3M142.0,488.0h2.6M132.4,486.5v3M131.1,488.0h2.6M142.9,486.5v3M141.6,488.0h2.6M137.7,486.5v3M136.4,488.0h2.6" fill="none" stroke="#f8801c" stroke-width="0.7"/>
<path d="M45.9,422.7 L50.9,422.7 L50.9,422.7 L51.3,422.7 L51.3,422.7 L51.5,422.7 L51.5,424.8 L51.6,424.8 L51.6,428.0 L51.7,428.0 L51.7,430.7 L52.6,430.7 L52.6,433.0 L52.9,433.0 L52.9,437.2 L53.6,437.2 L53.6,437.4 L54.2,437.4 L54.2,439.1 L55.2,439.1 L55.2,441.0 L55.5,441.0 L55.5,441.8 L55.9,441.8 L55.9,444.6 L56.0,444.6 L56.0,447.2 L56.7,447.2 L56.7,449.1 L57.3,449.1 L57.3,450.2 L57.9,450.2 L57.9,454.4 L58.1,454.4 L58.1,458.5 L58.1,458.5 L58.1,458.6 L58.4,458.6 L58.4,460.9 L58.6,460.9 L58.6,463.3 L58.9,463.3 L58.9,465.8 L60.0,465.8 L60.0,468.8 L60.9,468.8 L60.9,469.2 L61.6,469.2 L61.6,471.4 L64.3,471.4 L64.3,472.6 L64.9,472.6 L64.9,475.6 L65.9,475.6 L65.9,477.9 L66.0,477.9 L66.0,478.4 L68.6,478.4 L68.6,481.3 L70.1,481.3 L70.1,482.6 L72.8,482.6 L72.8,482.8 L73.4,482.8 L73.4,485.0 L73.5,485.0 L73.5,489.3 L74.3,489.3 L74.3,489.9 L75.0,489.9 L75.0,493.2 L76.0,493.2 L76.0,496.0 L80.4,496.0 L80.4,497.8 L81.0,497.8 L81.0,499.4 L81.3,499.4 L81.3,501.9 L83.5,501.9 L83.5,503.2 L92.7,503.2 L92.7,503.5 L93.6,503.5 L93.6,506.6 L98.6,506.6 L98.6,506.6 L100.2,506.6 L100.2,507.0 L103.6,507.0 L103.6,508.6 L104.8,508.6 L104.8,508.6 L105.4,508.6 L105.4,509.2 L107.7,509.2 L107.7,509.3 L112.0,509.3 L112.0,509.4 L114.6,509.4 L114.6,509.5 L115.3,509.5 L115.3,514.4 L133.8,514.4 L133.8,514.8 L134.1,514.8 L134.1,522.5 L149.7,522.5 L149.7,522.5" fill="none" stroke="#4bb04a" stroke-width="1.25" stroke-linejoin="miter" stroke-dasharray="2.2 1.7"/>
<path d="M110.1,507.8v3M108.8,509.3h2.6M113.3,507.9v3M112.0,509.4h2.6M98.3,505.1v3M97.0,506.6h2.6M114.0,507.9v3M112.7,509.4h2.6M112.0,507.8v3M110.7,509.3h2.6M99.0,505.1v3M97.7,506.6h2.6M111.7,507.8v3M110.4,509.3h2.6M111.7,507.8v3M110.4,509.3h2.6M101.2,505.5v3M99.9,507.0h2.6M114.5,507.9v3M113.2,509.4h2.6M104.2,507.1v3M102.9,508.6h2.6M105.7,507.7v3M104.4,509.2h2.6M127.1,512.9v3M125.8,514.4h2.6M127.7,512.9v3M126.4,514.4h2.6M128.7,512.9v3M127.4,514.4h2.6M120.7,512.9v3M119.4,514.4h2.6M124.2,512.9v3M122.9,514.4h2.6M118.3,512.9v3M117.0,514.4h2.6M120.7,512.9v3M119.4,514.4h2.6M124.3,512.9v3M123.0,514.4h2.6M140.5,521.0v3M139.2,522.5h2.6M142.4,521.0v3M141.1,522.5h2.6M145.7,521.0v3M144.4,522.5h2.6M141.3,521.0v3M140.0,522.5h2.6" fill="none" stroke="#4bb04a" stroke-width="0.7"/>
<text x="100.00" y="430.70" font-size="6.93" fill="#0d0d0d">CDK5</text>
<path d="M100.5,440.2h8.2" stroke="#f8801c" stroke-width="1.25" fill="none"/>
<path d="M102.9,440.7 L104.6,438.2 L106.3,440.7Z" fill="#f8801c"/>
<text x="112.00" y="442.90" font-size="6.96" fill="#0d0d0d">High (225)</text>
<path d="M100.5,449.2h8.2" stroke="#4bb04a" stroke-width="1.25" fill="none" stroke-dasharray="2.2 1.5"/>
<path d="M102.9,449.7 L104.6,447.2 L106.3,449.7Z" fill="#4bb04a"/>
<text x="112.00" y="451.90" font-size="6.81" fill="#0d0d0d">Low (75)</text>
<text x="47.00" y="536.80" font-size="8.05" fill="#0d0d0d">p &lt; 0.001</text>
<text x="47.00" y="548.30" font-size="8.18" fill="#0d0d0d">Hazard Ratio = 0.52</text>
<text x="47.00" y="559.80" font-size="8.18" fill="#0d0d0d">95% CI: 0.17 − 1.6</text>
<line x1="208.70" y1="418.00" x2="208.70" y2="568.00" stroke="#222" stroke-width="0.9" />
<line x1="208.30" y1="567.60" x2="320.20" y2="567.60" stroke="#222" stroke-width="0.9" />
<line x1="206.50" y1="560.50" x2="208.70" y2="560.50" stroke="#222" stroke-width="0.7" />
<text x="193.62" y="562.66" font-size="6" fill="#1c1c1c">0.00</text>
<line x1="206.50" y1="526.23" x2="208.70" y2="526.23" stroke="#222" stroke-width="0.7" />
<text x="193.62" y="528.38" font-size="6" fill="#1c1c1c">0.25</text>
<line x1="206.50" y1="491.95" x2="208.70" y2="491.95" stroke="#222" stroke-width="0.7" />
<text x="193.62" y="494.11" font-size="6" fill="#1c1c1c">0.50</text>
<line x1="206.50" y1="457.67" x2="208.70" y2="457.67" stroke="#222" stroke-width="0.7" />
<text x="193.62" y="459.83" font-size="6" fill="#1c1c1c">0.75</text>
<line x1="206.50" y1="423.40" x2="208.70" y2="423.40" stroke="#222" stroke-width="0.7" />
<text x="193.62" y="425.56" font-size="6" fill="#1c1c1c">1.00</text>
<line x1="213.80" y1="567.60" x2="213.80" y2="569.80" stroke="#222" stroke-width="0.7" />
<text x="211.96" y="575.48" font-size="6.6" fill="#1c1c1c">0</text>
<line x1="246.80" y1="567.60" x2="246.80" y2="569.80" stroke="#222" stroke-width="0.7" />
<text x="243.13" y="575.48" font-size="6.6" fill="#1c1c1c">50</text>
<line x1="279.90" y1="567.60" x2="279.90" y2="569.80" stroke="#222" stroke-width="0.7" />
<text x="274.39" y="575.48" font-size="6.6" fill="#1c1c1c">100</text>
<line x1="313.00" y1="567.60" x2="313.00" y2="569.80" stroke="#222" stroke-width="0.7" />
<text x="307.49" y="575.48" font-size="6.6" fill="#1c1c1c">150</text>
<text x="215.28" y="584.07" font-size="8.22" fill="#0d0d0d">Time (Months, GSE26942)</text>
<text transform="translate(189.70,491.95) rotate(-90)" x="-38.01" font-size="8.24" fill="#0d0d0d">Overall survival (OS)</text>
<path d="M213.9,422.7 L214.4,422.7 L214.4,423.1 L215.0,423.1 L215.0,424.7 L216.0,424.7 L216.0,425.6 L217.2,425.6 L217.2,428.2 L217.3,428.2 L217.3,429.0 L217.4,429.0 L217.4,429.2 L217.4,429.2 L217.4,430.1 L218.7,430.1 L218.7,431.8 L218.9,431.8 L218.9,435.1 L220.6,435.1 L220.6,436.6 L221.9,436.6 L221.9,437.0 L222.5,437.0 L222.5,437.7 L222.7,437.7 L222.7,437.9 L223.7,437.9 L223.7,439.3 L223.8,439.3 L223.8,444.5 L223.9,444.5 L223.9,445.8 L224.5,445.8 L224.5,446.3 L224.9,446.3 L224.9,446.4 L225.9,446.4 L225.9,447.7 L226.1,447.7 L226.1,449.2 L226.7,449.2 L226.7,450.8 L227.3,450.8 L227.3,455.0 L228.5,455.0 L228.5,457.4 L228.6,457.4 L228.6,460.3 L229.1,460.3 L229.1,460.7 L229.2,460.7 L229.2,462.0 L229.7,462.0 L229.7,462.9 L230.1,462.9 L230.1,463.8 L231.4,463.8 L231.4,465.0 L232.6,465.0 L232.6,465.2 L234.5,465.2 L234.5,466.7 L235.6,466.7 L235.6,466.7 L236.4,466.7 L236.4,466.9 L237.7,466.9 L237.7,469.4 L239.4,469.4 L239.4,470.4 L240.6,470.4 L240.6,472.2 L244.4,472.2 L244.4,472.7 L245.7,472.7 L245.7,473.2 L246.5,473.2 L246.5,473.4 L247.3,473.4 L247.3,473.9 L249.2,473.9 L249.2,476.5 L249.7,476.5 L249.7,477.5 L250.8,477.5 L250.8,479.0 L251.5,479.0 L251.5,479.3 L269.9,479.3 L269.9,479.6 L270.3,479.6 L270.3,483.0 L307.6,483.0 L307.6,483.0" fill="none" stroke="#f8801c" stroke-width="1.25" stroke-linejoin="miter"/>
<path d="M223.6,436.4v3M222.3,437.9h2.6M235.3,465.2v3M234.0,466.7h2.6M249.0,472.4v3M247.7,473.9h2.6M238.0,467.9v3M236.7,469.4h2.6M231.9,463.5v3M230.6,465.0h2.6M225.8,444.9v3M224.5,446.4h2.6M219.8,433.6v3M218.5,435.1h2.6M250.0,476.0v3M248.7,477.5h2.6M241.4,470.7v3M240.1,472.2h2.6M223.8,437.8v3M222.5,439.3h2.6M235.8,465.2v3M234.5,466.7h2.6M239.8,468.9v3M238.5,470.4h2.6M246.7,471.9v3M245.4,473.4h2.6M224.8,444.8v3M223.5,446.3h2.6M226.0,446.2v3M224.7,447.7h2.6M221.6,435.1v3M220.3,436.6h2.6M235.6,465.2v3M234.3,466.7h2.6M247.3,471.9v3M246.0,473.4h2.6M240.7,470.7v3M239.4,472.2h2.6M219.9,433.6v3M218.6,435.1h2.6M228.0,453.5v3M226.7,455.0h2.6M217.7,428.6v3M216.4,430.1h2.6M220.6,435.1v3M219.3,436.6h2.6M232.3,463.5v3M231.0,465.0h2.6M220.4,433.6v3M219.1,435.1h2.6M224.5,444.3v3M223.2,445.8h2.6M223.5,436.4v3M222.2,437.9h2.6M229.8,461.4v3M228.5,462.9h2.6M245.0,471.2v3M243.7,472.7h2.6M223.2,436.4v3M221.9,437.9h2.6M236.5,465.4v3M235.2,466.9h2.6M229.0,458.8v3M227.7,460.3h2.6M225.2,444.9v3M223.9,446.4h2.6M225.4,444.9v3M224.1,446.4h2.6M265.8,477.8v3M264.5,479.3h2.6M267.0,477.8v3M265.7,479.3h2.6M264.9,477.8v3M263.6,479.3h2.6M267.9,477.8v3M266.6,479.3h2.6M264.8,477.8v3M263.5,479.3h2.6M256.7,477.8v3M255.4,479.3h2.6M255.4,477.8v3M254.1,479.3h2.6M261.8,477.8v3M260.5,479.3h2.6M262.6,477.8v3M261.3,479.3h2.6M265.9,477.8v3M264.6,479.3h2.6M268.2,477.8v3M266.9,479.3h2.6M266.2,477.8v3M264.9,479.3h2.6M269.5,477.8v3M268.2,479.3h2.6M263.8,477.8v3M262.5,479.3h2.6M296.0,481.5v3M294.7,483.0h2.6M300.3,481.5v3M299.0,483.0h2.6M289.2,481.5v3M287.9,483.0h2.6M300.2,481.5v3M298.9,483.0h2.6M303.0,481.5v3M301.7,483.0h2.6M289.8,481.5v3M288.5,483.0h2.6M283.6,481.5v3M282.3,483.0h2.6M284.9,481.5v3M283.6,483.0h2.6M293.4,481.5v3M292.1,483.0h2.6M291.7,481.5v3M290.4,483.0h2.6M289.1,481.5v3M287.8,483.0h2.6M285.2,481.5v3M283.9,483.0h2.6M298.0,481.5v3M296.7,483.0h2.6M296.1,481.5v3M294.8,483.0h2.6M305.3,481.5v3M304.0,483.0h2.6M306.2,481.5v3M304.9,483.0h2.6M271.5,481.5v3M270.2,483.0h2.6M285.7,481.5v3M284.4,483.0h2.6M298.2,481.5v3M296.9,483.0h2.6M290.6,481.5v3M289.3,483.0h2.6M293.6,481.5v3M292.3,483.0h2.6M280.4,481.5v3M279.1,483.0h2.6M285.1,481.5v3M283.8,483.0h2.6M302.5,481.5v3M301.2,483.0h2.6M295.5,481.5v3M294.2,483.0h2.6M303.2,481.5v3M301.9,483.0h2.6M304.6,481.5v3M303.3,483.0h2.6M304.7,481.5v3M303.4,483.0h2.6M302.7,481.5v3M301.4,483.0h2.6M304.5,481.5v3M303.2,483.0h2.6M303.8,481.5v3M302.5,483.0h2.6M305.0,481.5v3M303.7,483.0h2.6M286.1,481.5v3M284.8,483.0h2.6M285.9,481.5v3M284.6,483.0h2.6" fill="none" stroke="#f8801c" stroke-width="0.7"/>
<path d="M213.9,422.7 L214.5,422.7 L214.5,423.5 L216.3,423.5 L216.3,427.1 L216.4,427.1 L216.4,429.0 L216.6,429.0 L216.6,433.6 L216.9,433.6 L216.9,433.6 L217.0,433.6 L217.0,434.0 L218.9,434.0 L218.9,435.5 L218.9,435.5 L218.9,439.1 L219.1,439.1 L219.1,439.3 L219.2,439.3 L219.2,442.2 L219.3,442.2 L219.3,443.9 L220.3,443.9 L220.3,449.7 L220.6,449.7 L220.6,450.8 L220.8,450.8 L220.8,451.4 L221.0,451.4 L221.0,454.6 L221.2,454.6 L221.2,457.1 L222.2,457.1 L222.2,457.5 L222.2,457.5 L222.2,460.9 L223.0,460.9 L223.0,465.7 L223.4,465.7 L223.4,466.3 L223.9,466.3 L223.9,468.4 L224.7,468.4 L224.7,469.2 L224.7,475.1 L225.2,475.1 L225.2,475.3 L225.9,475.3 L225.9,475.5 L232.6,475.5 L232.6,475.9 L233.1,475.9 L233.1,475.9 L233.8,475.9 L233.8,477.3 L234.5,477.3 L234.5,479.5 L234.9,479.5 L234.9,483.6 L235.3,483.6 L235.3,484.8 L235.6,484.8 L235.6,486.0 L235.9,486.0 L235.9,490.2 L237.9,490.2 L237.9,493.0 L238.0,493.0 L238.0,493.9 L239.0,493.9 L239.0,494.3 L239.9,494.3 L239.9,496.9 L240.1,496.9 L240.1,497.0 L244.8,497.0 L244.8,499.4 L245.2,499.4 L245.2,503.6 L249.9,503.6 L249.9,504.0 L260.7,504.0 L260.7,504.4 L263.3,504.4 L263.3,507.3 L265.8,507.3 L265.8,508.6 L266.9,508.6 L266.9,509.1 L270.8,509.1 L270.8,510.7 L278.3,510.7 L278.3,511.1 L278.3,511.1 L278.3,512.5 L280.0,512.5 L280.0,515.3 L307.6,515.3 L307.6,515.3" fill="none" stroke="#4bb04a" stroke-width="1.25" stroke-linejoin="miter" stroke-dasharray="2.2 1.7"/>
<path d="M226.9,474.0v3M225.6,475.5h2.6M231.7,474.0v3M230.4,475.5h2.6M232.2,474.0v3M230.9,475.5h2.6M228.7,474.0v3M227.4,475.5h2.6M241.3,495.5v3M240.0,497.0h2.6M240.4,495.5v3M239.1,497.0h2.6M239.0,492.4v3M237.7,493.9h2.6M259.4,502.5v3M258.1,504.0h2.6M270.0,507.6v3M268.7,509.1h2.6M276.5,509.2v3M275.2,510.7h2.6M269.9,507.6v3M268.6,509.1h2.6M269.9,507.6v3M268.6,509.1h2.6M305.1,513.8v3M303.8,515.3h2.6M304.8,513.8v3M303.5,515.3h2.6M282.8,513.8v3M281.5,515.3h2.6M288.7,513.8v3M287.4,515.3h2.6M306.7,513.8v3M305.4,515.3h2.6M290.5,513.8v3M289.2,515.3h2.6M296.9,513.8v3M295.6,515.3h2.6M298.7,513.8v3M297.4,515.3h2.6M297.5,513.8v3M296.2,515.3h2.6" fill="none" stroke="#4bb04a" stroke-width="0.7"/>
<text x="268.00" y="430.70" font-size="6.93" fill="#0d0d0d">CDK5</text>
<path d="M268.5,440.2h8.2" stroke="#f8801c" stroke-width="1.25" fill="none"/>
<path d="M270.9,440.7 L272.6,438.2 L274.3,440.7Z" fill="#f8801c"/>
<text x="280.50" y="442.90" font-size="6.96" fill="#0d0d0d">High (143)</text>
<path d="M268.5,449.2h8.2" stroke="#4bb04a" stroke-width="1.25" fill="none" stroke-dasharray="2.2 1.5"/>
<path d="M270.9,449.7 L272.6,447.2 L274.3,449.7Z" fill="#4bb04a"/>
<text x="280.50" y="451.90" font-size="6.81" fill="#0d0d0d">Low (59)</text>
<text x="215.80" y="536.80" font-size="7.93" fill="#0d0d0d">p = 0.009</text>
<text x="215.80" y="548.30" font-size="8.18" fill="#0d0d0d">Hazard Ratio = 0.67</text>
<text x="215.80" y="559.80" font-size="8.18" fill="#0d0d0d">95% CI: 0.47 − 0.95</text>
<text x="342.60" y="358.80" font-size="13" font-weight="bold" fill="#000">(D)</text>
<text x="368.00" y="352.60" font-size="9.37" font-weight="bold" fill="#000">CDK5 High expression</text>
<text x="514.26" y="352.60" font-size="9.42" font-weight="bold" fill="#000">CDK5 Low expression</text>
<line x1="374.20" y1="361.50" x2="374.20" y2="496.10" stroke="#222" stroke-width="0.9" />
<line x1="373.80" y1="495.70" x2="475.20" y2="495.70" stroke="#222" stroke-width="0.9" />
<line x1="372.00" y1="489.30" x2="374.20" y2="489.30" stroke="#222" stroke-width="0.7" />
<text x="360.68" y="491.17" font-size="5.2" fill="#1c1c1c">0.00</text>
<line x1="372.00" y1="458.48" x2="374.20" y2="458.48" stroke="#222" stroke-width="0.7" />
<text x="360.68" y="460.35" font-size="5.2" fill="#1c1c1c">0.25</text>
<line x1="372.00" y1="427.65" x2="374.20" y2="427.65" stroke="#222" stroke-width="0.7" />
<text x="360.68" y="429.52" font-size="5.2" fill="#1c1c1c">0.50</text>
<line x1="372.00" y1="396.82" x2="374.20" y2="396.82" stroke="#222" stroke-width="0.7" />
<text x="360.68" y="398.70" font-size="5.2" fill="#1c1c1c">0.75</text>
<line x1="372.00" y1="366.00" x2="374.20" y2="366.00" stroke="#222" stroke-width="0.7" />
<text x="360.68" y="367.87" font-size="5.2" fill="#1c1c1c">1.00</text>
<line x1="378.60" y1="495.70" x2="378.60" y2="497.90" stroke="#222" stroke-width="0.7" />
<text x="376.96" y="503.07" font-size="5.9" fill="#1c1c1c">0</text>
<line x1="401.50" y1="495.70" x2="401.50" y2="497.90" stroke="#222" stroke-width="0.7" />
<text x="398.22" y="503.07" font-size="5.9" fill="#1c1c1c">30</text>
<line x1="424.40" y1="495.70" x2="424.40" y2="497.90" stroke="#222" stroke-width="0.7" />
<text x="421.12" y="503.07" font-size="5.9" fill="#1c1c1c">60</text>
<line x1="447.30" y1="495.70" x2="447.30" y2="497.90" stroke="#222" stroke-width="0.7" />
<text x="444.02" y="503.07" font-size="5.9" fill="#1c1c1c">90</text>
<line x1="470.20" y1="495.70" x2="470.20" y2="497.90" stroke="#222" stroke-width="0.7" />
<text x="465.28" y="503.07" font-size="5.9" fill="#1c1c1c">120</text>
<text x="400.44" y="510.40" font-size="7.57" fill="#0d0d0d">Time (Months)</text>
<text transform="translate(356.60,427.00) rotate(-90)" x="-34.73" font-size="7.53" fill="#0d0d0d">Overall survival (OS)</text>
<path d="M379.0,365.9 L384.9,365.9 L384.9,365.9 L385.2,365.9 L385.2,366.7 L385.3,366.7 L385.3,370.9 L385.7,370.9 L385.7,371.7 L385.7,371.7 L385.7,371.8 L388.7,371.8 L388.7,372.5 L391.6,372.5 L391.6,372.6 L392.5,372.6 L392.5,372.9 L392.6,372.9 L392.6,375.4 L393.3,375.4 L393.3,380.1 L395.8,380.1 L395.8,381.8 L396.2,381.8 L396.2,383.0 L396.4,383.0 L396.4,387.2 L396.6,387.2 L396.6,389.3 L397.4,389.3 L397.4,389.5 L400.0,389.5 L400.0,391.0 L400.8,391.0 L400.8,394.0 L401.6,394.0 L401.6,394.3 L404.8,394.3 L404.8,394.5 L406.6,394.5 L406.6,394.8 L408.1,394.8 L408.1,395.6 L410.0,395.6 L410.0,396.0 L413.4,396.0 L413.4,398.8 L415.0,398.8 L415.0,399.8 L434.3,399.8 L434.3,399.8 L436.8,399.8 L436.8,401.9 L446.0,401.9 L446.0,402.2 L447.7,402.2 L447.7,404.9 L461.1,404.9 L461.1,404.9" fill="none" stroke="#f8801c" stroke-width="1.15" stroke-linejoin="miter"/>
<path d="M424.5,398.3v3M423.2,399.8h2.6M427.3,398.3v3M426.0,399.8h2.6M428.8,398.3v3M427.5,399.8h2.6M437.9,400.4v3M436.6,401.9h2.6M441.5,400.4v3M440.2,401.9h2.6M445.6,400.4v3M444.3,401.9h2.6M442.1,400.4v3M440.8,401.9h2.6M454.7,403.4v3M453.4,404.9h2.6M458.3,403.4v3M457.0,404.9h2.6M453.9,403.4v3M452.6,404.9h2.6M451.6,403.4v3M450.3,404.9h2.6M458.9,403.4v3M457.6,404.9h2.6M450.2,403.4v3M448.9,404.9h2.6M459.6,403.4v3M458.3,404.9h2.6M459.5,403.4v3M458.2,404.9h2.6M455.1,403.4v3M453.8,404.9h2.6M454.7,403.4v3M453.4,404.9h2.6M448.9,403.4v3M447.6,404.9h2.6M450.3,403.4v3M449.0,404.9h2.6" fill="none" stroke="#f8801c" stroke-width="0.7"/>
<path d="M379.0,365.9 L381.4,365.9 L381.4,367.0 L383.2,367.0 L383.2,368.4 L383.6,368.4 L383.6,369.7 L384.2,369.7 L384.2,373.8 L384.6,373.8 L384.6,375.2 L384.9,375.2 L384.9,376.7 L385.7,376.7 L385.7,377.1 L386.0,377.1 L386.0,384.7 L386.6,384.7 L386.6,385.1 L388.2,385.1 L388.2,385.1 L391.8,385.1 L391.8,387.6 L392.4,387.6 L392.4,389.3 L393.4,389.3 L393.4,393.5 L393.7,393.5 L393.7,395.4 L394.7,395.4 L394.7,395.6 L395.8,395.6 L395.8,398.5 L396.2,398.5 L396.2,398.5 L398.3,398.5 L398.3,398.9 L399.0,398.9 L399.0,399.9 L399.0,399.9 L399.0,404.7 L399.1,404.7 L399.1,408.6 L400.9,408.6 L400.9,409.8 L404.7,409.8 L404.7,411.6 L405.0,411.6 L405.0,411.9 L406.3,411.9 L406.3,412.3 L407.3,412.3 L407.3,414.8 L409.2,414.8 L409.2,418.6 L411.6,418.6 L411.6,419.5 L412.7,419.5 L412.7,419.9 L413.3,419.9 L413.3,424.5 L413.5,424.5 L413.5,427.8 L415.4,427.8 L415.4,430.0 L418.4,430.0 L418.4,431.2 L421.7,431.2 L421.7,431.8 L423.4,431.8 L423.4,432.3 L425.5,432.3 L425.5,433.0 L425.9,433.0 L425.9,437.0 L428.1,437.0 L428.1,437.2 L429.2,437.2 L429.2,438.0 L431.8,438.0 L431.8,438.7 L435.0,438.7 L435.0,439.0 L435.9,439.0 L435.9,442.0 L436.6,442.0 L436.6,443.4 L440.1,443.4 L440.1,443.7 L441.1,443.7 L441.1,445.7 L441.2,445.7 L441.2,445.9 L442.5,445.9 L442.5,448.6 L442.6,448.6 L442.6,451.7 L471.1,451.7 L471.1,451.7" fill="none" stroke="#4bb04a" stroke-width="1.15" stroke-linejoin="miter"/>
<path d="M422.7,430.3v3M421.4,431.8h2.6M420.6,429.7v3M419.3,431.2h2.6M422.3,430.3v3M421.0,431.8h2.6M434.0,437.2v3M432.7,438.7h2.6M435.9,437.5v3M434.6,439.0h2.6M434.2,437.2v3M432.9,438.7h2.6M436.3,440.5v3M435.0,442.0h2.6M448.8,450.2v3M447.5,451.7h2.6M457.0,450.2v3M455.7,451.7h2.6M454.6,450.2v3M453.3,451.7h2.6M448.0,450.2v3M446.7,451.7h2.6M466.6,450.2v3M465.3,451.7h2.6M468.9,450.2v3M467.6,451.7h2.6M450.6,450.2v3M449.3,451.7h2.6M462.2,450.2v3M460.9,451.7h2.6" fill="none" stroke="#4bb04a" stroke-width="0.7"/>
<text x="425.00" y="373.40" font-size="6.48" fill="#0d0d0d">Chemotherapy</text>
<path d="M425.7,380.8h7.6" stroke="#f8801c" stroke-width="1.25" fill="none"/>
<path d="M427.8,381.3 L429.5,378.8 L431.2,381.3Z" fill="#f8801c"/>
<text x="436.00" y="383.10" font-size="6.61" fill="#0d0d0d">ACT(58)</text>
<path d="M425.7,389.4h7.6" stroke="#4bb04a" stroke-width="1.25" fill="none"/>
<path d="M427.8,389.9 L429.5,387.4 L431.2,389.9Z" fill="#4bb04a"/>
<text x="436.00" y="391.70" font-size="6.73" fill="#0d0d0d">No ACT (54)</text>
<text x="380.70" y="462.40" font-size="7.29" fill="#0d0d0d">p &lt; 0.001</text>
<text x="380.70" y="472.90" font-size="7.4" fill="#0d0d0d">Hazard Ratio = 0.36</text>
<text x="380.70" y="483.60" font-size="7.4" fill="#0d0d0d">95% CI: 0.2 − 0.64</text>
<line x1="514.40" y1="363.50" x2="514.40" y2="498.00" stroke="#222" stroke-width="0.9" />
<line x1="514.00" y1="497.60" x2="615.20" y2="497.60" stroke="#222" stroke-width="0.9" />
<line x1="512.20" y1="491.20" x2="514.40" y2="491.20" stroke="#222" stroke-width="0.7" />
<text x="500.88" y="493.07" font-size="5.2" fill="#1c1c1c">0.00</text>
<line x1="512.20" y1="460.52" x2="514.40" y2="460.52" stroke="#222" stroke-width="0.7" />
<text x="500.88" y="462.40" font-size="5.2" fill="#1c1c1c">0.25</text>
<line x1="512.20" y1="429.85" x2="514.40" y2="429.85" stroke="#222" stroke-width="0.7" />
<text x="500.88" y="431.72" font-size="5.2" fill="#1c1c1c">0.50</text>
<line x1="512.20" y1="399.18" x2="514.40" y2="399.18" stroke="#222" stroke-width="0.7" />
<text x="500.88" y="401.05" font-size="5.2" fill="#1c1c1c">0.75</text>
<line x1="512.20" y1="368.50" x2="514.40" y2="368.50" stroke="#222" stroke-width="0.7" />
<text x="500.88" y="370.37" font-size="5.2" fill="#1c1c1c">1.00</text>
<line x1="518.30" y1="497.60" x2="518.30" y2="499.80" stroke="#222" stroke-width="0.7" />
<text x="516.66" y="504.97" font-size="5.9" fill="#1c1c1c">0</text>
<line x1="541.30" y1="497.60" x2="541.30" y2="499.80" stroke="#222" stroke-width="0.7" />
<text x="538.02" y="504.97" font-size="5.9" fill="#1c1c1c">30</text>
<line x1="564.30" y1="497.60" x2="564.30" y2="499.80" stroke="#222" stroke-width="0.7" />
<text x="561.02" y="504.97" font-size="5.9" fill="#1c1c1c">60</text>
<line x1="587.30" y1="497.60" x2="587.30" y2="499.80" stroke="#222" stroke-width="0.7" />
<text x="584.02" y="504.97" font-size="5.9" fill="#1c1c1c">90</text>
<line x1="610.30" y1="497.60" x2="610.30" y2="499.80" stroke="#222" stroke-width="0.7" />
<text x="605.38" y="504.97" font-size="5.9" fill="#1c1c1c">120</text>
<text x="540.13" y="512.30" font-size="7.54" fill="#0d0d0d">Time (Months)</text>
<text transform="translate(497.00,429.50) rotate(-90)" x="-34.73" font-size="7.53" fill="#0d0d0d">Overall survival (OS)</text>
<path d="M519.0,368.4 L520.9,368.4 L520.9,369.7 L521.4,369.7 L521.4,371.0 L523.2,371.0 L523.2,371.2 L523.7,371.2 L523.7,371.6 L524.5,371.6 L524.5,372.0 L524.5,372.0 L524.5,372.1 L524.7,372.1 L524.7,374.0 L524.8,374.0 L524.8,377.6 L525.2,377.6 L525.2,378.6 L525.7,378.6 L525.7,380.4 L527.8,380.4 L527.8,380.5 L527.9,380.5 L527.9,380.8 L529.0,380.8 L529.0,381.5 L529.0,381.5 L529.0,383.9 L529.1,383.9 L529.1,387.1 L529.3,387.1 L529.3,389.3 L530.1,389.3 L530.1,389.4 L530.3,389.4 L530.3,391.3 L534.1,391.3 L534.1,392.1 L537.4,392.1 L537.4,393.5 L537.6,393.5 L537.6,394.4 L538.4,394.4 L538.4,397.2 L538.5,397.2 L538.5,397.2 L540.8,397.2 L540.8,397.2 L541.4,397.2 L541.4,397.7 L541.6,397.7 L541.6,399.1 L542.6,399.1 L542.6,399.9 L542.9,399.9 L542.9,402.3 L543.3,402.3 L543.3,403.9 L543.3,403.9 L543.3,405.5 L544.6,405.5 L544.6,406.9 L546.1,406.9 L546.1,407.4 L546.1,407.4 L546.1,410.7 L546.5,410.7 L546.5,411.3 L546.6,411.3 L546.6,411.4 L547.0,411.4 L547.0,411.8 L549.8,411.8 L549.8,412.5 L550.6,412.5 L550.6,412.8 L551.7,412.8 L551.7,415.6 L554.9,415.6 L554.9,416.1 L555.7,416.1 L555.7,416.6 L555.9,416.6 L555.9,419.8 L556.3,419.8 L556.3,420.4 L556.6,420.4 L556.6,421.3 L557.1,421.3 L557.1,421.6 L561.2,421.6 L561.2,422.2 L562.6,422.2 L562.6,423.1 L563.0,423.1 L563.0,423.6 L564.7,423.6 L564.7,424.9 L565.9,424.9 L565.9,427.3 L567.3,427.3 L567.3,427.8 L567.7,427.8 L567.7,428.1 L571.3,428.1 L571.3,428.3 L572.4,428.3 L572.4,429.5 L572.6,429.5 L572.6,429.8 L573.2,429.8 L573.2,430.5 L576.4,430.5 L576.4,430.7 L577.6,430.7 L577.6,430.9 L578.4,430.9 L578.4,432.4 L578.5,432.4 L578.5,433.2 L578.7,433.2 L578.7,434.8 L578.8,434.8 L578.8,435.7 L579.5,435.7 L579.5,436.2 L580.4,436.2 L580.4,437.2 L581.8,437.2 L581.8,439.8 L588.5,439.8 L588.5,440.4 L590.0,440.4 L590.0,440.6 L592.6,440.6 L592.6,440.6 L593.3,440.6 L593.3,440.7 L595.8,440.7 L595.8,441.3 L596.6,441.3 L596.6,441.4 L596.9,441.4 L596.9,441.5 L598.1,441.5 L598.1,443.9 L598.5,443.9 L598.5,444.0 L598.5,449.9 L604.4,449.9 L604.4,449.9" fill="none" stroke="#f8801c" stroke-width="1.15" stroke-linejoin="miter"/>
<path d="M575.9,429.0v3M574.6,430.5h2.6M561.1,420.1v3M559.8,421.6h2.6M578.6,431.7v3M577.3,433.2h2.6M567.9,426.6v3M566.6,428.1h2.6M565.5,423.4v3M564.2,424.9h2.6M570.8,426.6v3M569.5,428.1h2.6M560.1,420.1v3M558.8,421.6h2.6M560.6,420.1v3M559.3,421.6h2.6M566.1,425.8v3M564.8,427.3h2.6M561.5,420.7v3M560.2,422.2h2.6M572.1,426.8v3M570.8,428.3h2.6M566.0,425.8v3M564.7,427.3h2.6M588.1,438.3v3M586.8,439.8h2.6M586.4,438.3v3M585.1,439.8h2.6M585.5,438.3v3M584.2,439.8h2.6M593.5,439.2v3M592.2,440.7h2.6M596.4,439.8v3M595.1,441.3h2.6M587.6,438.3v3M586.3,439.8h2.6M594.9,439.2v3M593.6,440.7h2.6M587.0,438.3v3M585.7,439.8h2.6M594.2,439.2v3M592.9,440.7h2.6M585.8,438.3v3M584.5,439.8h2.6M603.1,448.4v3M601.8,449.9h2.6" fill="none" stroke="#f8801c" stroke-width="0.7"/>
<path d="M519.0,368.4 L521.0,368.4 L521.0,368.5 L521.8,368.5 L521.8,369.2 L521.8,369.2 L521.8,370.4 L523.2,370.4 L523.2,373.7 L523.6,373.7 L523.6,374.3 L523.9,374.3 L523.9,374.5 L524.6,374.5 L524.6,375.3 L524.7,375.3 L524.7,378.1 L524.9,378.1 L524.9,380.6 L524.9,380.6 L524.9,382.0 L525.2,382.0 L525.2,382.9 L525.7,382.9 L525.7,383.8 L525.7,383.8 L525.7,384.5 L525.9,384.5 L525.9,387.6 L526.5,387.6 L526.5,390.7 L526.7,390.7 L526.7,390.9 L527.8,390.9 L527.8,391.2 L528.2,391.2 L528.2,391.3 L528.6,391.3 L528.6,391.7 L528.7,391.7 L528.7,392.7 L529.3,392.7 L529.3,392.7 L529.6,392.7 L529.6,397.2 L530.3,397.2 L530.3,398.2 L531.6,398.2 L531.6,399.7 L531.7,399.7 L531.7,403.0 L532.9,403.0 L532.9,403.0 L532.9,403.0 L532.9,405.8 L533.0,405.8 L533.0,406.4 L533.2,406.4 L533.2,408.6 L533.6,408.6 L533.6,408.7 L534.9,408.7 L534.9,408.9 L535.4,408.9 L535.4,409.2 L535.9,409.2 L535.9,411.1 L536.4,411.1 L536.4,413.2 L537.0,413.2 L537.0,413.2 L537.7,413.2 L537.7,413.9 L537.8,413.9 L537.8,414.1 L538.3,414.1 L538.3,417.1 L539.1,417.1 L539.1,418.9 L539.5,418.9 L539.5,419.1 L540.7,419.1 L540.7,420.1 L541.4,420.1 L541.4,420.8 L542.3,420.8 L542.3,423.6 L543.3,423.6 L543.3,425.6 L544.7,425.6 L544.7,425.8 L546.0,425.8 L546.0,427.4 L547.5,427.4 L547.5,429.5 L549.1,429.5 L549.1,429.6 L549.6,429.6 L549.6,429.7 L551.1,429.7 L551.1,429.8 L551.1,429.8 L551.1,430.2 L554.7,430.2 L554.7,430.3 L555.0,430.3 L555.0,430.3 L558.1,430.3 L558.1,430.3 L558.8,430.3 L558.8,431.3 L559.2,431.3 L559.2,434.0 L559.3,434.0 L559.3,434.0 L559.6,434.0 L559.6,434.5 L561.4,434.5 L561.4,434.9 L562.3,434.9 L562.3,435.3 L564.9,435.3 L564.9,435.7 L566.3,435.7 L566.3,435.7 L568.4,435.7 L568.4,435.7 L569.5,435.7 L569.5,436.5 L569.8,436.5 L569.8,437.7 L570.1,437.7 L570.1,439.4 L572.1,439.4 L572.1,439.6 L573.7,439.6 L573.7,439.8 L574.8,439.8 L574.8,439.8 L576.8,439.8 L576.8,440.5 L577.2,440.5 L577.2,440.6 L577.6,440.6 L577.6,440.7 L589.3,440.7 L589.3,441.0 L591.1,441.0 L591.1,441.3 L591.7,441.3 L591.7,441.6 L593.6,441.6 L593.6,442.5 L595.1,442.5 L595.1,442.5 L595.2,442.5 L595.2,443.0 L597.7,443.0 L597.7,443.2 L611.1,443.2 L611.1,443.2" fill="none" stroke="#4bb04a" stroke-width="1.15" stroke-linejoin="miter"/>
<path d="M558.6,428.8v3M557.3,430.3h2.6M562.7,433.8v3M561.4,435.3h2.6M561.6,433.4v3M560.3,434.9h2.6M563.4,433.8v3M562.1,435.3h2.6M567.8,434.2v3M566.5,435.7h2.6M590.5,439.5v3M589.2,441.0h2.6M575.2,438.3v3M573.9,439.8h2.6M576.7,438.3v3M575.4,439.8h2.6M582.8,439.2v3M581.5,440.7h2.6M581.1,439.2v3M579.8,440.7h2.6M596.0,441.5v3M594.7,443.0h2.6M589.9,439.5v3M588.6,441.0h2.6M583.2,439.2v3M581.9,440.7h2.6M580.1,439.2v3M578.8,440.7h2.6M576.9,439.0v3M575.6,440.5h2.6M586.7,439.2v3M585.4,440.7h2.6M595.0,441.0v3M593.7,442.5h2.6M600.2,441.7v3M598.9,443.2h2.6M603.9,441.7v3M602.6,443.2h2.6M602.5,441.7v3M601.2,443.2h2.6M605.9,441.7v3M604.6,443.2h2.6M601.3,441.7v3M600.0,443.2h2.6M598.8,441.7v3M597.5,443.2h2.6M606.8,441.7v3M605.5,443.2h2.6M602.0,441.7v3M600.7,443.2h2.6M606.4,441.7v3M605.1,443.2h2.6M609.8,441.7v3M608.5,443.2h2.6M605.6,441.7v3M604.3,443.2h2.6M609.9,441.7v3M608.6,443.2h2.6M608.4,441.7v3M607.1,443.2h2.6M598.8,441.7v3M597.5,443.2h2.6" fill="none" stroke="#4bb04a" stroke-width="0.7"/>
<text x="565.00" y="375.50" font-size="6.48" fill="#0d0d0d">Chemotherapy</text>
<path d="M565.7,383.0h7.6" stroke="#f8801c" stroke-width="1.25" fill="none"/>
<path d="M567.8,383.5 L569.5,381.0 L571.2,383.5Z" fill="#f8801c"/>
<text x="576.30" y="385.30" font-size="6.51" fill="#0d0d0d">ACT(105)</text>
<path d="M565.7,391.6h7.6" stroke="#4bb04a" stroke-width="1.25" fill="none"/>
<path d="M567.8,392.1 L569.5,389.6 L571.2,392.1Z" fill="#4bb04a"/>
<text x="576.30" y="393.90" font-size="6.73" fill="#0d0d0d">No ACT (87)</text>
<text x="521.00" y="464.50" font-size="7.26" fill="#0d0d0d">p = 0.419</text>
<text x="521.00" y="475.20" font-size="7.4" fill="#0d0d0d">Hazard Ratio = 0.86</text>
<text x="521.00" y="485.90" font-size="7.4" fill="#0d0d0d">95% CI: 0.59 − 1.2</text>
<text x="7.60" y="598.60" font-size="13" font-weight="bold" fill="#000">(E)</text>
<text x="187.43" y="605.80" font-size="9.41" font-weight="bold" fill="#000">HR(95%CI) p value</text>
<line x1="168.50" y1="600.80" x2="168.50" y2="722.00" stroke="#333" stroke-width="0.8" stroke-dasharray="4.6 2.9"/>
<text x="49.21" y="632.30" font-size="6.87" fill="#0d0d0d">CDK5 High expression</text>
<text x="65.23" y="640.60" font-size="6.94" fill="#0d0d0d">(ACT vs No ACT)</text>
<line x1="133.63" y1="633.80" x2="151.67" y2="633.80" stroke="#f3a6a0" stroke-width="0.9" stroke-dasharray="2.4 1.6"/>
<path d="M135.9,633.8 L139.9,629.7 L143.9,633.8 L139.9,637.9Z" fill="#e3201f"/>
<text x="190.00" y="635.90" font-size="6.37" fill="#0d0d0d">0.32(0.17−0.60) &lt;0.001</text>
<text x="50.23" y="688.20" font-size="6.92" fill="#0d0d0d">CDK5 Low expression</text>
<text x="65.23" y="696.50" font-size="6.94" fill="#0d0d0d">(ACT vs No ACT)</text>
<line x1="147.47" y1="689.30" x2="172.23" y2="689.30" stroke="#9cc0e6" stroke-width="0.9" stroke-dasharray="2.4 1.6"/>
<path d="M153.5,689.3 L157.5,685.1 L161.5,689.3 L157.5,693.5Z" fill="#3f7ec4"/>
<text x="190.00" y="691.30" font-size="6.44" fill="#0d0d0d">0.74(0.50−1.09) 0.128</text>
<line x1="120.20" y1="722.10" x2="258.80" y2="722.10" stroke="#1a1a1a" stroke-width="1.0" />
<line x1="126.50" y1="722.10" x2="126.50" y2="724.00" stroke="#1a1a1a" stroke-width="0.7" />
<text x="124.61" y="729.40" font-size="6.8" fill="#0d0d0d">0</text>
<line x1="168.45" y1="722.10" x2="168.45" y2="724.00" stroke="#1a1a1a" stroke-width="0.7" />
<text x="166.56" y="729.40" font-size="6.8" fill="#0d0d0d">1</text>
<line x1="210.40" y1="722.10" x2="210.40" y2="724.00" stroke="#1a1a1a" stroke-width="0.7" />
<text x="208.51" y="729.40" font-size="6.8" fill="#0d0d0d">2</text>
<line x1="252.35" y1="722.10" x2="252.35" y2="724.00" stroke="#1a1a1a" stroke-width="0.7" />
<text x="250.46" y="729.40" font-size="6.8" fill="#0d0d0d">3</text>
<text x="142.62" y="736.80" font-size="7.58" fill="#0d0d0d">Adjusted Hazard Ratio (OS)</text>
<text x="345.80" y="540.60" font-size="13" font-weight="bold" fill="#000">(F)</text>
<defs>
<radialGradient id="gDP" cx="50%" cy="35%" r="75%"><stop offset="0" stop-color="#9cc6ee"/><stop offset="1" stop-color="#b9d6f2"/></radialGradient>
<radialGradient id="gE2" cx="50%" cy="45%" r="70%"><stop offset="0" stop-color="#f6351f"/><stop offset="1" stop-color="#d81c14"/></radialGradient>
</defs>
<ellipse cx="500.2" cy="643.5" rx="134.5" ry="73" fill="#f9d9b4"/>
<rect x="466.5" y="546.1" width="57.8" height="17.6" rx="5" ry="5" fill="#2ba5de"/>
<text x="469.65" y="556.90" font-size="10.0" font-weight="bold" fill="#10161e">Oxaliplatin</text>
<line x1="497.90" y1="566.40" x2="497.90" y2="585.70" stroke="#111" stroke-width="0.9" />
<path d="M497.9,591.5 L496.4,585.2 L499.4,585.2Z" fill="#111"/>
<text x="477.95" y="611.40" font-size="11.71" font-weight="bold" fill="#000">CDK5</text>
<line x1="514.00" y1="614.50" x2="514.00" y2="604.80" stroke="#111" stroke-width="1.0" />
<path d="M514.0,599.9 L515.5,605.3 L512.5,605.3Z" fill="#111"/>
<line x1="447.00" y1="607.20" x2="474.50" y2="607.20" stroke="#1a1a1a" stroke-width="0.9" />
<line x1="447.00" y1="604.50" x2="447.00" y2="610.00" stroke="#1a1a1a" stroke-width="1.1" />
<ellipse cx="428.7" cy="610" rx="14.1" ry="5.4" fill="url(#gDP)"/>
<text x="420.20" y="613.40" font-size="8.74" font-weight="bold" fill="#16202e">DP1</text>
<circle cx="424.2" cy="589.8" r="3.5" fill="#41c23c"/>
<circle cx="427.2" cy="595.3" r="3.5" fill="#41c23c"/>
<circle cx="429.9" cy="600.9" r="3.5" fill="#41c23c"/>
<text x="420.72" y="591.50" font-size="5.7" font-weight="bold" fill="#000">ub</text>
<text x="423.72" y="597.00" font-size="5.7" font-weight="bold" fill="#000">ub</text>
<text x="426.42" y="602.60" font-size="5.7" font-weight="bold" fill="#000">ub</text>
<line x1="481.10" y1="616.60" x2="474.90" y2="623.84" stroke="#111" stroke-width="0.9" />
<path d="M472.1,627.1 L474.1,622.5 L476.4,624.4Z" fill="#111"/>
<line x1="451.00" y1="656.45" x2="451.00" y2="658.68" stroke="#a8987e" stroke-width="0.75" />
<line x1="455.00" y1="656.09" x2="455.00" y2="658.95" stroke="#a8987e" stroke-width="0.75" />
<line x1="457.00" y1="653.91" x2="457.00" y2="660.21" stroke="#efe9dc" stroke-width="0.75" />
<line x1="459.00" y1="652.46" x2="459.00" y2="660.38" stroke="#a8987e" stroke-width="0.75" />
<line x1="461.00" y1="652.06" x2="461.00" y2="659.43" stroke="#efe9dc" stroke-width="0.75" />
<line x1="463.00" y1="652.80" x2="463.00" y2="657.56" stroke="#a8987e" stroke-width="0.75" />
<line x1="469.00" y1="653.00" x2="469.00" y2="657.23" stroke="#efe9dc" stroke-width="0.75" />
<line x1="471.00" y1="652.10" x2="471.00" y2="659.20" stroke="#a8987e" stroke-width="0.75" />
<line x1="473.00" y1="652.33" x2="473.00" y2="660.31" stroke="#efe9dc" stroke-width="0.75" />
<line x1="475.00" y1="653.64" x2="475.00" y2="660.31" stroke="#a8987e" stroke-width="0.75" />
<line x1="477.00" y1="655.74" x2="477.00" y2="659.20" stroke="#efe9dc" stroke-width="0.75" />
<line x1="481.00" y1="656.82" x2="481.00" y2="658.40" stroke="#efe9dc" stroke-width="0.75" />
<line x1="483.00" y1="654.51" x2="483.00" y2="659.94" stroke="#a8987e" stroke-width="0.75" />
<line x1="485.00" y1="652.80" x2="485.00" y2="660.45" stroke="#efe9dc" stroke-width="0.75" />
<line x1="487.00" y1="652.06" x2="487.00" y2="659.82" stroke="#a8987e" stroke-width="0.75" />
<line x1="489.00" y1="652.46" x2="489.00" y2="658.20" stroke="#efe9dc" stroke-width="0.75" />
<line x1="491.00" y1="653.91" x2="491.00" y2="655.92" stroke="#a8987e" stroke-width="0.75" />
<line x1="495.00" y1="653.47" x2="495.00" y2="656.53" stroke="#a8987e" stroke-width="0.75" />
<line x1="497.00" y1="652.26" x2="497.00" y2="658.68" stroke="#efe9dc" stroke-width="0.75" />
<line x1="499.00" y1="652.14" x2="499.00" y2="660.08" stroke="#a8987e" stroke-width="0.75" />
<line x1="501.00" y1="653.15" x2="501.00" y2="660.43" stroke="#efe9dc" stroke-width="0.75" />
<line x1="503.00" y1="655.05" x2="503.00" y2="659.64" stroke="#a8987e" stroke-width="0.75" />
<path d="M458.4,661.4 L459.0,661.4 L459.6,661.2 L460.2,660.9 L460.8,660.6 L461.4,660.1 L462.0,659.6 L462.5,659.0 L463.1,658.4 L463.7,657.7 L464.3,657.0 L464.9,656.3 L465.5,655.6 L466.1,654.9 L466.7,654.2 L467.3,653.5 L467.9,652.9 L468.5,652.4 L469.1,652.0 L469.7,651.6 L470.2,651.3 L470.8,651.1 L471.4,651.1 L472.0,651.1 L472.6,651.2 L473.2,651.4 L473.8,651.7 L474.4,652.1 L475.0,652.6 L475.6,653.2 L476.2,653.8 L476.8,654.5 L477.4,655.2 L477.9,655.9 L478.5,656.6 L479.1,657.3 L479.7,658.0 L480.3,658.7 L480.9,659.3 L481.5,659.9 L482.1,660.3 L482.7,660.8 L483.3,661.1 L483.9,661.3 L484.5,661.4 L485.0,661.4 L485.6,661.4 L486.2,661.2 L486.8,660.9 L487.4,660.6 L488.0,660.1 L488.6,659.6 L489.2,659.0 L489.8,658.4 L490.4,657.7 L491.0,657.0 L491.6,656.2 L492.2,655.5 L492.7,654.8 L493.3,654.1 L493.9,653.5 L494.5,652.9 L495.1,652.4 L495.7,651.9 L496.3,651.6 L496.9,651.3 L497.5,651.1 L498.1,651.1 L498.7,651.1 L499.3,651.2 L499.9,651.4 L500.4,651.8 L501.0,652.2 L501.6,652.7 L502.2,653.2 L502.8,653.8 L503.4,654.5 L504.0,655.2 L504.6,655.9 L505.2,656.7 L505.8,657.4 L506.4,658.1 L507.0,658.7 L507.6,659.4 L508.1,659.9 L508.7,660.4 L509.3,660.8 L509.9,661.1 L510.5,661.3 L511.1,661.4 L511.7,661.4" fill="none" stroke="#1c469a" stroke-width="2.7" stroke-linecap="round"/>
<path d="M447.3,661.4 L447.9,661.4 L448.5,661.3 L449.1,661.0 L449.7,660.7 L450.3,660.3 L450.9,659.8 L451.5,659.2 L452.1,658.6 L452.7,657.9 L453.3,657.2 L453.9,656.4 L454.5,655.7 L455.1,655.0 L455.7,654.3 L456.3,653.6 L456.9,653.0 L457.5,652.5 L458.1,652.0 L458.7,651.6 L459.3,651.3 L459.9,651.1 L460.5,651.1 L461.1,651.1 L461.7,651.2 L462.3,651.4 L462.9,651.7 L463.5,652.1 L464.1,652.6 L464.7,653.2 L465.3,653.8 L465.9,654.5 L466.5,655.2 L467.1,655.9 L467.7,656.6 L468.3,657.4 L468.9,658.1 L469.5,658.7 L470.1,659.4 L470.7,659.9 L471.3,660.4 L471.9,660.8 L472.5,661.1 L473.1,661.3 L473.7,661.4 L474.2,661.4 L474.8,661.3 L475.4,661.1 L476.0,660.9 L476.6,660.5 L477.2,660.0 L477.8,659.5 L478.4,658.8 L479.0,658.2 L479.6,657.5 L480.2,656.8 L480.8,656.0 L481.4,655.3 L482.0,654.6 L482.6,653.9 L483.2,653.3 L483.8,652.7 L484.4,652.2 L485.0,651.8 L485.6,651.4 L486.2,651.2 L486.8,651.1 L487.4,651.1 L488.0,651.1 L488.6,651.3 L489.2,651.6 L489.8,651.9 L490.4,652.4 L491.0,652.9 L491.6,653.5 L492.2,654.2 L492.8,654.9 L493.4,655.6 L494.0,656.3 L494.6,657.1 L495.2,657.8 L495.8,658.5 L496.4,659.1 L497.0,659.7 L497.6,660.2 L498.2,660.6 L498.8,661.0 L499.4,661.2 L500.0,661.4 L500.6,661.4 L501.2,661.4" fill="none" stroke="#a81a30" stroke-width="2.7" stroke-linecap="round"/>
<ellipse cx="464.2" cy="635.4" rx="13.8" ry="4.8" fill="url(#gDP)"/>
<text x="455.90" y="638.90" font-size="8.74" font-weight="bold" fill="#16202e">DP1</text>
<ellipse cx="456.8" cy="646" rx="15.1" ry="5.5" fill="url(#gE2)"/>
<text x="447.70" y="649.60" font-size="8.12" font-weight="bold" fill="#1c0604">E2F1</text>
<path d="M484.2,651 L484.2,640.1 L501,640.1" fill="none" stroke="#1a1a1a" stroke-width="0.9"/>
<path d="M505.3,640.1 L499.8,638.2 L499.8,642Z" fill="#111"/>
<text x="516.65" y="642.30" font-size="8.41" font-weight="bold" fill="#000">p73</text>
<text x="510.29" y="655.70" font-size="8.74" font-weight="bold" fill="#000">APAF1</text>
<line x1="518.40" y1="663.10" x2="518.40" y2="672.70" stroke="#111" stroke-width="0.9" />
<path d="M518.4,677.4 L516.9,672.2 L519.9,672.2Z" fill="#111"/>
<ellipse cx="514.9" cy="687.5" rx="37.7" ry="6" fill="#f8ee18"/>
<text x="487.4" y="690.2" font-size="7.3" font-weight="bold" fill="#111106" stroke="#111106" stroke-width="0.3" textLength="56.2" lengthAdjust="spacingAndGlyphs">cleaved PARP</text>
<ellipse cx="515.4" cy="702.3" rx="42.4" ry="6.2" fill="#f8ee18"/>
<text x="478" y="705.3" font-size="7.3" font-weight="bold" fill="#111106" stroke="#111106" stroke-width="0.3" textLength="75" lengthAdjust="spacingAndGlyphs">cleaved Caspase3</text>
<text x="484.50" y="734.90" font-size="11.78" font-weight="bold" fill="#000">Apoptosis</text>
<text x="463.06" y="751.00" font-size="11.87" font-weight="bold" fill="#000">Chemosensitivity</text>
</svg>
</body></html>
